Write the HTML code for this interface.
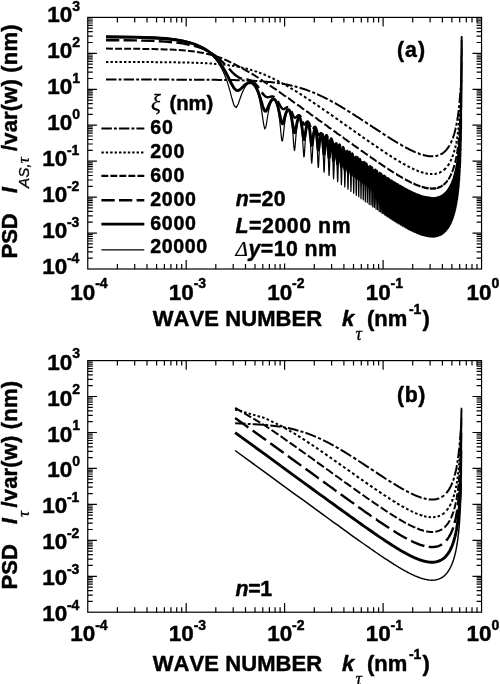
<!DOCTYPE html>
<html><head><meta charset="utf-8"><title>PSD figure</title><style>
html,body{margin:0;padding:0;background:#fff}
svg{display:block}
text{font-family:"Liberation Sans",sans-serif;font-weight:bold;fill:#000;font-kerning:none;stroke:#000;stroke-width:.45px;stroke-linejoin:round}
.tk{font-size:22.5px}
.sp{font-size:14px}
.big{font-size:22px}
.an{font-size:21.3px}
.bi{font-style:italic}
.sub{font-size:18px;font-style:italic;font-weight:normal;font-family:"Liberation Serif",serif;stroke-width:.3px}
.sub2{font-size:15.3px;font-style:italic;font-weight:normal;stroke-width:.3px}
.tau{font-family:"Liberation Serif",serif;font-size:17px}
.lg{font-size:19.6px}
.lgt{font-size:20.3px}
.xi{font-size:23px;font-style:italic;font-weight:normal;font-family:"Liberation Serif",serif;stroke-width:.3px}
.dl{font-style:italic;font-weight:normal;font-family:"Liberation Serif",serif;stroke-width:.2px}
</style></head>
<body><svg width="500" height="684" viewBox="0 0 500 684">
<rect width="500" height="684" fill="#fff"/>
<g id="plot-a">
<path d="M106 79.6L116.5 79.6M118.6 79.6L121.5 79.6M123.6 79.6L134.1 79.6M136.2 79.6L139.1 79.6M141.2 79.6L151.7 79.6M153.8 79.6L156.7 79.6M158.8 79.6L165.3 79.6L169.3 79.6M171.4 79.6L174.3 79.7M176.4 79.7L182.7 79.7L186.9 79.7M189 79.7L189.2 79.7L191.9 79.7M194 79.7L195 79.7L200 79.7L204.5 79.7L204.5 79.7M206.6 79.8L208.6 79.8L209.5 79.8M211.6 79.8L212.3 79.8L215.7 79.8L218.9 79.9L221.8 79.9L222.1 79.9M224.2 79.9L224.6 79.9L227.1 80M229.2 80L229.6 80L231.9 80.1L234.1 80.1L236.2 80.2L238.2 80.2L239.7 80.3M241.8 80.3L241.9 80.3L243.7 80.4L244.7 80.4M246.8 80.5L247 80.5L248.5 80.6L250 80.6L251.5 80.7L252.9 80.8L254.2 80.8L255.5 80.9L256.8 81L257.3 81M259.4 81.2L260.4 81.2L261.6 81.3L262.3 81.4M264.4 81.5L264.8 81.6L265.9 81.7L266.9 81.8L267.8 81.9L268.8 81.9L269.7 82L270.7 82.1L271.6 82.2L272.4 82.3L273.3 82.4L274.2 82.5L274.9 82.7M277 82.9L277.4 83L278.2 83.1L278.9 83.2L279.7 83.3L279.9 83.4M282 83.7L282.5 83.8L283.2 83.9L283.9 84L284.5 84.1L285.2 84.3L285.8 84.4L286.5 84.5L287.1 84.6L287.7 84.7L288.3 84.9L288.9 85L289.5 85.1L290.1 85.3L290.6 85.4L291.2 85.5L291.8 85.6L292.3 85.8L292.5 85.8M294.6 86.3L295 86.4L295.5 86.6L296 86.7L296.5 86.8L297 87L297.5 87.1L297.5 87.1M299.6 87.7L300.3 87.9L301.2 88.2L302.1 88.5L302.9 88.7L303.8 89L304.6 89.3L305.4 89.6L306.2 89.8L307 90.1L307.8 90.4L308.5 90.7L309.3 91L310 91.2L310.1 91.3M312.2 92.1L312.8 92.3L313.5 92.6L314.2 92.9L314.8 93.2L315.1 93.3M317.2 94.2L317.3 94.2L317.9 94.5L318.5 94.8L319.1 95.1L319.7 95.3L320.3 95.6L320.8 95.9L321.4 96.1L322 96.4L322.5 96.6L323 96.9L323.6 97.2L324.1 97.4L324.6 97.7L325.1 97.9L325.6 98.2L326.1 98.4L326.6 98.7L327.1 98.9L327.6 99.2L327.7 99.3M329.8 100.4L329.9 100.4L330.4 100.7L330.8 100.9L331.3 101.1L331.7 101.4L332.2 101.6L332.6 101.9L332.7 101.9M334.8 103.1L335.1 103.2L335.5 103.5L335.9 103.7L336.3 103.9L336.7 104.1L337 104.4L337.4 104.6L338 104.9L338.6 105.2L339.1 105.6L339.7 105.9L340.2 106.2L340.7 106.5L341.3 106.8L341.8 107.2L342.3 107.5L342.8 107.8L343.3 108.1L343.8 108.4L344.3 108.7L344.8 109L345.3 109.3L345.3 109.3M347.4 110.6L347.6 110.7L348 111L348.5 111.2L348.9 111.5L349.3 111.8L349.8 112.1L350.2 112.3L350.3 112.4M352.4 113.7L352.7 113.9L353.1 114.1L353.5 114.4L353.9 114.6L354.3 114.9L354.6 115.1L355 115.4L355.4 115.6L355.8 115.9L356.1 116.1L356.5 116.3L356.9 116.6L357.4 116.9L357.8 117.2L358.3 117.5L358.8 117.8L359.2 118.1L359.7 118.4L360.1 118.7L360.6 119L361 119.3L361.5 119.6L361.9 119.8L362.3 120.1L362.7 120.4L362.9 120.5M365 121.9L365.2 122L365.6 122.3L366 122.5L366.4 122.8L366.8 123.1L367.2 123.3L367.5 123.6L367.9 123.8L367.9 123.8M370 125.2L370.3 125.4L370.7 125.7L371.2 125.9L371.6 126.2L372 126.5L372.4 126.8L372.9 127.1L373.3 127.3L373.7 127.6L374.1 127.9L374.5 128.1L374.9 128.4L375.3 128.7L375.7 128.9L376.1 129.2L376.5 129.4L376.8 129.7L377.2 129.9L377.6 130.2L378 130.4L378.3 130.7L378.7 130.9L379.1 131.2L379.6 131.5L380 131.7L380.4 132L380.5 132.1M382.6 133.5L382.8 133.6L383.2 133.9L383.6 134.1L384 134.4L384.4 134.6L384.8 134.9L385.2 135.1L385.5 135.3L385.5 135.3M387.6 136.7L387.9 136.9L388.3 137.1L388.8 137.4L389.2 137.6L389.5 137.9L389.9 138.1L390.3 138.4L390.7 138.6L391.1 138.9L391.5 139.1L391.9 139.3L392.2 139.6L392.6 139.8L393.1 140.1L393.5 140.3L393.9 140.6L394.3 140.8L394.7 141.1L395.1 141.3L395.5 141.6L395.9 141.8L396.3 142L396.7 142.3L397 142.5L397.4 142.7L397.8 143L398.1 143.2M400.2 144.4L400.3 144.4L400.7 144.6L401.1 144.9L401.4 145.1L401.8 145.3L402.2 145.5L402.7 145.8L403.1 146L403.1 146M405.2 147.2L405.5 147.3L405.9 147.6L406.3 147.8L406.7 148L407.1 148.2L407.6 148.4L408 148.6L408.4 148.9L408.8 149.1L409.2 149.3L409.6 149.5L410 149.7L410.5 149.9L410.9 150.1L411.3 150.3L411.7 150.5L412.1 150.7L412.6 150.9L413 151.1L413.4 151.3L413.8 151.5L414.3 151.7L414.7 151.9L415.2 152.1L415.6 152.3L415.7 152.3M417.8 153.2L418.2 153.3L418.7 153.5L419.2 153.7L419.6 153.8L420 154L420.5 154.2L420.7 154.2M422.8 154.9L422.9 154.9L423.3 155L423.8 155.2L424.3 155.3L424.8 155.4L425.3 155.5L425.8 155.6L426.3 155.7L426.8 155.8L427.3 155.9L427.9 156L428.4 156.1L428.9 156.2L429.5 156.2L430.1 156.3L430.6 156.3L431.2 156.3L431.8 156.3L432 156.3L432.6 156.3L433.2 156.3L433.3 156.3M435.4 156.1L436 156L436.5 155.9L437 155.8L437.4 155.6L437.9 155.5L438.3 155.4M440.4 154.5L440.6 154.4L441 154.2L441.4 154L441.7 153.8L442.1 153.6L442.5 153.3L442.9 153.1L443.2 152.8L443.6 152.5L443.9 152.3L444.2 152L444.6 151.7L444.9 151.4L445.2 151.1L445.5 150.8L445.8 150.5L446.1 150.2L446.4 149.8L446.7 149.5L446.9 149.2L447.2 148.8L447.5 148.5L447.7 148.1L448 147.8L448.3 147.4L448.5 147L448.7 146.7L449 146.3L449.2 145.9L449.5 145.5L449.5 145.4M450.7 143.3L450.8 143.1L451 142.7L451.2 142.2L451.4 141.8L451.5 141.4L451.7 141L451.9 140.5L452 140.4M452.8 138.3L453 137.8L453.1 137.4L453.3 136.9L453.4 136.4L453.6 136L453.7 135.5L453.9 135L454 134.5L454.2 134L454.3 133.6L454.5 133.1L454.6 132.6L454.7 132.1L454.9 131.6L455 131.1L455.1 130.6L455.3 130.1L455.4 129.6L455.5 129.1L455.6 128.6L455.7 128L455.8 127.8M456.3 125.7L456.3 125.4L456.4 124.9L456.5 124.4L456.6 123.8L456.7 123.2L456.8 122.8M457.2 120.7L457.2 120.6L457.3 120.1L457.4 119.5L457.5 118.9L457.6 118.3L457.6 117.8L457.7 117.3L457.8 116.7L457.9 116.2L458 115.6L458 115.1L458.1 114.5L458.2 113.9L458.3 113.3L458.4 112.7L458.4 112.1L458.5 111.6L458.6 111.1L458.6 110.5L458.7 110.2M458.9 108.1L459 107.6L459 106.9L459.1 106.3L459.2 105.7L459.2 105.2M459.4 103.1L459.5 102.8L459.5 102.2L459.6 101.6L459.6 101L459.7 100.4L459.7 99.8L459.8 99.2L459.8 98.6L459.9 97.9L459.9 97.3L460 96.6L460.1 96L460.1 95.3L460.2 94.6L460.2 94L460.3 93.3L460.3 92.6L460.3 92.6M460.5 90.5L460.5 89.8L460.6 89.1L460.6 88.5L460.7 87.8L460.7 87.6M460.9 85.5L460.9 85.1L461 84.5L461 83.9L461.1 83.3L461.1 82.8L461.2 82.1L461.3 81.6L461.3 81L461.4 80.4L461.5 79.9L461.7 79.6" fill="none" stroke="#000" stroke-width="2.0" stroke-linejoin="round"/>
<path d="M460.8 90.4L460.8 89.7L460.9 89.1L460.9 88.4L460.9 87.7L460.9 87L460.9 86.3L461 85.6L461 84.9L461 84.1L461 83.4L461 82.6L461.1 81.9L461.1 81.1L461.1 80.3L461.1 79.5L461.2 78.6L461.2 77.8L461.2 77L461.2 76.1L461.2 75.3L461.3 74.4L461.3 73.5L461.3 72.7L461.3 71.8L461.3 70.9L461.4 70.1L461.4 69.3L461.4 68.4L461.4 67.6L461.5 66.8L461.5 66.1L461.5 65.4L461.5 64.7L461.5 64.1L461.6 63.4L461.6 62.7L461.6 62.1L461.7 62" fill="none" stroke="#000" stroke-width="1.6" stroke-linejoin="round"/>
<path d="M106 62L108.4 62M110.5 62L112.9 62.1M115 62.1L117.4 62.1M119.5 62.1L121.9 62.1M124 62.1L126.4 62.1M128.5 62.1L130.9 62.1M133 62.1L135.4 62.1M137.5 62.1L139.9 62.1M142 62.1L144.4 62.1M146.5 62.1L148.9 62.1M151 62.1L153 62.1L153.4 62.1M155.5 62.2L157.9 62.2M160 62.2L162.4 62.2M164.5 62.2L165.3 62.2L166.9 62.2M169 62.3L171.4 62.3M173.5 62.3L174.9 62.3L175.9 62.3M178 62.4L180.4 62.4M182.5 62.4L182.7 62.4L184.9 62.5M187 62.5L189.2 62.6L189.4 62.6M191.5 62.7L193.9 62.7M196 62.8L198.4 62.9M200.5 63L202.9 63.1M205 63.2L207.4 63.3M209.5 63.4L211.9 63.6M214 63.7L215.7 63.9L216.4 63.9M218.5 64.1L218.9 64.1L220.9 64.3M223 64.6L224.6 64.7L225.4 64.8M227.5 65.1L229.6 65.4L229.9 65.4M232 65.8L234.1 66.1L234.4 66.2M236.5 66.5L238.2 66.8L238.9 67M241 67.4L241.9 67.6L243.4 68M245.5 68.5L247 68.8L247.9 69.1M250 69.7L251.5 70.1L252.4 70.4M254.5 71.1L255.5 71.4L256.8 71.8L256.9 71.9M259 72.6L259.3 72.7L260.4 73.1L261.4 73.5M263.5 74.3L263.8 74.4L264.8 74.8L265.9 75.3L265.9 75.3M268 76.2L268.8 76.6L269.7 77L270.4 77.3M272.5 78.3L273.3 78.6L274.2 79.1L274.9 79.4M277 80.5L277.4 80.7L278.2 81.1L278.9 81.5L279.4 81.8M281.5 82.9L281.8 83L282.5 83.4L283.2 83.8L283.9 84.1L283.9 84.2M286 85.4L286.5 85.6L287.1 86L287.7 86.3L288.3 86.7L288.4 86.8M290.5 88L290.6 88.1L291.2 88.4L291.8 88.7L292.3 89.1L292.9 89.4L292.9 89.4M295 90.7L295.5 91L296 91.3L296.5 91.6L297 91.9L297.4 92.2M299.5 93.5L299.8 93.7L300.3 94L300.8 94.3L301.2 94.6L301.6 94.9L301.9 95.1M304 96.4L304.2 96.5L304.6 96.8L305 97.1L305.4 97.3L305.8 97.6L306.2 97.9L306.4 98M308.5 99.4L308.5 99.4L308.9 99.6L309.3 99.9L309.7 100.1L310 100.4L310.4 100.6L310.9 101M313 102.4L313.2 102.5L313.8 102.9L314.5 103.4L315.1 103.8L315.4 104M317.5 105.5L317.6 105.5L318.2 105.9L318.8 106.3L319.4 106.7L319.9 107.1M322 108.6L322.2 108.7L322.8 109.1L323.3 109.4L323.8 109.8L324.4 110.2L324.4 110.2M326.5 111.7L326.9 111.9L327.4 112.2L327.8 112.6L328.3 112.9L328.8 113.2L328.9 113.3M331 114.8L331.1 114.8L331.5 115.1L331.9 115.4L332.4 115.7L332.8 116L333.2 116.3L333.4 116.5M335.5 118L335.7 118.1L336.1 118.4L336.5 118.6L336.8 118.9L337.2 119.2L337.6 119.4L337.9 119.7M340 121.2L340.2 121.3L340.6 121.5L340.9 121.8L341.4 122.1L341.9 122.5L342.4 122.9M344.5 124.3L344.9 124.6L345.4 125L345.9 125.3L346.4 125.6L346.8 125.9L346.9 126M349 127.5L349.1 127.5L349.5 127.8L349.9 128.1L350.3 128.4L350.8 128.7L351.2 129L351.4 129.2M353.5 130.7L353.6 130.7L354 131L354.4 131.3L354.8 131.6L355.1 131.8L355.5 132.1L355.9 132.4L355.9 132.4M358 133.9L358.1 133.9L358.5 134.2L359 134.5L359.5 134.9L359.9 135.2L360.4 135.5L360.4 135.6M362.5 137L363 137.3L363.4 137.6L363.8 137.9L364.2 138.2L364.6 138.5L364.9 138.7M367 140.2L367.3 140.4L367.7 140.7L368.1 140.9L368.5 141.2L368.8 141.4L369.2 141.7L369.4 141.9M371.5 143.3L371.6 143.3L372 143.6L372.4 143.9L372.9 144.2L373.3 144.5L373.7 144.8L373.9 145M376 146.4L376.1 146.4L376.5 146.7L376.8 146.9L377.2 147.2L377.6 147.4L378 147.7L378.3 147.9L378.4 148M380.5 149.4L380.7 149.5L381.1 149.8L381.5 150.1L381.9 150.4L382.3 150.6L382.7 150.9L382.9 151.1M385 152.4L385.4 152.7L385.8 152.9L386.1 153.2L386.5 153.4L386.9 153.7L387.3 154L387.4 154M389.5 155.4L389.8 155.5L390.2 155.8L390.6 156L390.9 156.3L391.3 156.5L391.7 156.8L391.9 156.9M394 158.2L394.1 158.3L394.5 158.5L394.9 158.8L395.3 159L395.7 159.3L396.1 159.5L396.4 159.7M398.5 161L398.8 161.2L399.2 161.4L399.6 161.7L400 161.9L400.4 162.1L400.8 162.4L400.9 162.4M403 163.6L403.2 163.7L403.6 164L404 164.2L404.4 164.4L404.8 164.6L405.2 164.9L405.4 165M407.5 166.1L407.7 166.2L408.1 166.4L408.5 166.6L408.9 166.8L409.3 167L409.8 167.2L409.9 167.3M412 168.4L412.3 168.5L412.7 168.7L413.1 168.9L413.6 169.1L414 169.3L414.4 169.5L414.4 169.5M416.5 170.4L416.6 170.4L417 170.6L417.5 170.8L417.9 170.9L418.4 171.1L418.8 171.3L418.9 171.3M421 172L421.1 172.1L421.6 172.2L422 172.4L422.5 172.5L423 172.6L423.4 172.8M425.5 173.3L426 173.4L426.5 173.5L427 173.6L427.5 173.7L427.9 173.7M430 174L430.2 174L430.8 174L431.4 174.1L432 174.1L432 174.1L432.4 174.1M434.5 173.9L434.9 173.9L435.4 173.8L436 173.7L436.5 173.6L436.9 173.5M439 172.8L439.3 172.8L439.7 172.6L440.1 172.4L440.5 172.2L440.9 172L441.3 171.7L441.4 171.7M443.5 170.3L443.9 170L444.2 169.7L444.5 169.4L444.9 169.1L445.2 168.8L445.5 168.5L445.8 168.2L445.9 168M447.6 165.9L447.7 165.8L448 165.4L448.3 165.1L448.5 164.7L448.7 164.3L449 163.9L449.2 163.5L449.2 163.5M450.4 161.4L450.5 161.1L450.7 160.7L450.9 160.3L451.1 159.9L451.3 159.4L451.5 159M452.4 156.9L452.4 156.8L452.6 156.3L452.8 155.9L452.9 155.4L453.1 154.9L453.2 154.5M453.9 152.4L454 152.1L454.1 151.6L454.3 151.2L454.4 150.7L454.5 150.2L454.6 150M455.1 147.9L455.2 147.7L455.3 147.2L455.4 146.7L455.5 146.1L455.7 145.6L455.7 145.5M456.1 143.4L456.2 143L456.3 142.5L456.4 141.9L456.5 141.4L456.6 141M456.9 138.9L457 138.7L457.1 138.1L457.2 137.5L457.3 137L457.3 136.5M457.6 134.4L457.7 134.2L457.7 133.6L457.8 133L457.9 132.4L458 132M458.2 129.9L458.3 129.6L458.3 129L458.4 128.4L458.5 127.8L458.5 127.5M458.7 125.4L458.7 125.4L458.8 124.8L458.8 124.3L458.9 123.7L458.9 123.1L458.9 123M459.1 120.9L459.2 120.6L459.2 120L459.3 119.3L459.3 118.6L459.3 118.5M459.5 116.4L459.5 116.2L459.6 115.6L459.6 115L459.7 114.4L459.7 114M459.8 111.9L459.8 111.7L459.9 111L459.9 110.3L460 109.6L460 109.5M460.1 107.4L460.1 106.9L460.1 106.3L460.2 105.7L460.2 105.1L460.2 105M460.3 102.9L460.3 102.5L460.4 101.8L460.4 101.1L460.4 100.5M460.5 98.4L460.5 98.1L460.6 97.3L460.6 96.5L460.6 96M460.7 93.9L460.7 93.4L460.7 92.8L460.8 92.2L460.8 91.6L460.8 91.5" fill="none" stroke="#000" stroke-width="2.0" stroke-linejoin="round"/>
<path d="M460.6 109.1L460.6 108.4L460.7 107.7L460.7 107L460.7 106.3L460.7 105.7L460.7 105.1L460.8 104.5L460.8 103.8L460.8 103.1L460.8 102.4L460.8 101.5L460.9 100.7L460.9 99.8L460.9 99L460.9 98.1L461 97.3L461 96.5L461 95.7L461 94.8L461 93.8L461.1 92.8L461.1 91.7L461.1 90.5L461.1 89.4L461.1 88.3L461.2 87.2L461.2 86.1L461.2 84.9L461.2 84.3L461.2 83.6L461.2 83L461.3 82.3L461.3 81.5L461.3 80.8L461.3 80L461.3 79.2L461.3 78.4L461.3 77.6L461.3 76.8L461.3 76L461.3 75.2L461.4 74.4L461.4 73.6L461.4 72.7L461.4 71.9L461.4 71L461.4 70.1L461.4 69.2L461.4 68.2L461.4 67.2L461.5 66.2L461.5 65.1L461.5 64L461.5 62.9L461.5 61.8L461.5 60.6L461.5 59.5L461.5 58.3L461.5 57.2L461.5 56.2L461.6 55.1L461.6 54.2L461.6 53.2L461.6 52.4L461.6 51.6L461.6 50.9L461.6 50.3L461.6 49.4L461.7 48.8L461.7 48.6" fill="none" stroke="#000" stroke-width="1.6" stroke-linejoin="round"/>
<path d="M106 48.6L112.9 48.7M115.1 48.7L122 48.7M124.2 48.7L131.1 48.7M133.3 48.8L135.7 48.8L140.2 48.8M142.4 48.9L149.3 49M151.5 49L153 49L158.4 49.2M160.6 49.2L165.3 49.4L167.5 49.5M169.7 49.6L174.9 49.8L176.6 49.9M178.8 50.1L182.7 50.3L185.7 50.6M187.9 50.8L189.2 50.9L194.8 51.6M197 51.9L200 52.4L203.9 53.1M206.1 53.6L208.6 54.2L212.3 55.1L213 55.4M215.2 56L215.7 56.2L218.9 57.2L221.8 58.3L222.1 58.5M224.3 59.4L224.6 59.5L227.2 60.6L229.6 61.8L231.2 62.6M233.4 63.7L234.1 64L236.2 65.1L238.2 66.2L240.1 67.2L240.3 67.3M242.5 68.5L243.7 69.2L245.3 70.1L247 71L248.5 71.9L249.4 72.4M251.6 73.7L252.9 74.4L254.2 75.2L255.5 76L256.8 76.8L258.1 77.6L258.5 78M260.7 79.5L261.6 80L262.7 80.8L263.8 81.5L264.8 82.3L265.9 83L266.9 83.6L267.6 84.1M269.8 85.6L270.7 86.1L271.6 86.6L272.4 87.2L273.3 87.8L274.2 88.3L275 88.9L275.8 89.4L276.6 90L276.7 90.1M278.9 91.7L279.7 92.2L280.4 92.8L281.1 93.3L281.8 93.8L282.5 94.3L283.2 94.8L283.9 95.3L284.5 95.7L285.2 96.1L285.8 96.5L285.8 96.6M288 98L288.3 98.1L288.9 98.6L289.5 99L290.1 99.4L290.6 99.8L291.2 100.3L291.8 100.7L292.3 101.1L292.9 101.5L293.4 102L293.9 102.4L294.5 102.7L294.9 103.1M297.1 104.6L297.5 104.8L298 105.1L298.4 105.4L298.9 105.7L299.4 106L299.8 106.3L300.3 106.7L300.8 107L301.2 107.4L301.6 107.7L302.1 108.1L302.5 108.4L302.9 108.8L303.4 109.1L303.8 109.4L304 109.6M306.2 111.1L306.6 111.3L307 111.5L307.4 111.8L307.8 112L308.2 112.3L308.5 112.6L308.9 112.9L309.3 113.1L309.7 113.4L310 113.7L310.4 114L310.7 114.3L311.1 114.6L311.4 114.9L311.8 115.2L312.5 115.6L313.1 116.1M315.3 117.5L315.8 117.8L316.4 118.3L317 118.8L317.6 119.3L318.2 119.8L318.8 120.2L319.4 120.6L320 120.9L320.6 121.3L321.1 121.6L321.7 122L322.2 122.5L322.2 122.5M324.4 124.3L324.9 124.5L325.4 124.8L325.9 125.1L326.4 125.4L326.9 125.8L327.4 126.2L327.8 126.6L328.3 127L328.8 127.4L329.2 127.8L329.7 128.1L330.2 128.3L330.6 128.6L331.1 128.8L331.3 129M333.5 130.8L333.6 130.9L334.1 131.2L334.5 131.4L334.9 131.6L335.3 131.9L335.7 132.1L336.1 132.4L336.5 132.8L336.8 133.1L337.2 133.5L337.6 133.8L338 134L338.6 134.4L339.1 134.7L339.7 135L340 135.3L340.4 135.6L340.4 135.7M342.6 137.2L343 137.4L343.5 137.8L343.8 138.1L344.1 138.4L344.5 138.7L344.9 139L345.4 139.3L345.9 139.6L346.4 139.8L346.8 140.2L347.3 140.6L347.7 141L348.2 141.4L348.6 141.6L349.1 141.8L349.5 142.1L349.5 142.1M351.7 143.8L352.1 144L352.5 144.3L352.9 144.6L353.3 145L353.7 145.4L354.1 145.6L354.6 145.8L355.1 146.1L355.5 146.4L355.9 146.8L356.3 147.2L356.8 147.4L357.2 147.6L357.7 147.9L358.1 148.3L358.4 148.6L358.6 148.8M360.8 150.4L361.2 150.7L361.7 150.8L362.1 151L362.5 151.4L362.9 151.7L363.2 152L363.6 152.3L364.1 152.5L364.5 152.8L364.8 153.1L365.1 153.4L365.5 153.7L366 153.8L366.5 154.1L366.9 154.5L367.3 154.9L367.7 155.1M369.8 156.5L370.2 156.7L370.5 157.1L370.9 157.4L371.3 157.7L371.8 157.9L372.2 158.2L372.5 158.5L372.9 158.8L373.4 159L373.8 159.2L374.1 159.6L374.4 159.9L374.9 160.1L375.4 160.3L375.7 160.6L376 161L376.5 161.2L376.6 161.2M378.7 162.7L378.8 162.7L379.1 163.1L379.5 163.2L380 163.5L380.3 163.8L380.6 164.1L381.2 164.3L381.5 164.5L381.8 164.9L382.2 165.1L382.7 165.3L383 165.7L383.4 166L383.9 166.1L384.3 166.4L384.6 166.8L385.1 166.9L385.4 167.1M387.4 168.6L387.5 168.6L387.9 168.8L388.2 169.1L388.6 169.3L388.7 169.3L389.2 169.6L389.4 169.9L389.8 170.1L389.9 170.1L390.3 170.3L390.6 170.6L390.9 170.8L391 170.8L391.4 171L391.7 171.4L392 171.5L392.2 171.5L392.5 171.8L392.9 172.1L393 172.2L393.2 172.2L393.6 172.5L393.9 172.8M396 174.1L396.1 174.1L396.3 174.1L396.7 174.4L397 174.7L397.1 174.7L397.3 174.7L397.7 175L398 175.3L398.2 175.3L398.6 175.6L398.9 175.9L399 175.9L399.2 175.8L399.6 176.1L399.9 176.4L400.1 176.4L400.4 176.7L400.7 176.9L401 176.9L401.4 177.2L401.6 177.5L401.9 177.4L402.2 177.7L402.5 177.9L402.7 177.9L402.9 178M405.1 179.3L405.2 179.3L405.5 179.6L405.8 179.8L406 179.7L406.4 180.1L406.5 180.2L406.8 180.1L407.1 180.4L407.3 180.6L407.6 180.5L407.9 180.9L408.1 181L408.3 180.9L408.6 181.2L408.8 181.4L409.1 181.3L409.4 181.6L409.5 181.8L409.8 181.7L410.1 182L410.2 182.1L410.5 182L410.8 182.4L411 182.5L411.2 182.4L411.5 182.7L411.6 182.8L411.8 182.8M413.8 183.7L413.9 183.6L414.2 184L414.3 184.1L414.6 183.9L414.9 184.3L414.9 184.4L415.2 184.2L415.5 184.5L415.6 184.6L415.8 184.5L416.1 184.8L416.2 184.9L416.4 184.7L416.7 185.1L416.8 185.1L417.1 185L417.4 185.4L417.4 185.4L417.7 185.2L418 185.6L418 185.6L418.3 185.5L418.6 185.8L418.6 185.8L418.8 185.7L419.1 186L419.2 186.1L419.4 185.9L419.7 186.3L419.8 186.3L420 186.1L420.1 186.2M422.1 187L422.2 186.8L422.5 187.2L422.8 187L423 187.3L423.1 187.3L423.3 187.1L423.6 187.5L423.8 187.3L424.1 187.6L424.3 187.4L424.6 187.7L424.8 187.5L425.1 187.9L425.3 187.7L425.6 188L425.8 187.8L426.1 188.1L426.3 187.9L426.6 188.2L426.8 188L427.1 188.3L427.3 188.1L427.6 188.4L427.8 188.1L428 188.4L428.2 188.2L428.4 188.4M430.3 188.7L430.5 188.4L430.8 188.7L431 188.5L431.2 188.7L431.4 188.5L431.6 188.7L431.8 188.5L432 188.7L432.3 188.5L432.5 188.7L432.7 188.5L432.9 188.7L433.1 188.5L433.3 188.7L433.5 188.4L433.7 188.7L433.9 188.4L434.1 188.6L434.3 188.4L434.5 188.6L434.7 188.3L434.9 188.6L435.1 188.3L435.3 188.5L435.5 188.2L435.7 188.4L435.9 188.1M437.6 187.9L437.6 188L437.8 187.7L438 187.9L438.2 187.5L438.4 187.7L438.6 187.4L438.8 187.6L439 187.3L439.1 187.5L439.3 187.1L439.5 187.3L439.7 187L439.8 187.2L440 186.8L440.2 187L440.4 186.7L440.5 186.8L440.7 186.5L440.9 186.7L441.1 186.3L441.2 186.5L441.4 186.1L441.6 186.3L441.8 185.9L441.9 186.1L442.1 185.7L442.2 185.8L442.3 185.8M443.6 184.8L443.8 184.5L443.9 184.6L444.1 184.2L444.2 184.4L444.4 183.9L444.5 184.1L444.7 183.7L444.7 183.6L444.9 183.8L445 183.3L445.2 183.5L445.4 183L445.4 183L445.5 183.2L445.7 182.7L445.7 182.7L445.8 182.8L446 182.4L446 182.4L446.1 182.5L446.3 182L446.3 182L446.4 182.1L446.6 181.7L446.6 181.7L446.7 181.8L446.9 181.3L446.9 181.3L447 181.4L447.2 180.9L447.2 180.9L447.3 181L447.4 180.8M448.5 179.3L448.7 178.9L448.7 178.8L448.8 178.9L448.9 178.4L449 178.4L449.1 178.4L449.2 178L449.3 177.9L449.4 177.9L449.5 177.5L449.5 177.4L449.6 177.5L449.8 177L449.8 176.9L449.9 176.9L450.1 176.5L450.1 176.4L450.2 176.4L450.3 175.9L450.4 175.8L450.5 175.9L450.6 175.4L450.7 175.3L450.8 175.3L450.9 174.8L451 174.7L451 174.7L451.2 174.2L451.2 174.1L451.3 174.1L451.4 173.6L451.4 173.6M452.3 171.7L452.3 171.5L452.4 171.5L452.5 171L452.6 170.8L452.6 170.8L452.8 170.3L452.9 170.1L452.9 170.1L453 169.6L453.1 169.3L453.1 169.3L453.3 168.9L453.4 168.6L453.4 168.6L453.5 168L453.7 167.6L453.8 167L454 166.6L454.1 166.1L454.3 165.6L454.5 165.1L454.5 165M455 162.8L455.1 162.6L455.2 162.1L455.3 161.6L455.5 161.1L455.6 160.5L455.7 160L455.8 159.5L455.9 158.9L456 158.4L456.1 157.9L456.2 157.4L456.3 156.8L456.5 156.3L456.5 155.9M456.9 153.7L456.9 153.6L457 153L457.1 152.4L457.2 151.9L457.3 151.3L457.4 150.8L457.4 150.2L457.5 149.7L457.6 149.1L457.7 148.5L457.7 147.9L457.8 147.4L457.9 146.8L457.9 146.8M458.2 144.6L458.2 144.5L458.3 143.9L458.3 143.3L458.4 142.7L458.5 142.1L458.5 141.5L458.6 140.9L458.7 140.3L458.7 139.7L458.8 139.2L458.8 138.5L458.9 137.9L458.9 137.7M459.1 135.5L459.1 135.3L459.2 134.7L459.2 134L459.3 133.5L459.3 132.8L459.4 132.1L459.4 131.5L459.5 130.9L459.5 130.2L459.6 129.6L459.6 129L459.6 128.6M459.8 126.4L459.8 125.8L459.9 125.1L459.9 124.5L459.9 123.8L460 123.2L460 122.5L460 121.8L460.1 121.1L460.1 120.4L460.2 119.8L460.2 119.5M460.3 117.3L460.3 116.9L460.3 116.3L460.4 115.6L460.4 114.9L460.4 114L460.4 113.4L460.5 112.9L460.5 112L460.5 111.3L460.6 110.5L460.6 110.4" fill="none" stroke="#000" stroke-width="2.0" stroke-linejoin="round"/>
<path d="M432.1 203.2L432.1 202.5L432.1 201.7L432.1 200.8L432.2 199.9L432.2 199.2L432.2 198.6L432.3 198.1L432.3 198.9L432.3 199.6L432.4 200.4L432.4 201.2L432.4 202.1L432.4 202.9L432.4 203.5L432.5 203.8L432.5 202.9L432.5 202.1L432.6 201.2L432.6 200.3L432.6 199.5L432.6 198.9L432.7 198.1L432.7 198L432.7 198.6L432.7 199.2L432.8 200L432.8 200.8L432.8 201.7L432.8 202.5L432.9 203.2L432.9 203.8L432.9 203.2L433 202.5L433 201.6L433 200.7L433 199.9L433 199.1L433.1 198.2L433.1 198L433.2 198.9L433.2 199.6L433.2 200.4L433.2 201.3L433.2 202.1L433.3 202.9L433.3 203.8L433.4 202.8L433.4 202L433.4 201.1L433.4 200.3L433.4 199.5L433.5 198.8L433.5 198.1L433.5 198L433.6 198.6L433.6 199.2L433.6 199.9L433.6 200.8L433.6 201.7L433.7 202.5L433.7 203.2L433.7 203.8L433.8 203.1L433.8 202.4L433.8 201.5L433.8 200.6L433.8 199.8L433.9 199.1L433.9 198.1L433.9 198L434 198.9L434 199.5L434 200.4L434 201.2L434.1 202.1L434.1 202.9L434.1 203.7L434.2 202.7L434.2 201.9L434.2 201L434.2 200.2L434.3 199.4L434.3 198.7L434.3 198L434.3 197.9L434.4 198.5L434.4 199.1L434.4 199.9L434.4 200.8L434.5 201.7L434.5 202.5L434.5 203.2L434.5 203.7L434.6 203L434.6 202.3L434.6 201.4L434.6 200.5L434.7 199.7L434.7 199L434.7 198L434.7 197.9L434.8 198.8L434.8 199.5L434.8 200.3L434.9 201.2L434.9 202.1L434.9 202.8L434.9 203.6L435 202.6L435 201.8L435 200.9L435 200L435.1 199.2L435.1 198.6L435.1 197.9L435.1 197.8L435.2 198.5L435.2 199.1L435.2 199.8L435.2 200.7L435.3 201.6L435.3 202.4L435.3 203.1L435.3 203.6L435.4 202.9L435.4 202.1L435.4 201.3L435.4 200.4L435.5 199.5L435.5 198.8L435.5 197.9L435.5 197.8L435.6 198.7L435.6 199.4L435.6 200.2L435.6 201.1L435.7 202L435.7 202.7L435.7 203.5L435.8 202.4L435.8 201.6L435.8 200.7L435.8 199.9L435.9 199.1L435.9 198.4L435.9 197.7L435.9 197.7L436 198.4L436 199L436 199.7L436 200.6L436 201.5L436.1 202.3L436.1 203L436.1 203.5L436.2 202.7L436.2 202L436.2 201.1L436.2 200.2L436.2 199.4L436.3 198.6L436.3 197.7L436.3 197.6L436.4 198.6L436.4 199.3L436.4 200.1L436.4 201L436.4 201.8L436.5 202.6L436.5 203.4L436.6 202.3L436.6 201.4L436.6 200.5L436.6 199.7L436.6 198.9L436.7 198.2L436.7 197.6L436.7 197.6L436.7 198.2L436.8 198.8L436.8 199.6L436.8 200.5L436.8 201.4L436.8 202.2L436.9 202.8L436.9 203.3L436.9 202.5L437 201.8L437 200.9L437 200L437 199.2L437 198.4L437.1 197.6L437.1 197.4L437.1 198.4L437.2 199.1L437.2 199.9L437.2 200.8L437.2 201.7L437.2 202.4L437.3 203.2L437.3 202L437.3 201.2L437.4 200.3L437.4 199.4L437.4 198.7L437.4 198L437.4 197.4L437.5 198L437.5 198.7L437.5 199.4L437.6 200.3L437.6 201.2L437.6 202L437.6 202.6L437.7 203.1L437.7 202.3L437.7 201.5L437.7 200.6L437.7 199.7L437.8 198.9L437.8 198.2L437.8 197.3L437.8 197.2L437.9 198.2L437.9 198.9L437.9 199.8L437.9 200.7L438 201.5L438 202.2L438 203L438.1 201.8L438.1 201L438.1 200.1L438.1 199.2L438.1 198.4L438.2 197.8L438.2 197.1L438.3 197.8L438.3 198.5L438.3 199.2L438.3 200.1L438.3 201L438.3 201.8L438.4 202.4L438.4 202.8L438.4 202L438.5 201.2L438.5 200.4L438.5 199.5L438.5 198.6L438.5 197.9L438.6 197.1L438.6 197L438.6 198L438.6 198.7L438.7 199.6L438.7 200.4L438.7 201.3L438.7 202L438.8 202.7L438.8 201.5L438.8 200.7L438.8 199.8L438.9 198.9L438.9 198.1L438.9 197.5L438.9 196.9L439 197.6L439 198.2L439 199L439 199.9L439.1 200.8L439.1 201.6L439.1 202.2L439.1 202.6L439.2 201.7L439.2 200.9L439.2 200.1L439.2 199.2L439.2 198.3L439.3 197.6L439.3 196.8L439.3 196.7L439.4 197.8L439.4 198.5L439.4 199.3L439.4 200.2L439.4 201L439.4 201.8L439.5 202.4L439.5 201.9L439.5 201.2L439.6 200.3L439.6 199.4L439.6 198.6L439.6 197.8L439.6 197.2L439.7 196.6L439.7 197.3L439.7 198L439.7 198.7L439.8 199.6L439.8 200.5L439.8 201.3L439.8 201.9L439.8 202.3L439.9 201.4L439.9 200.6L439.9 199.7L439.9 198.8L440 198L440 197.3L440 196.5L440 196.4L440.1 197.5L440.1 198.2L440.1 199L440.1 199.9L440.1 200.8L440.2 201.5L440.2 202.1L440.2 201.5L440.2 200.8L440.3 200L440.3 199.1L440.3 198.2L440.3 197.5L440.3 196.8L440.4 196.2L440.4 197L440.4 197.7L440.5 198.4L440.5 199.3L440.5 200.2L440.5 201L440.5 201.6L440.6 201.9L440.6 201L440.6 200.2L440.6 199.3L440.6 198.4L440.7 197.6L440.7 196.9L440.7 196.1L440.7 196.1L440.8 197.1L440.8 197.9L440.8 198.7L440.8 199.6L440.8 200.4L440.9 201.1L440.9 201.8L440.9 201.1L440.9 200.4L441 199.6L441 198.7L441 197.8L441 197.1L441 196.5L441.1 195.9L441.1 196.7L441.1 197.3L441.1 198.1L441.2 199L441.2 199.9L441.2 200.6L441.2 201.2L441.2 201.5L441.3 200.6L441.3 199.8L441.3 198.9L441.3 198L441.4 197.2L441.4 196.5L441.4 195.7L441.4 195.7L441.5 196.8L441.5 197.5L441.5 198.4L441.5 199.3L441.5 200.1L441.6 200.8L441.6 201.4L441.6 200.7L441.6 200L441.7 199.2L441.7 198.3L441.7 197.4L441.7 196.6L441.7 196L441.8 195.5L441.8 196.3L441.8 197L441.8 197.7L441.9 198.6L441.9 199.5L441.9 200.3L441.9 201.1L442 200.2L442 199.4L442 198.5L442 197.6L442 196.8L442.1 196.1L442.1 195.3L442.1 195.3L442.1 196.4L442.2 197.1L442.2 198L442.2 198.9L442.2 199.7L442.2 200.4L442.3 201L442.3 200.3L442.3 199.6L442.3 198.7L442.3 197.8L442.4 196.9L442.4 196.2L442.4 195.6L442.4 195L442.5 195.9L442.5 196.5L442.5 197.3L442.5 198.2L442.5 199.1L442.6 199.9L442.6 200.7L442.6 199.7L442.7 198.9L442.7 198L442.7 197.1L442.7 196.3L442.7 195.6L442.8 194.9L442.8 194.8L442.8 195.4L442.8 196L442.8 196.7L442.9 197.6L442.9 198.4L442.9 199.3L442.9 199.9L442.9 200.5L443 199.8L443 199.1L443 198.2L443 197.3L443 196.4L443 195.7L443.1 194.7L443.1 194.6L443.1 195.4L443.2 196.1L443.2 196.9L443.2 197.8L443.2 198.6L443.2 199.4L443.3 200.2L443.3 199.2L443.3 198.4L443.3 197.5L443.4 196.6L443.4 195.8L443.4 195.1L443.4 194.4L443.4 194.3L443.5 194.9L443.5 195.5L443.5 196.3L443.5 197.1L443.5 198L443.5 198.8L443.6 199.5L443.6 200L443.6 199.3L443.6 198.5L443.7 197.7L443.7 196.7L443.7 195.9L443.7 195.2L443.7 194.2L443.8 194.1L443.8 194.9L443.8 195.6L443.8 196.4L443.8 197.3L443.9 198.2L443.9 198.9L443.9 199.7L444 198.6L444 197.8L444 196.9L444 196L444 195.2L444 194.6L444.1 193.8L444.1 193.8L444.1 194.4L444.1 195L444.1 195.8L444.2 196.6L444.2 197.5L444.2 198.3L444.2 199L444.2 199.4L444.3 198.7L444.3 197.9L444.3 197.1L444.3 196.2L444.3 195.3L444.3 194.6L444.4 193.7L444.4 193.5L444.4 194.4L444.5 195.1L444.5 195.9L444.5 196.8L444.5 197.6L444.5 198.4L444.6 199.2L444.6 198L444.6 197.2L444.6 196.3L444.6 195.4L444.7 194.6L444.7 194L444.7 193.3L444.7 193.2L444.8 193.8L444.8 194.5L444.8 195.2L444.8 196.1L444.8 196.9L444.8 197.7L444.8 198.4L444.9 198.9L444.9 198.1L444.9 197.3L444.9 196.5L445 195.5L445 194.7L445 194L445 193.1L445 192.9L445.1 193.8L445.1 194.5L445.1 195.3L445.1 196.2L445.1 197.1L445.2 197.8L445.2 198.6L445.2 197.4L445.2 196.6L445.3 195.7L445.3 194.8L445.3 194L445.3 193.3L445.3 192.6L445.4 192.6L445.4 193.3L445.4 193.9L445.4 194.6L445.4 195.5L445.4 196.4L445.5 197.2L445.5 197.8L445.5 198.2L445.5 197.4L445.6 196.7L445.6 195.8L445.6 194.9L445.6 194L445.6 193.3L445.6 192.4L445.7 192.3L445.7 193.2L445.7 193.9L445.7 194.7L445.8 195.6L445.8 196.5L445.8 197.2L445.8 197.9L445.9 196.7L445.9 195.9L445.9 195L445.9 194.1L445.9 193.3L445.9 192.7L446 192L446 192L446 192.6L446 193.2L446 194L446.1 194.9L446.1 195.7L446.1 196.5L446.1 197.2L446.1 197.6L446.2 196.7L446.2 196L446.2 195.1L446.2 194.2L446.2 193.3L446.2 192.6L446.3 191.7L446.3 191.6L446.3 192.6L446.3 193.3L446.4 194.1L446.4 195L446.4 195.8L446.4 196.5L446.4 197.2L446.5 196L446.5 195.2L446.5 194.3L446.5 193.4L446.5 192.6L446.5 191.9L446.6 191.3L446.6 191.3L446.6 191.9L446.6 192.6L446.7 193.3L446.7 194.2L446.7 195.1L446.7 195.8L446.7 196.5L446.7 196.9L446.8 196L446.8 195.2L446.8 194.3L446.8 193.4L446.8 192.6L446.8 191.9L446.9 191L446.9 190.9L446.9 191.9L446.9 192.6L447 193.4L447 194.3L447 195.1L447 195.8L447 196.5L447.1 195.9L447.1 195.2L447.1 194.4L447.1 193.5L447.1 192.6L447.1 191.8L447.2 191.2L447.2 190.5L447.2 191.2L447.2 191.8L447.3 192.6L447.3 193.5L447.3 194.3L447.3 195.1L447.3 195.7L447.3 196.1L447.4 195.2L447.4 194.4L447.4 193.5L447.4 192.6L447.4 191.8L447.4 191.1L447.5 190.2L447.5 190.1L447.5 191.1L447.5 191.8L447.6 192.7L447.6 193.5L447.6 194.4L447.6 195.1L447.6 195.7L447.7 195.1L447.7 194.4L447.7 193.6L447.7 192.6L447.7 191.8L447.7 191L447.7 190.4L447.8 189.7L447.8 190.4L447.8 191.1L447.9 191.8L447.9 192.7L447.9 193.6L447.9 194.3L447.9 194.9L447.9 195.3L448 194.4L448 193.6L448 192.7L448 191.8L448 190.9L448 190.2L448.1 189.4L448.1 189.3L448.1 190.3L448.1 191L448.2 191.9L448.2 192.7L448.2 193.6L448.2 194.3L448.2 194.9L448.3 194.2L448.3 193.5L448.3 192.7L448.3 191.8L448.3 190.9L448.3 190.1L448.3 189.5L448.4 188.9L448.4 189.6L448.4 190.2L448.4 191L448.5 191.9L448.5 192.7L448.5 193.5L448.5 194.4L448.6 193.5L448.6 192.7L448.6 191.8L448.6 190.9L448.6 190L448.6 189.3L448.7 188.5L448.7 188.4L448.7 189.5L448.7 190.2L448.7 191L448.7 191.9L448.8 192.7L448.8 193.4L448.8 194L448.8 193.3L448.8 192.6L448.9 191.7L448.9 190.8L448.9 189.9L448.9 189.2L448.9 188.6L448.9 188L449 188.7L449 189.4L449 190.1L449 191L449 191.9L449.1 192.6L449.1 193.5L449.1 192.5L449.1 191.7L449.2 190.8L449.2 189.9L449.2 189.1L449.2 188.4L449.2 187.5L449.2 187.5L449.3 188.5L449.3 189.3L449.3 190.1L449.3 191L449.3 191.8L449.4 192.5L449.4 193L449.4 192.3L449.4 191.6L449.4 190.7L449.5 189.8L449.5 189L449.5 188.2L449.5 187.6L449.5 187L449.6 187.8L449.6 188.4L449.6 189.2L449.6 190.1L449.6 190.9L449.6 191.7L449.7 192.5L449.7 191.5L449.7 190.7L449.7 189.8L449.7 188.9L449.8 188L449.8 187.3L449.8 186.5L449.8 186.5L449.9 187.6L449.9 188.3L449.9 189.1L449.9 190L449.9 190.8L449.9 191.5L449.9 192L450 191.3L450 190.6L450 189.7L450 188.8L450 187.9L450 187.1L450.1 186.5L450.1 186L450.1 186.8L450.1 187.4L450.2 188.2L450.2 189.1L450.2 189.9L450.2 190.7L450.2 191.5L450.3 190.4L450.3 189.6L450.3 188.7L450.3 187.8L450.3 186.9L450.3 186.3L450.4 185.5L450.4 185.4L450.4 186.5L450.4 187.3L450.4 188.1L450.5 189L450.5 189.8L450.5 190.4L450.5 190.9L450.5 190.2L450.5 189.5L450.6 188.6L450.6 187.7L450.6 186.8L450.6 186L450.6 185.4L450.6 184.9L450.7 185.7L450.7 186.3L450.7 187.1L450.7 188L450.7 188.8L450.8 189.6L450.8 190.4L450.8 189.3L450.8 188.4L450.8 187.5L450.9 186.6L450.9 185.8L450.9 185.1L450.9 184.3L450.9 184.3L451 185.4L451 186.2L451 187L451 187.9L451 188.7L451 189.3L451.1 189.8L451.1 189L451.1 188.3L451.1 187.4L451.1 186.5L451.1 185.6L451.2 184.8L451.2 183.9L451.2 183.7L451.2 184.5L451.2 185.2L451.3 186L451.3 186.8L451.3 187.7L451.3 188.4L451.3 189.2L451.4 188L451.4 187.2L451.4 186.3L451.4 185.4L451.4 184.6L451.4 183.9L451.5 183.1L451.5 183.1L451.5 184.2L451.5 185L451.5 185.8L451.6 186.7L451.6 187.5L451.6 188.1L451.6 188.6L451.6 187.8L451.6 187L451.7 186.1L451.7 185.2L451.7 184.3L451.7 183.6L451.7 182.6L451.7 182.4L451.8 183.3L451.8 184L451.8 184.8L451.8 185.6L451.8 186.5L451.8 187.2L451.9 187.9L451.9 186.7L451.9 185.9L451.9 185L451.9 184.1L452 183.3L452 182.6L452 181.8L452 181.8L452 182.4L452.1 183L452.1 183.7L452.1 184.6L452.1 185.4L452.1 186.2L452.1 186.8L452.1 187.2L452.2 186.4L452.2 185.6L452.2 184.8L452.2 183.8L452.2 183L452.2 182.2L452.3 181.3L452.3 181.1L452.3 182L452.3 182.7L452.3 183.5L452.4 184.3L452.4 185.2L452.4 185.9L452.4 186.6L452.4 185.4L452.5 184.5L452.5 183.6L452.5 182.7L452.5 181.9L452.5 181.2L452.5 180.5L452.5 180.4L452.6 181L452.6 181.6L452.6 182.4L452.6 183.2L452.6 184.1L452.6 184.8L452.6 185.4L452.7 185.8L452.7 185L452.7 184.2L452.7 183.3L452.7 182.4L452.8 181.5L452.8 180.8L452.8 179.8L452.8 179.7L452.8 180.6L452.9 181.3L452.9 182.1L452.9 182.9L452.9 183.7L452.9 184.5L452.9 185.1L453 183.9L453 183L453 182.1L453 181.2L453 180.4L453 179.7L453.1 179L453.1 179L453.1 179.6L453.1 180.2L453.1 180.9L453.1 181.8L453.1 182.6L453.2 183.4L453.2 184L453.2 184.3L453.2 183.5L453.2 182.7L453.3 181.8L453.3 180.8L453.3 180L453.3 179.2L453.3 178.3L453.3 178.2L453.4 179.1L453.4 179.8L453.4 180.6L453.4 181.4L453.4 182.2L453.4 182.9L453.5 183.6L453.5 183L453.5 182.3L453.5 181.4L453.5 180.5L453.5 179.6L453.5 178.8L453.6 178.1L453.6 177.4L453.6 177.4L453.6 178L453.6 178.6L453.6 179.4L453.7 180.2L453.7 181.1L453.7 181.8L453.7 182.4L453.7 182.7L453.7 181.8L453.8 181L453.8 180.1L453.8 179.2L453.8 178.3L453.8 177.6L453.8 176.7L453.8 176.5L453.9 177.5L453.9 178.2L453.9 179L453.9 179.8L453.9 180.6L453.9 181.3L454 181.9L454 181.3L454 180.6L454 179.7L454 178.8L454 177.9L454.1 177.1L454.1 176.4L454.1 175.7L454.1 175.7L454.1 176.3L454.1 176.9L454.2 177.7L454.2 178.5L454.2 179.4L454.2 180.1L454.2 181L454.3 180.1L454.3 179.3L454.3 178.3L454.3 177.4L454.3 176.5L454.3 175.8L454.3 174.9L454.4 174.8L454.4 175.7L454.4 176.4L454.4 177.2L454.4 178.1L454.4 178.9L454.5 179.6L454.5 180.1L454.5 179.5L454.5 178.8L454.5 177.9L454.5 176.9L454.6 176L454.6 175.2L454.6 174.6L454.6 173.9L454.6 173.9L454.6 174.5L454.7 175.1L454.7 175.9L454.7 176.7L454.7 177.6L454.7 178.3L454.7 179.2L454.8 178.2L454.8 177.4L454.8 176.4L454.8 175.5L454.8 174.6L454.8 173.9L454.8 173L454.9 172.9L454.9 173.9L454.9 174.6L454.9 175.4L454.9 176.2L454.9 177L455 177.7L455 178.2L455 177.5L455 176.8L455 175.9L455 175L455.1 174L455.1 173.2L455.1 172.6L455.1 171.9L455.1 171.9L455.1 172.6L455.2 173.2L455.2 174L455.2 174.8L455.2 175.6L455.2 176.4L455.2 177.2L455.3 176.1L455.3 175.3L455.3 174.4L455.3 173.4L455.3 172.6L455.3 171.9L455.3 171L455.4 170.9L455.4 171.8L455.4 172.5L455.4 173.3L455.4 174.2L455.4 175L455.5 175.6L455.5 176.1L455.5 175.4L455.5 174.6L455.5 173.8L455.5 172.8L455.6 171.9L455.6 171.1L455.6 170.5L455.6 169.8L455.6 170.5L455.6 171.1L455.7 171.8L455.7 172.7L455.7 173.5L455.7 174.2L455.7 175L455.8 173.9L455.8 173.1L455.8 172.1L455.8 171.2L455.8 170.3L455.8 169.6L455.8 168.7L455.9 168.6L455.9 169.6L455.9 170.3L455.9 171.1L455.9 172L455.9 172.7L455.9 173.4L456 173.9L456 173.1L456 172.3L456 171.4L456 170.5L456 169.6L456.1 168.8L456.1 168.1L456.1 167.5L456.1 168.2L456.1 168.8L456.2 169.5L456.2 170.4L456.2 171.2L456.2 171.9L456.2 172.7L456.2 171.5L456.3 170.6L456.3 169.7L456.3 168.8L456.3 167.9L456.3 167.2L456.3 166.3L456.3 166.2L456.4 167.2L456.4 167.9L456.4 168.7L456.4 169.5L456.4 170.3L456.4 170.9L456.5 171.4L456.5 170.6L456.5 169.8L456.5 168.9L456.5 167.9L456.5 167L456.5 166.2L456.6 165.6L456.6 164.9L456.6 165.6L456.6 166.3L456.6 167L456.6 167.8L456.7 168.6L456.7 169.3L456.7 170.1L456.7 168.9L456.7 168L456.8 167L456.8 166.1L456.8 165.2L456.8 164.5L456.8 163.7L456.8 163.6L456.9 164.6L456.9 165.3L456.9 166.1L456.9 166.9L456.9 167.6L456.9 168.2L456.9 168.7L457 167.8L457 167L457 166.1L457 165.1L457 164.2L457 163.4L457 162.8L457.1 162.1L457.1 162.8L457.1 163.5L457.1 164.2L457.1 165L457.1 165.8L457.1 166.5L457.2 167.2L457.2 165.9L457.2 165.1L457.2 164.1L457.2 163.1L457.3 162.3L457.3 161.6L457.3 160.7L457.3 160.6L457.3 161.6L457.3 162.3L457.4 163.1L457.4 163.9L457.4 164.7L457.4 165.3L457.4 165.6L457.4 164.7L457.4 163.9L457.5 163L457.5 162L457.5 161.1L457.5 160.3L457.5 159.7L457.5 159L457.6 159.7L457.6 160.4L457.6 161.1L457.6 161.9L457.6 162.7L457.6 163.4L457.6 164L457.7 163.4L457.7 162.7L457.7 161.8L457.7 160.8L457.7 159.9L457.7 159L457.7 158.3L457.8 157.4L457.8 157.3L457.8 158.3L457.8 159L457.8 159.8L457.8 160.6L457.9 161.3L457.9 162.2L457.9 162.2L457.9 161.3L457.9 160.5L457.9 159.5L457.9 158.5L458 157.6L458 156.8L458 156.2L458 155.6L458 156.3L458 156.9L458.1 157.6L458.1 158.4L458.1 159.2L458.1 159.8L458.1 160.4L458.1 159.8L458.1 159L458.2 158.1L458.2 157.1L458.2 156.2L458.2 155.3L458.2 154.6L458.2 153.7L458.2 153.6L458.3 154.6L458.3 155.3L458.3 156.1L458.3 156.9L458.3 157.6L458.3 158.4L458.4 157.4L458.4 156.6L458.4 155.6L458.4 154.6L458.4 153.7L458.4 152.9L458.4 152.2L458.5 151.6L458.5 152.3L458.5 152.9L458.5 153.6L458.5 154.4L458.5 155.2L458.6 155.8L458.6 156.3L458.6 155.6L458.6 154.9L458.6 153.9L458.6 152.9L458.6 152L458.7 151.1L458.7 150.3L458.7 149.5L458.7 149.4L458.7 150.4L458.7 151L458.8 151.8L458.8 152.6L458.8 153.3L458.8 154.1L458.8 153L458.8 152.1L458.9 151.1L458.9 150.1L458.9 149.1L458.9 148.3L458.9 147.7L458.9 147L459 147.7L459 148.3L459 149L459 149.8L459 150.5L459 151.1L459 151.6L459.1 150.8L459.1 150L459.1 149.1L459.1 148L459.1 147.1L459.1 146.2L459.1 145.4L459.1 144.5L459.2 144.4L459.2 145.4L459.2 146.1L459.2 146.8L459.2 147.5L459.2 148.2L459.3 148.9L459.3 147.7L459.3 146.8L459.3 145.8L459.3 144.8L459.3 143.8L459.3 143L459.4 142.3L459.4 141.6L459.4 142.3L459.4 143.6L459.4 144.3L459.5 145L459.5 145.9L459.5 146L459.5 145.1L459.5 144.3L459.5 143.3L459.5 142.2L459.6 141.2L459.6 140.3L459.6 139.5L459.6 138.6L459.6 138.5L459.6 139.4L459.7 140.1L459.7 140.8L459.7 141.5L459.7 142.1L459.7 142.7L459.7 142.1L459.7 141.4L459.7 140.4L459.8 139.4L459.8 138.3L459.8 137.3L459.8 136.5L459.8 135.8L459.8 135.1L459.8 135.1L459.9 135.7L459.9 136.9L459.9 137.6L459.9 138.3L459.9 139.1L460 138.1L460 137.2L460 136.1L460 135.1L460 134L460 133.1L460 132.3L460 131.7L460.1 131.2L460.1 132L460.1 132.6L460.1 133.3L460.1 133.9L460.1 134.9L460.2 135L460.2 134.2L460.2 133.4L460.2 132.4L460.2 131.3L460.2 130.2L460.2 129.2L460.2 128.3L460.2 127.5L460.3 126.8L460.3 126.7L460.3 127.7L460.3 128.3L460.3 129L460.3 129.6L460.4 130.2L460.4 129L460.4 128L460.4 126.9L460.4 125.7L460.4 124.6L460.5 123.6L460.5 122.8L460.5 122.1L460.5 121.5L460.5 122.1L460.5 123.3L460.6 124.3L460.6 124.6L460.6 123.6L460.6 122.7L460.6 121.5L460.6 120.3L460.7 119.1L460.7 118L460.7 117L460.7 116.2L460.7 115.3L460.7 115.2L460.8 115.9L460.8 117L460.8 117.7L460.8 117.8L460.8 116.9L460.8 116L460.8 114.9L460.9 113.6L460.9 112.3L460.9 111.1L460.9 109.9L460.9 109L460.9 108.2L460.9 107.3L460.9 107.2L461 108L461 108.8L461 109.1L461 108.2L461 107.3L461.1 106.1L461.1 104.8L461.1 103.3L461.1 101.9L461.1 100.6L461.1 99.4L461.1 98.4L461.1 97.6L461.2 96.7L461.2 96.5L461.2 97.1L461.2 97.2L461.3 96L461.3 94.9L461.3 93.6L461.3 92L461.3 90.2L461.3 88.5L461.3 86.8L461.3 85.2L461.3 83.8L461.3 82.6L461.4 81.6L461.4 80.9L461.4 80.3L461.4 79.5L461.4 78.7L461.4 78.1L461.5 77.1L461.5 75.7L461.5 74L461.5 71.8L461.5 69.3L461.5 66.7L461.5 64L461.5 61.3L461.5 58.6L461.5 56.1L461.6 53.7L461.6 51.5L461.6 49.5L461.6 47.7L461.6 46.1L461.6 44.7L461.6 43.4L461.6 42.4L461.6 41.6L461.6 40.9L461.7 40.2" fill="none" stroke="#000" stroke-width="1.6" stroke-linejoin="round"/>
<path d="M106 40.2L119.3 40.3M123.6 40.3L135.7 40.4L136.9 40.5M141.2 40.6L153 40.9L154.5 41M158.8 41.2L165.3 41.6L172.1 42.2M176.4 42.6L182.7 43.4L189.2 44.7L189.7 44.8M194 45.9L195 46.1L200 47.7L204.5 49.5L207.3 50.9M211.6 53.3L212.3 53.7L215.7 56.1L218.9 58.6L221.8 61.3L224.6 64L224.9 64.3M229 68.6L229.6 69.3L231.9 71.8L234.1 74L236.2 75.7L238.2 77.1L240.1 78.1L241.9 78.7L242.1 78.7M246.4 79.5L247 79.5L248.5 79.8L250 80.3L251.5 80.9L252.9 81.6L254.2 82.6L255.5 83.8L256.8 85.2L258.1 86.8L258.9 88M261.8 92.3L262.7 93.6L263.8 94.9L264.8 96L265.9 96.8L266.9 97.1L267.8 97.2L268.8 97.1L269.7 96.9L270.7 96.7L271.6 96.5L272.4 96.5L273.3 96.7L274.2 97L274.4 97.2M277.8 101.2L278.2 101.9L278.9 103.3L279.7 104.8L280.4 106.1L281.1 107.3L281.8 108.2L282.5 108.8L283.2 109.1L283.9 109.1L284.5 108.8L285.2 108.4L285.8 108L286.5 107.6L287.1 107.3L287.7 107.2L288.1 107.3M291.2 111.1L291.8 112.3L292.3 113.6L292.9 114.9L293.4 116L293.9 116.9L294.5 117.5L295 117.8L296 117.4L296.5 117L297 116.4L297.5 115.9L298 115.5L298.4 115.2L298.9 115.2L299.4 115.3L299.8 115.7L300.3 116.2L300.8 117L300.8 117.1M302.5 121.4L302.5 121.5L302.9 122.7L303.4 123.6L303.8 124.2L304.2 124.6L304.6 124.6L305 124.3L305.4 123.8L305.8 123.3L306.2 122.7L306.6 122.1L307 121.7L307.4 121.5L307.8 121.5L308.5 122.1L308.9 122.8L309.3 123.6L309.7 124.6L310 125.7L310.4 126.9L310.5 127.2M313 129.2L313.2 129L313.5 128.3L313.8 127.7L314.2 127.2L314.5 126.9L314.8 126.7L315.5 127L315.8 127.5L316.1 128.3L316.4 129.2L316.7 130.2L317 131.3L317.3 132.4L317.6 133.4L317.9 134.2L318.2 134.8L318.5 135L319.1 134.5L319.4 133.9L319.7 133.3L319.8 133.1M322.3 133.2L322.5 134L322.8 135.1L323 136.1L323.3 137.2L323.6 138.1L323.8 138.7L324.1 139.1L324.4 139.1L324.9 138.3L325.1 137.6L325.4 136.9L325.6 136.2L325.9 135.7L326.1 135.3L326.4 135.1L326.9 135.3L327.1 135.8L327.4 136.5L327.6 137.3L327.8 138M328.9 142.3L329 142.6L329.2 142.7L329.7 142.1L329.9 141.5L330.2 140.8L330.4 140.1L330.6 139.4L330.8 138.9L331.3 138.5L331.7 139L331.9 139.5L332.2 140.3L332.4 141.2L332.6 142.2L332.8 143.3L333 144.3L333.2 145.1L333.4 145.7L333.6 146L334.1 145.6L334.3 145L334.3 144.9M336.1 142.5L336.3 143L336.5 143.8L336.7 144.8L336.8 145.8L337 146.8L337.2 147.7L337.4 148.4L337.6 148.8L337.8 148.9L338.2 148.2L338.4 147.5L338.6 146.8L338.7 146.1L338.9 145.4L339.1 144.9L339.5 144.4L339.8 144.9L340 145.4L340.2 146.2L340.3 146.7M341.1 151L341.3 151.4L341.4 151.6L341.8 151.1L341.9 150.5L342.1 149.8L342.3 149L342.5 148.3L342.6 147.7L342.8 147.3L343.1 147L343.5 147.7L343.6 148.3L343.8 149.1L344 150.1L344.1 151.1L344.3 152.1L344.5 153L344.6 153.6L344.9 154.1L345.3 153.3L345.3 153.1M346.7 150L346.8 150.3L347 151.1L347.1 152L347.3 152.9L347.4 153.9L347.6 154.9L347.7 155.6L347.9 156.1L348 156.3L348.3 155.8L348.5 155.2L348.6 154.4L348.8 153.6L348.9 152.9L349.1 152.3L349.3 151.6L349.5 151.6L349.8 152.2L349.9 152.9L350.1 153.6M350.7 157.9L350.8 158.1L351 158.4L351.3 157.6L351.5 156.9L351.6 156.1L351.7 155.3L351.9 154.6L352 154.1L352.3 153.6L352.5 154L352.7 154.6L352.8 155.3L352.9 156.2L353.1 157.1L353.2 158.1L353.3 159L353.5 159.8L353.6 160.3L353.7 160.4L354 159.8L354.1 159.2M355.2 156.1L355.3 156.2L355.4 156.8L355.5 157.6L355.6 158.5L355.8 159.5L355.9 160.5L356 161.3L356.1 161.9L356.3 162.2L356.6 161.3L356.8 160.6L356.9 159.8L357 159L357.1 158.3L357.2 157.8L357.5 157.3L357.7 157.7L357.8 158.3L357.9 159L358 159.5M358.7 163.8L358.8 164L359 163.4L359.1 162.7L359.2 161.9L359.3 161.1L359.5 160.4L359.6 159.7L359.8 159.1L359.9 159L360.1 159.7L360.2 160.3L360.4 161.1L360.5 162L360.6 163L360.7 163.9L360.8 164.7L360.9 165.3L361 165.6L361.4 164.7L361.4 164.2M362.4 161.3L362.4 161.6L362.5 162.3L362.6 163.1L362.7 164.1L362.9 165.1L363 165.9L363.1 166.6L363.3 167.2L363.5 166.5L363.6 165.8L363.7 165L363.8 164.2L363.9 163.5L364 162.8L364.2 162.2L364.3 162.1L364.5 162.8L364.6 163.4L364.7 164.2L364.7 164.4M365.3 168.6L365.5 168.2L365.6 167.6L365.7 166.9L365.8 166.1L365.9 165.3L366 164.6L366.1 164L366.3 163.6L366.5 164L366.6 164.5L366.7 165.2L366.8 166.1L366.9 167L367 168L367.1 168.9L367.2 169.5L367.3 170.1L367.5 169.3L367.6 168.6L367.7 168.3M368.5 165.8L368.6 166.2L368.7 167L368.7 167.9L368.8 168.9L368.9 169.8L369 170.6L369.1 171.1L369.2 171.4L369.4 170.9L369.5 170.3L369.6 169.5L369.7 168.7L369.7 167.9L369.8 167.2L369.9 166.7L370.1 166.2L370.3 166.6L370.4 167.2L370.5 167.9L370.5 168.8M371.2 172.2L371.2 171.9L371.3 171.2L371.4 170.4L371.5 169.5L371.6 168.8L371.7 168.2L371.8 167.5L371.9 167.5L372.1 168.1L372.2 168.8L372.3 169.6L372.4 170.5L372.4 171.4L372.5 172.3L372.6 173.1L372.7 173.6L372.8 173.9L372.9 173.4L373 172.7L373.1 172L373.1 171.8M373.9 169.8L373.9 170.3L374 171.2L374.1 172.1L374.2 173.1L374.2 173.9L374.3 174.6L374.5 175L374.7 174.2L374.7 173.5L374.8 172.7L374.9 171.8L375 171.1L375 170.5L375.2 169.8L375.3 169.8L375.4 170.5L375.5 171.1L375.6 171.9L375.7 172.6M376.2 175.4L376.3 175L376.4 174.2L376.5 173.3L376.5 172.5L376.6 171.8L376.7 171.3L376.8 170.9L377.1 171.9L377.1 172.6L377.2 173.4L377.3 174.4L377.4 175.3L377.4 176.1L377.5 176.8L377.7 177.2L377.8 176.4L377.9 175.6L378 174.8L378 174.7M378.6 173.4L378.7 174L378.8 175L378.8 175.9L378.9 176.8L379 177.5L379.1 178.2L379.3 177.7L379.3 177L379.4 176.2L379.5 175.4L379.6 174.6L379.6 173.9L379.8 173L379.8 172.9L380 173.4L380 173.9L380.1 174.6L380.2 175.5L380.2 176.1M380.8 178L380.8 177.6L380.9 176.7L381 175.9L381 175.1L381.1 174.5L381.2 173.9L381.4 174.6L381.5 175.2L381.6 176L381.6 176.9L381.7 177.9L381.8 178.8L381.8 179.5L382 180.1L382.1 179.6L382.2 178.9L382.2 178.1L382.3 177.2L382.3 177.2M382.9 176.7L383 177.4L383 178.3L383.1 179.3L383.2 180.1L383.2 180.7L383.4 181L383.5 180.1L383.6 179.4L383.6 178.5L383.7 177.7L383.8 176.9L383.8 176.3L384 175.7L384.1 176.4L384.2 177.1L384.3 177.9L384.3 178.8L384.4 179.4M384.9 180.2L384.9 179.8L385 179L385 178.2L385.1 177.5L385.2 176.6L385.3 176.5L385.4 177L385.5 177.6L385.5 178.3L385.6 179.2L385.7 180.1L385.7 181L385.8 181.8L385.8 182.4L385.9 182.7L386.1 181.8L386.1 181.1L386.2 180.2L386.3 179.4L386.3 179.3M386.8 179.8L386.9 180.5L386.9 181.4L387 182.3L387.1 183L387.2 183.6L387.3 182.9L387.3 182.2L387.4 181.4L387.5 180.6L387.5 179.8L387.6 179.1L387.7 178.3L387.8 178.2L387.9 178.7L387.9 179.2L388 180L388.1 180.8L388.1 181.8L388.1 182.3M388.6 182.1L388.6 181.8L388.7 180.9L388.8 180.2L388.8 179.6L388.9 179L389.1 179.7L389.2 180.4L389.2 181.2L389.3 182.1L389.3 183L389.4 183.9L389.4 184.6L389.5 185.1L389.7 184.5L389.7 183.7L389.8 182.9L389.8 182.1L389.9 181.3L389.9 181.2M390.4 182.5L390.4 183.3L390.5 184.2L390.6 185L390.6 185.6L390.7 185.8L390.8 184.8L390.9 184.1L390.9 183.2L391 182.4L391 181.6L391.1 181L391.2 180.4L391.4 181.2L391.4 181.9L391.5 182.7L391.5 183.6L391.6 184.5L391.6 185M392 183.9L392.1 183.5L392.1 182.7L392.2 182L392.3 181.2L392.3 181.1L392.4 181.6L392.5 182.2L392.5 183L392.6 183.8L392.6 184.8L392.7 185.6L392.8 186.4L392.8 187L392.9 187.2L393 186.2L393.1 185.4L393.1 184.6L393.2 183.7L393.2 183L393.2 182.8M393.7 185L393.7 185.9L393.8 186.7L393.8 187.4L393.9 187.9L394 187.2L394.1 186.5L394.1 185.6L394.2 184.8L394.2 184L394.3 183.3L394.4 182.5L394.4 182.4L394.5 183L394.6 183.6L394.6 184.3L394.7 185.2L394.7 186.1L394.8 187L394.8 187.4M395.2 185.4L395.2 185L395.3 184.2L395.3 183.7L395.4 183.1L395.6 183.9L395.6 184.6L395.7 185.4L395.7 186.3L395.8 187.2L395.8 188L395.9 188.7L396 189.2L396.1 188.4L396.1 187.7L396.2 186.8L396.2 186L396.3 185.2L396.3 184.5L396.3 184.3M396.7 187.4L396.7 187.4L396.8 188.3L396.8 189L396.9 189.8L397.1 188.7L397.1 187.9L397.2 187L397.2 186.2L397.3 185.4L397.3 184.8L397.4 184.3L397.5 185.1L397.6 185.8L397.6 186.6L397.7 187.5L397.7 188.4L397.8 189.3L397.8 189.7M398.2 186.8L398.2 186.3L398.2 185.7L398.3 184.9L398.4 184.9L398.5 185.4L398.5 186L398.6 186.8L398.6 187.7L398.7 188.6L398.7 189.5L398.7 190.2L398.8 190.9L398.9 190.4L399 189.8L399 189L399.1 188.1L399.1 187.3L399.2 186.5L399.2 186L399.3 185.6M399.6 189.5L399.6 189.6L399.6 190.4L399.7 191.1L399.8 191.5L399.9 190.7L399.9 189.9L400 189.1L400 188.2L400 187.4L400.1 186.8L400.2 186L400.2 186L400.3 186.5L400.4 187.1L400.4 187.9L400.4 188.8L400.5 189.7L400.5 190.6L400.6 191.3L400.6 191.8M400.9 188L401 187.6L401 187L401.1 186.5L401.2 187.3L401.3 188L401.3 188.9L401.4 189.8L401.4 190.7L401.4 191.5L401.5 192.1L401.6 192.5L401.6 191.7L401.7 190.9L401.7 190.1L401.8 189.2L401.8 188.4L401.9 187.8L401.9 187L402 187L402 187.2M402.3 191.5L402.3 191.6L402.3 192.3L402.4 193L402.5 192.5L402.5 191.8L402.6 191L402.6 190.1L402.7 189.3L402.7 188.5L402.7 188L402.8 187.5L402.9 188.4L403 189.1L403 189.9L403.1 190.8L403.1 191.7L403.2 192.5L403.2 193.1L403.3 193.5L403.3 193.3M403.5 189L403.6 188.7L403.6 188L403.7 188L403.8 188.6L403.8 189.2L403.8 189.9L403.9 190.8L403.9 191.7L404 192.6L404 193.3L404.1 194L404.2 193.4L404.2 192.7L404.2 191.9L404.3 191L404.3 190.2L404.4 189.5L404.4 188.5L404.5 188.4L404.6 189.1M404.8 193.4L404.8 193.5L404.8 194.1L404.9 194.4L405 193.5L405 192.7L405.1 191.9L405.1 191L405.2 190.2L405.2 189.6L405.3 188.9L405.3 188.9L405.4 189.5L405.4 190.1L405.5 190.9L405.5 191.8L405.5 192.7L405.6 193.5L405.6 194.2L405.7 194.9L405.8 194.3L405.8 194.2M406 189.9L406 189.4L406.1 189.3L406.2 190.2L406.2 190.9L406.3 191.8L406.3 192.7L406.4 193.6L406.4 194.4L406.4 195L406.5 195.3L406.6 194.3L406.6 193.6L406.7 192.7L406.7 191.8L406.7 191.1L406.8 190.4L406.8 189.7L406.9 189.7L407 190.4L407 190.9M407.2 195.2L407.3 195.7L407.3 195.1L407.4 194.4L407.4 193.5L407.4 192.7L407.5 191.8L407.5 191.1L407.6 190.2L407.6 190.1L407.7 191.1L407.8 191.8L407.8 192.6L407.9 193.5L407.9 194.4L407.9 195.2L408 195.8L408 196.1L408.1 195.1L408.1 194.9M408.4 190.6L408.4 190.5L408.4 190.5L408.5 191.2L408.5 191.8L408.5 192.6L408.6 193.5L408.6 194.4L408.7 195.2L408.7 195.9L408.8 196.5L408.8 195.8L408.9 195.1L408.9 194.3L408.9 193.4L409 192.6L409 191.9L409.1 191L409.1 190.9L409.2 191.9L409.3 192.5M409.5 196.8L409.5 196.9L409.6 195.8L409.6 195.1L409.7 194.2L409.7 193.3L409.7 192.6L409.8 191.9L409.8 191.3L409.9 191.9L410 192.6L410 193.4L410 194.3L410.1 195.2L410.1 196L410.1 196.7L410.2 197.2L410.3 196.5L410.3 195.8L410.3 195.5M410.6 192L410.7 192.6L410.7 193.3L410.7 194.2L410.8 195.1L410.8 196L410.8 196.7L410.9 197.6L411 196.5L411 195.7L411.1 194.9L411.1 194L411.1 193.2L411.2 192.6L411.2 192L411.3 192.7L411.4 193.3L411.4 194.1M411.7 197.5L411.7 197.2L411.7 196.5L411.7 195.6L411.8 194.7L411.8 193.9L411.8 193.2L411.9 192.4L411.9 192.3L412 193.3L412.1 194L412.1 194.9L412.1 195.8L412.2 196.7L412.2 197.4L412.3 198.2L412.4 197.2L412.4 196.4L412.4 196.1M412.7 193.5L412.7 194L412.8 194.8L412.8 195.7L412.8 196.6L412.9 197.4L412.9 198.1L413 198.6L413 197.8L413.1 197.1L413.1 196.2L413.1 195.3L413.2 194.5L413.2 193.8L413.3 193L413.3 192.9L413.4 194L413.4 194.7L413.5 195.5M413.7 197.9L413.7 197.7L413.7 196.9L413.8 196.1L413.8 195.2L413.8 194.5L413.9 193.8L413.9 193.2L414 194L414.1 194.6L414.1 195.4L414.1 196.3L414.2 197.2L414.2 198L414.2 198.7L414.3 199.2L414.4 198.4L414.4 197.6L414.4 196.8L414.4 196.5M414.7 194.8L414.7 195.3L414.8 196.2L414.8 197.1L414.8 197.9L414.9 198.7L414.9 199.4L415 198.3L415 197.5L415.1 196.6L415.1 195.8L415.1 195L415.2 194.4L415.2 193.8L415.3 194.6L415.4 195.2L415.4 196L415.4 196.8M415.7 198.3L415.7 198.2L415.7 197.3L415.7 196.4L415.7 195.6L415.8 194.9L415.8 194.1L415.9 194.1L416 195.2L416 195.9L416 196.7L416.1 197.7L416.1 198.5L416.1 199.3L416.2 200L416.3 198.8L416.3 198L416.3 197.1L416.3 196.9M416.6 196.1L416.6 196.6L416.7 197.5L416.7 198.4L416.7 199.2L416.7 199.8L416.8 200.2L416.9 199.4L416.9 198.6L416.9 197.8L417 196.9L417 196.1L417 195.4L417.1 194.6L417.1 194.6L417.2 195.7L417.2 196.4L417.3 197.3L417.3 198.1M417.5 198.6L417.5 198.4L417.5 197.6L417.6 196.7L417.6 196L417.6 195.4L417.7 194.8L417.8 195.6L417.8 196.3L417.8 197.1L417.9 198L417.9 198.9L417.9 199.7L418 200.3L418 200.7L418.1 199.9L418.1 199.1L418.1 198.2L418.2 197.3L418.2 197.1M418.4 197.3L418.4 197.8L418.5 198.7L418.5 199.6L418.5 200.3L418.6 201L418.6 200.4L418.7 199.7L418.7 198.9L418.7 198L418.8 197.1L418.8 196.4L418.8 195.8L418.9 195.3L419 196.1L419 196.8L419 197.6L419 198.5L419.1 199.2M419.3 198.8L419.3 198.6L419.3 197.7L419.4 197L419.4 196.3L419.4 195.5L419.5 195.5L419.5 196L419.5 196.6L419.6 197.4L419.6 198.3L419.6 199.2L419.7 200L419.7 200.7L419.7 201.4L419.8 200.8L419.8 200.1L419.9 199.3L419.9 198.4L419.9 197.5L419.9 197.3M420.2 198.4L420.2 198.9L420.2 199.8L420.2 200.6L420.3 201.2L420.3 201.5L420.4 200.6L420.4 199.9L420.4 199L420.5 198.1L420.5 197.3L420.5 196.7L420.6 195.9L420.6 195.9L420.7 196.5L420.7 197.1L420.7 197.8L420.7 198.7L420.8 199.6L420.8 200.3M421 198.9L421 198.7L421 197.9L421.1 197.1L421.1 196.2L421.1 196.1L421.2 196.9L421.2 197.6L421.3 198.4L421.3 199.3L421.3 200.2L421.4 201L421.4 201.6L421.4 201.9L421.5 201L421.5 200.2L421.5 199.3L421.6 198.4L421.6 197.7L421.6 197.3M421.8 199.5L421.9 200L421.9 200.8L421.9 201.5L422 202.1L422 201.5L422 200.8L422.1 199.9L422.1 199L422.1 198.2L422.2 197.5L422.2 196.5L422.2 196.4L422.3 197.3L422.3 198L422.4 198.8L422.4 199.7L422.4 200.6L422.4 201.3M422.6 198.9L422.6 198.7L422.7 198L422.7 197.3L422.8 196.6L422.8 196.6L422.8 197.2L422.9 197.8L422.9 198.6L422.9 199.4L422.9 200.3L423 201.2L423 201.9L423 202.4L423.1 201.8L423.1 201L423.1 200.2L423.2 199.3L423.2 198.5L423.2 197.8L423.2 197.3M423.5 200.4L423.5 200.9L423.5 201.7L423.6 202.6L423.6 201.6L423.7 200.8L423.7 199.9L423.7 199L423.7 198.2L423.8 197.6L423.8 196.9L423.8 196.9L423.9 197.5L423.9 198.1L423.9 198.9L424 199.8L424 200.7L424 201.5L424 202.2L424 202.3M424.2 198.9L424.2 198.7L424.3 198L424.3 197.1L424.3 197L424.4 197.9L424.4 198.6L424.5 199.5L424.5 200.4L424.5 201.2L424.5 202L424.6 202.8L424.7 201.8L424.7 201L424.7 200.1L424.7 199.2L424.8 198.5L424.8 197.8L424.8 197.3M425 201.3L425 201.8L425.1 202.5L425.1 203L425.1 202.2L425.2 201.5L425.2 200.7L425.2 199.8L425.2 198.9L425.3 198.2L425.3 197.3L425.3 197.2L425.4 198.2L425.4 198.9L425.5 199.7L425.5 200.6L425.5 201.5L425.5 202.3L425.6 203.1L425.6 203.1M425.8 198.8L425.8 198.7L425.8 198L425.8 197.4L425.9 197.4L425.9 198L425.9 198.7L426 199.4L426 200.3L426 201.2L426 202L426 202.7L426.1 203.2L426.1 202.4L426.2 201.7L426.2 200.8L426.2 199.9L426.2 199.1L426.3 198.4L426.3 197.5L426.3 197.4L426.4 197.8M426.5 202.1L426.5 202.5L426.6 203.3L426.6 202.2L426.7 201.4L426.7 200.5L426.7 199.6L426.7 198.8L426.8 198.2L426.8 197.6L426.9 198.2L426.9 198.9L426.9 199.7L427 200.5L427 201.4L427 202.3L427 202.9L427.1 203.4L427.1 202.8M427.2 198.5L427.3 197.7L427.3 197.6L427.4 198.6L427.4 199.4L427.4 200.2L427.4 201.1L427.5 202L427.5 202.7L427.5 203.5L427.6 202.3L427.6 201.5L427.7 200.6L427.7 199.7L427.7 199L427.7 198.4L427.8 197.7L427.8 198.4L427.8 198.5M428 202.8L428 203.1L428 203.5L428.1 202.7L428.1 202L428.1 201.1L428.1 200.2L428.2 199.4L428.2 198.7L428.2 197.9L428.2 197.8L428.3 198.8L428.3 199.5L428.4 200.4L428.4 201.3L428.4 202.1L428.4 202.9L428.5 203.6L428.5 202.6M428.7 198.3L428.7 197.8L428.8 198.6L428.8 199.2L428.8 200L428.8 200.9L428.9 201.8L428.9 202.6L428.9 203.2L428.9 203.6L429 202.8L429 202.1L429 201.2L429.1 200.3L429.1 199.5L429.1 198.8L429.2 198L429.2 197.9L429.2 199L429.2 199.2M429.4 203.5L429.4 203.7L429.5 202.5L429.5 201.7L429.5 200.8L429.5 199.9L429.6 199.1L429.6 198.5L429.6 197.9L429.7 198.7L429.7 199.4L429.7 200.2L429.8 201L429.8 201.9L429.8 202.7L429.8 203.3L429.9 203.7L429.9 202.9L429.9 202.2M430.1 198L430.1 199.1L430.2 199.8L430.2 200.6L430.2 201.5L430.2 202.4L430.3 203.1L430.3 203.8L430.3 203.2L430.4 202.5L430.4 201.7L430.4 200.8L430.4 199.9L430.4 199.2L430.5 198.6L430.5 198L430.6 198.8L430.6 199.5L430.6 199.7M430.8 203.5L430.8 202.9L430.8 202.1L430.8 201.3L430.9 200.4L430.9 199.6L430.9 198.9L430.9 198.1L431 198L431 199.1L431.1 199.9L431.1 200.7L431.1 201.6L431.1 202.5L431.1 203.2L431.2 203.8L431.2 203.2L431.2 202.5L431.3 201.9M431.4 198.5L431.5 198.9L431.5 199.5L431.5 200.3L431.5 201.2L431.5 202.1L431.6 202.9L431.6 203.5L431.6 203.8L431.7 202.9L431.7 202.1L431.7 201.2L431.7 200.4L431.8 199.6L431.8 198.9L431.8 198.1L431.8 198.1L431.9 199.2L431.9 199.9L431.9 200.3" fill="none" stroke="#000" stroke-width="2.4" stroke-linejoin="round"/>
<path d="M432.1 218.2L432.1 216L432.1 213.2L432.1 210.1L432.1 207.3L432.2 204.9L432.2 203L432.2 201.6L432.2 200.7L432.3 200.3L432.3 201.1L432.3 202.3L432.3 203.9L432.4 206.1L432.4 208.7L432.4 211.7L432.4 214.7L432.4 217.3L432.5 218.8L432.5 217.2L432.5 214.6L432.5 211.6L432.6 208.6L432.6 206L432.6 203.9L432.6 202.2L432.6 201L432.7 200.4L432.7 200.3L432.7 201.6L432.7 203.1L432.8 205L432.8 207.4L432.8 210.2L432.8 213.3L432.9 216.1L432.9 218.3L432.9 219L432.9 218.1L432.9 215.9L433 213L433 210L433 207.2L433 204.8L433 202.9L433.1 201.5L433.1 200.6L433.1 200.3L433.1 201.1L433.2 202.3L433.2 204L433.2 206.2L433.2 208.8L433.2 211.8L433.3 214.8L433.3 217.4L433.3 218.8L433.3 217.1L433.4 214.4L433.4 211.4L433.4 208.5L433.4 205.9L433.4 203.7L433.5 202.1L433.5 201L433.5 200.4L433.5 200.3L433.6 201.6L433.6 203.1L433.6 205L433.6 207.5L433.6 210.3L433.7 213.3L433.7 216.2L433.7 218.3L433.7 219L433.7 218L433.8 215.8L433.8 212.8L433.8 209.8L433.8 207L433.8 204.7L433.9 202.8L433.9 201.4L433.9 200.6L433.9 200.2L434 201.1L434 202.3L434 204L434 206.2L434 208.9L434.1 211.8L434.1 214.8L434.1 217.4L434.1 218.8L434.2 216.9L434.2 214.3L434.2 211.2L434.2 208.3L434.2 205.7L434.3 203.6L434.3 202L434.3 200.9L434.3 200.3L434.3 200.2L434.4 201.6L434.4 203.1L434.4 205.1L434.4 207.5L434.5 210.4L434.5 213.4L434.5 216.2L434.5 218.3L434.5 218.9L434.6 217.9L434.6 215.6L434.6 212.6L434.6 209.6L434.6 206.9L434.7 204.5L434.7 202.6L434.7 201.3L434.7 200.5L434.7 200.1L434.8 201L434.8 202.3L434.8 204L434.8 206.2L434.9 208.9L434.9 211.9L434.9 214.9L434.9 217.4L434.9 218.7L435 216.7L435 214L435 211L435 208.1L435 205.5L435.1 203.4L435.1 201.8L435.1 200.7L435.1 200.1L435.2 201.6L435.2 203L435.2 205L435.2 207.5L435.3 210.4L435.3 213.4L435.3 216.2L435.3 218.2L435.3 218.8L435.4 217.7L435.4 215.4L435.4 212.4L435.4 209.4L435.4 206.6L435.5 204.3L435.5 202.5L435.5 201.1L435.5 200.3L435.5 200L435.6 201L435.6 202.2L435.6 204L435.6 206.2L435.6 208.9L435.7 211.9L435.7 214.9L435.7 217.3L435.7 218.6L435.8 216.5L435.8 213.8L435.8 210.8L435.8 207.8L435.8 205.3L435.9 203.2L435.9 201.6L435.9 200.6L435.9 200L436 201.5L436 203L436 205L436 207.5L436 210.4L436.1 213.4L436.1 216.2L436.1 218.1L436.1 218.6L436.1 217.5L436.2 215.1L436.2 212.1L436.2 209.1L436.2 206.4L436.2 204.1L436.3 202.3L436.3 200.9L436.3 200.2L436.3 199.9L436.4 200.8L436.4 202.1L436.4 203.9L436.4 206.2L436.4 208.9L436.4 211.8L436.5 214.8L436.5 217.3L436.5 218.5L436.5 216.3L436.6 213.5L436.6 210.5L436.6 207.6L436.6 205.1L436.6 203L436.7 201.4L436.7 200.4L436.7 199.8L436.7 201.4L436.8 202.9L436.8 204.9L436.8 207.4L436.8 210.3L436.8 213.3L436.9 216.1L436.9 218L436.9 218.4L436.9 217.2L436.9 214.8L437 211.8L437 208.8L437 206.1L437 203.8L437 202L437 200.7L437.1 200L437.1 199.7L437.1 200.7L437.1 202L437.2 203.8L437.2 206.1L437.2 208.8L437.2 211.8L437.2 214.7L437.2 217.2L437.3 218.3L437.3 216L437.3 213.2L437.3 210.2L437.4 207.3L437.4 204.8L437.4 202.7L437.4 201.2L437.4 200.2L437.4 199.6L437.5 201.2L437.5 202.8L437.5 204.8L437.6 207.3L437.6 210.2L437.6 213.3L437.6 216L437.6 217.9L437.7 218.2L437.7 216.9L437.7 214.5L437.7 211.5L437.7 208.5L437.7 205.8L437.8 203.5L437.8 201.7L437.8 200.5L437.8 199.7L437.8 199.5L437.9 200.5L437.9 201.8L437.9 203.7L437.9 206L437.9 208.7L438 211.7L438 214.6L438 217L438 218.1L438.1 215.7L438.1 212.9L438.1 209.8L438.1 206.9L438.1 204.5L438.1 202.4L438.2 200.9L438.2 199.9L438.2 199.4L438.2 200L438.3 201L438.3 202.6L438.3 204.7L438.3 207.2L438.3 210.1L438.3 213.1L438.4 215.9L438.4 217.7L438.4 218L438.4 216.6L438.4 214.1L438.5 211.2L438.5 208.2L438.5 205.5L438.5 203.2L438.5 201.4L438.5 200.2L438.6 199.5L438.6 199.2L438.6 200.3L438.6 201.7L438.6 203.5L438.7 205.8L438.7 208.6L438.7 211.6L438.7 214.5L438.7 216.8L438.8 217.9L438.8 215.3L438.8 212.5L438.8 209.4L438.8 206.6L438.9 204.1L438.9 202.1L438.9 200.6L438.9 199.6L438.9 199.1L439 199.7L439 200.8L439 202.4L439 204.5L439 207.1L439.1 210L439.1 213L439.1 215.7L439.1 217.4L439.1 217.7L439.1 216.3L439.2 213.8L439.2 210.8L439.2 207.8L439.2 205.1L439.2 202.9L439.3 201.1L439.3 199.9L439.3 199.2L439.3 199L439.3 200.1L439.4 201.4L439.4 203.3L439.4 205.6L439.4 208.4L439.4 211.4L439.4 214.3L439.5 216.6L439.5 217.6L439.5 217L439.5 214.9L439.5 212.1L439.6 209L439.6 206.2L439.6 203.7L439.6 201.7L439.6 200.3L439.6 199.3L439.7 198.8L439.7 199.5L439.7 200.6L439.7 202.2L439.7 204.3L439.8 206.9L439.8 209.8L439.8 212.8L439.8 215.5L439.8 217.2L439.8 217.3L439.9 215.9L439.9 213.3L439.9 210.3L439.9 207.4L439.9 204.7L440 202.5L440 200.7L440 199.5L440 198.8L440 198.7L440.1 199.8L440.1 201.2L440.1 203.1L440.1 205.4L440.1 208.2L440.1 211.2L440.2 214.1L440.2 216.4L440.2 217.3L440.2 216.6L440.2 214.5L440.2 211.6L440.3 208.6L440.3 205.8L440.3 203.3L440.3 201.3L440.3 199.9L440.3 198.9L440.4 198.5L440.4 199.2L440.4 200.3L440.4 201.9L440.5 204.1L440.5 206.7L440.5 209.6L440.5 212.6L440.5 215.2L440.5 216.9L440.6 217L440.6 215.5L440.6 212.9L440.6 209.9L440.6 206.9L440.6 204.3L440.7 202L440.7 200.3L440.7 199.2L440.7 198.5L440.7 198.3L440.8 199.5L440.8 200.9L440.8 202.8L440.8 205.2L440.8 208L440.8 211L440.9 213.9L440.9 216.1L440.9 217L440.9 216.2L440.9 214L440.9 211.2L441 208.1L441 205.3L441 202.9L441 200.9L441 199.5L441 198.6L441.1 198.1L441.1 198.9L441.1 200L441.1 201.6L441.1 203.8L441.2 206.4L441.2 209.3L441.2 212.3L441.2 215L441.2 216.5L441.2 216.6L441.3 215L441.3 212.4L441.3 209.4L441.3 206.4L441.3 203.8L441.4 201.6L441.4 199.9L441.4 198.7L441.4 198.1L441.4 197.9L441.5 199.2L441.5 200.6L441.5 202.5L441.5 204.9L441.5 207.7L441.5 210.7L441.6 213.6L441.6 215.8L441.6 216.6L441.6 215.7L441.6 213.5L441.6 210.6L441.7 207.6L441.7 204.8L441.7 202.4L441.7 200.5L441.7 199L441.7 198.1L441.8 197.7L441.8 198.5L441.8 199.7L441.8 201.3L441.8 203.5L441.9 206.1L441.9 209.1L441.9 212.1L441.9 214.6L441.9 216.2L442 214.5L442 211.9L442 208.8L442 205.9L442 203.3L442 201.1L442.1 199.4L442.1 198.3L442.1 197.6L442.1 197.5L442.1 198.8L442.1 200.2L442.2 202.2L442.2 204.6L442.2 207.4L442.2 210.4L442.2 213.3L442.2 215.4L442.3 216.1L442.3 215.2L442.3 213L442.3 210.1L442.3 207.1L442.3 204.3L442.4 201.9L442.4 200L442.4 198.6L442.4 197.7L442.4 197.3L442.5 198.1L442.5 199.3L442.5 201L442.5 203.2L442.5 205.8L442.5 208.7L442.6 211.7L442.6 214.3L442.6 215.8L442.6 214L442.6 211.3L442.7 208.3L442.7 205.3L442.7 202.7L442.7 200.6L442.7 198.9L442.7 197.8L442.8 197.2L442.8 197.1L442.8 198.4L442.8 199.9L442.8 201.8L442.9 204.2L442.9 207.1L442.9 210.1L442.9 212.9L442.9 215L442.9 215.7L442.9 214.7L443 212.4L443 209.5L443 206.5L443 203.7L443 201.3L443 199.4L443.1 198L443.1 197.2L443.1 196.8L443.1 197.7L443.1 198.9L443.2 200.6L443.2 202.8L443.2 205.4L443.2 208.4L443.2 211.4L443.2 213.9L443.3 215.3L443.3 213.4L443.3 210.7L443.3 207.7L443.3 204.7L443.4 202.1L443.4 200L443.4 198.4L443.4 197.3L443.4 196.7L443.4 196.6L443.5 198L443.5 199.4L443.5 201.4L443.5 203.9L443.5 206.7L443.5 209.7L443.6 212.5L443.6 214.6L443.6 215.2L443.6 214.1L443.6 211.8L443.6 208.9L443.7 205.9L443.7 203.1L443.7 200.7L443.7 198.8L443.7 197.5L443.7 196.6L443.8 196.3L443.8 197.2L443.8 198.4L443.8 200.1L443.8 202.4L443.8 205L443.9 208L443.9 211L443.9 213.5L443.9 214.8L443.9 212.8L444 210.1L444 207L444 204.1L444 201.5L444 199.4L444 197.8L444.1 196.7L444.1 196.1L444.1 197.5L444.1 199L444.1 201L444.2 203.4L444.2 206.3L444.2 209.3L444.2 212.1L444.2 214.1L444.2 214.6L444.3 213.5L444.3 211.2L444.3 208.2L444.3 205.2L444.3 202.4L444.3 200.1L444.3 198.2L444.4 196.9L444.4 196.1L444.4 195.8L444.4 196.7L444.4 197.9L444.5 199.7L444.5 201.9L444.5 204.6L444.5 207.6L444.5 210.5L444.5 213L444.6 214.3L444.6 212.1L444.6 209.4L444.6 206.3L444.6 203.4L444.6 200.9L444.7 198.8L444.7 197.2L444.7 196.1L444.7 195.5L444.8 197L444.8 198.5L444.8 200.5L444.8 203L444.8 205.8L444.8 208.8L444.8 211.6L444.9 213.5L444.9 214L444.9 212.9L444.9 210.5L444.9 207.5L444.9 204.5L445 201.7L445 199.4L445 197.6L445 196.3L445 195.5L445 195.2L445.1 196.1L445.1 197.4L445.1 199.1L445.1 201.4L445.1 204.1L445.1 207.1L445.2 210L445.2 212.5L445.2 213.7L445.2 211.4L445.2 208.7L445.2 205.6L445.3 202.7L445.3 200.2L445.3 198.1L445.3 196.5L445.3 195.5L445.4 194.9L445.4 196.4L445.4 197.9L445.4 200L445.4 202.4L445.4 205.3L445.5 208.3L445.5 211.1L445.5 213L445.5 213.4L445.5 212.2L445.5 209.7L445.6 206.8L445.6 203.7L445.6 201L445.6 198.7L445.6 196.9L445.6 195.6L445.6 194.8L445.7 194.5L445.7 195.5L445.7 196.8L445.7 198.6L445.7 200.9L445.8 203.6L445.8 206.6L445.8 209.5L445.8 211.9L445.8 213.1L445.8 210.7L445.9 207.9L445.9 204.8L445.9 201.9L445.9 199.4L445.9 197.4L445.9 195.8L445.9 194.8L446 194.3L446 195.8L446 197.3L446 199.4L446.1 201.9L446.1 204.8L446.1 207.8L446.1 210.5L446.1 212.4L446.1 212.7L446.1 211.4L446.2 209L446.2 206L446.2 203L446.2 200.2L446.2 198L446.2 196.2L446.2 194.9L446.3 194.1L446.3 193.9L446.3 194.9L446.3 196.2L446.3 198L446.4 200.3L446.4 203L446.4 206L446.4 208.9L446.4 211.3L446.4 212.4L446.5 209.9L446.5 207.1L446.5 204L446.5 201.1L446.5 198.6L446.5 196.6L446.5 195.1L446.6 194.1L446.6 193.6L446.6 195.1L446.6 196.7L446.7 198.8L446.7 201.3L446.7 204.2L446.7 207.2L446.7 209.9L446.7 211.7L446.7 212L446.8 210.6L446.8 208.1L446.8 205.1L446.8 202.1L446.8 199.4L446.8 197.1L446.8 195.4L446.9 194.1L446.9 193.4L446.9 193.1L446.9 194.2L446.9 195.5L446.9 197.3L447 199.7L447 202.4L447 205.4L447 208.3L447 210.6L447 211.7L447 211.1L447.1 209.1L447.1 206.2L447.1 203.2L447.1 200.3L447.1 197.8L447.1 195.8L447.2 194.3L447.2 193.3L447.2 192.8L447.2 193.4L447.2 194.4L447.2 196L447.3 198.1L447.3 200.7L447.3 203.5L447.3 206.6L447.3 209.2L447.3 211L447.3 211.2L447.4 209.8L447.4 207.3L447.4 204.2L447.4 201.2L447.4 198.6L447.4 196.3L447.4 194.5L447.5 193.3L447.5 192.6L447.5 192.4L447.5 193.5L447.5 194.8L447.5 196.7L447.6 199L447.6 201.7L447.6 204.7L447.6 207.6L447.6 209.9L447.6 210.9L447.6 210.2L447.7 208.2L447.7 205.3L447.7 202.3L447.7 199.4L447.7 196.9L447.7 194.9L447.7 193.4L447.8 192.5L447.8 192L447.8 192.6L447.8 193.7L447.8 195.3L447.9 197.4L447.9 200L447.9 202.9L447.9 205.9L447.9 208.5L447.9 210.2L447.9 210.3L448 208.9L448 206.3L448 203.3L448 200.3L448 197.6L448 195.4L448 193.7L448.1 192.4L448.1 191.7L448.1 191.5L448.1 192.7L448.1 194L448.1 195.9L448.2 198.3L448.2 201L448.2 204L448.2 206.9L448.2 209.1L448.2 210.1L448.2 209.3L448.3 207.2L448.3 204.3L448.3 201.3L448.3 198.4L448.3 196L448.3 194L448.3 192.5L448.4 191.6L448.4 191.1L448.4 191.8L448.4 192.9L448.4 194.5L448.4 196.6L448.5 199.2L448.5 202.1L448.5 205.1L448.5 207.8L448.5 209.4L448.5 209.4L448.5 207.9L448.6 205.3L448.6 202.3L448.6 199.3L448.6 196.7L448.6 194.4L448.6 192.7L448.6 191.5L448.7 190.8L448.7 190.7L448.7 191.9L448.7 193.2L448.7 195.1L448.7 197.5L448.7 200.2L448.8 203.2L448.8 206.1L448.8 208.3L448.8 209.2L448.8 208.4L448.8 206.2L448.8 203.3L448.9 200.3L448.9 197.4L448.9 195L448.9 193L448.9 191.6L448.9 190.6L448.9 190.2L449 190.9L449 192L449 193.7L449 195.8L449 198.4L449 201.3L449.1 204.3L449.1 206.9L449.1 208.5L449.1 208.5L449.1 206.9L449.1 204.3L449.1 201.3L449.2 198.3L449.2 195.6L449.2 193.4L449.2 191.7L449.2 190.6L449.2 189.9L449.2 189.7L449.3 191L449.3 192.4L449.3 194.3L449.3 196.6L449.3 199.4L449.3 202.4L449.4 205.3L449.4 207.4L449.4 208.2L449.4 207.4L449.4 205.2L449.4 202.2L449.4 199.2L449.5 196.4L449.5 193.9L449.5 192L449.5 190.6L449.5 189.7L449.5 189.2L449.5 190L449.6 191.1L449.6 192.8L449.6 194.9L449.6 197.5L449.6 200.5L449.6 203.5L449.6 206L449.7 207.5L449.7 205.8L449.7 203.2L449.7 200.1L449.7 197.2L449.7 194.5L449.8 192.4L449.8 190.7L449.8 189.5L449.8 188.9L449.8 188.7L449.8 190L449.9 191.4L449.9 193.3L449.9 195.7L449.9 198.5L449.9 201.5L449.9 204.4L449.9 206.5L449.9 207.2L450 206.3L450 204L450 201.1L450 198.1L450 195.2L450 192.8L450 190.9L450.1 189.5L450.1 188.6L450.1 188.2L450.1 189L450.1 190.2L450.1 191.8L450.2 194L450.2 196.6L450.2 199.6L450.2 202.5L450.2 205.1L450.2 206.5L450.2 204.7L450.3 202L450.3 199L450.3 196L450.3 193.4L450.3 191.2L450.3 189.6L450.3 188.4L450.4 187.8L450.4 187.7L450.4 189L450.4 190.4L450.4 192.4L450.4 194.8L450.5 197.6L450.5 200.6L450.5 203.4L450.5 205.5L450.5 206.1L450.5 205.1L450.5 202.8L450.5 199.9L450.6 196.9L450.6 194L450.6 191.7L450.6 189.8L450.6 188.4L450.6 187.5L450.6 187.1L450.7 187.9L450.7 189.1L450.7 190.8L450.7 193L450.7 195.6L450.7 198.6L450.8 201.5L450.8 204.1L450.8 205.4L450.8 203.5L450.8 200.8L450.8 197.7L450.8 194.8L450.9 192.2L450.9 190L450.9 188.4L450.9 187.3L450.9 186.7L450.9 186.6L451 187.9L451 189.4L451 191.3L451 193.7L451 196.6L451 199.6L451 202.4L451 204.4L451.1 205L451.1 203.9L451.1 201.6L451.1 198.6L451.1 195.6L451.1 192.8L451.1 190.4L451.2 188.5L451.2 187.1L451.2 186.3L451.2 185.9L451.2 186.8L451.2 188L451.2 189.7L451.3 191.9L451.3 194.6L451.3 197.5L451.3 200.5L451.3 203L451.3 204.3L451.4 202.2L451.4 199.5L451.4 196.4L451.4 193.5L451.4 190.9L451.4 188.8L451.4 187.1L451.4 186L451.5 185.4L451.5 185.4L451.5 186.7L451.5 188.2L451.5 190.2L451.5 192.6L451.6 195.5L451.6 198.5L451.6 201.2L451.6 203.2L451.6 203.7L451.6 202.6L451.6 200.2L451.6 197.3L451.7 194.2L451.7 191.4L451.7 189.1L451.7 187.2L451.7 185.9L451.7 185L451.7 184.7L451.8 185.6L451.8 186.8L451.8 188.5L451.8 190.8L451.8 193.4L451.8 196.4L451.8 199.3L451.9 201.8L451.9 203L451.9 200.9L451.9 198.1L451.9 195L451.9 192.1L451.9 189.5L452 187.4L452 185.8L452 184.7L452 184.1L452 185.5L452.1 187L452.1 189L452.1 191.4L452.1 194.3L452.1 197.3L452.1 200L452.1 202L452.1 202.4L452.2 201.2L452.2 198.8L452.2 195.8L452.2 192.8L452.2 190L452.2 187.7L452.2 185.8L452.2 184.5L452.3 183.7L452.3 183.4L452.3 184.3L452.3 185.5L452.3 187.3L452.3 189.5L452.4 192.2L452.4 195.2L452.4 198.1L452.4 200.5L452.4 201.7L452.4 199.4L452.4 196.6L452.5 193.5L452.5 190.6L452.5 188.1L452.5 186L452.5 184.4L452.5 183.3L452.5 182.7L452.6 184.2L452.6 185.7L452.6 187.7L452.6 190.2L452.6 193L452.6 196L452.6 198.8L452.7 200.6L452.7 201L452.7 199.8L452.7 197.3L452.7 194.3L452.7 191.3L452.7 188.5L452.8 186.2L452.8 184.4L452.8 183L452.8 182.2L452.8 181.9L452.8 182.9L452.8 184.2L452.9 185.9L452.9 188.2L452.9 190.9L452.9 193.8L452.9 196.8L452.9 199.1L452.9 200.3L453 197.9L453 195L453 192L453 189L453 186.5L453 184.4L453 182.9L453 181.8L453.1 181.3L453.1 182.8L453.1 184.3L453.1 186.3L453.1 188.8L453.1 191.7L453.2 194.6L453.2 197.4L453.2 199.2L453.2 199.5L453.2 198.2L453.2 195.7L453.2 192.7L453.3 189.6L453.3 186.9L453.3 184.6L453.3 182.8L453.3 181.5L453.3 180.7L453.3 180.4L453.4 181.4L453.4 182.7L453.4 184.5L453.4 186.8L453.4 189.5L453.4 192.4L453.4 195.3L453.4 197.7L453.5 198.8L453.5 196.2L453.5 193.4L453.5 190.3L453.5 187.4L453.5 184.8L453.5 182.8L453.6 181.2L453.6 180.2L453.6 179.7L453.6 181.2L453.6 182.8L453.6 184.8L453.7 187.3L453.7 190.2L453.7 193.2L453.7 195.9L453.7 197.6L453.7 197.9L453.7 196.5L453.7 194L453.8 190.9L453.8 187.9L453.8 185.2L453.8 182.9L453.8 181.1L453.8 179.8L453.8 179L453.8 178.8L453.9 179.8L453.9 181.1L453.9 182.9L453.9 185.2L453.9 187.9L453.9 190.9L453.9 193.8L454 196.1L454 197.1L454 196.5L454 194.4L454 191.6L454 188.5L454 185.6L454 183.1L454.1 181L454.1 179.5L454.1 178.5L454.1 178L454.1 179.6L454.1 181.1L454.2 183.2L454.2 185.7L454.2 188.6L454.2 191.6L454.2 194.2L454.2 195.9L454.2 196.1L454.2 194.7L454.3 192.1L454.3 189.1L454.3 186.1L454.3 183.3L454.3 181.1L454.3 179.3L454.3 178L454.3 177.3L454.4 177L454.4 178.1L454.4 179.4L454.4 181.2L454.4 183.6L454.4 186.3L454.4 189.3L454.5 192.1L454.5 194.4L454.5 195.3L454.5 194.6L454.5 192.5L454.5 189.6L454.5 186.6L454.5 183.7L454.6 181.2L454.6 179.2L454.6 177.6L454.6 176.6L454.6 176.2L454.6 176.7L454.6 177.8L454.7 179.4L454.7 181.5L454.7 184L454.7 186.9L454.7 189.9L454.7 192.5L454.7 194.1L454.7 194.2L454.7 192.7L454.8 190.1L454.8 187.1L454.8 184.1L454.8 181.4L454.8 179.1L454.8 177.4L454.8 176.1L454.8 175.4L454.9 175.2L454.9 176.3L454.9 177.6L454.9 179.4L454.9 181.8L454.9 184.5L454.9 187.5L455 190.3L455 192.5L455 193.4L455 192.6L455 190.5L455 187.6L455 184.5L455 181.6L455.1 179.1L455.1 177.1L455.1 175.6L455.1 174.7L455.1 174.2L455.1 174.8L455.1 175.9L455.2 177.5L455.2 179.6L455.2 182.1L455.2 185L455.2 188L455.2 190.6L455.2 192.2L455.2 192.2L455.2 190.6L455.3 188L455.3 184.9L455.3 181.9L455.3 179.2L455.3 177L455.3 175.3L455.3 174L455.3 173.3L455.4 173.1L455.4 174.3L455.4 175.6L455.4 177.5L455.4 179.8L455.4 182.5L455.4 185.5L455.5 188.4L455.5 190.5L455.5 191.3L455.5 190.5L455.5 188.3L455.5 185.4L455.5 182.3L455.5 179.4L455.6 176.9L455.6 175L455.6 173.5L455.6 172.5L455.6 172.1L455.6 172.7L455.6 173.8L455.6 175.4L455.7 177.5L455.7 180.1L455.7 183L455.7 185.9L455.7 188.5L455.7 190L455.7 188.4L455.8 185.7L455.8 182.6L455.8 179.6L455.8 176.9L455.8 174.7L455.8 173L455.8 171.8L455.8 171.1L455.9 170.9L455.9 172.1L455.9 173.4L455.9 175.3L455.9 177.7L455.9 180.4L455.9 183.4L455.9 186.2L456 188.3L456 189.1L456 188.2L456 185.9L456 183L456 179.9L456 177L456 174.6L456.1 172.6L456.1 171.1L456.1 170.2L456.1 169.7L456.1 170.4L456.1 171.5L456.1 173.2L456.2 175.3L456.2 177.8L456.2 180.7L456.2 183.7L456.2 186.2L456.2 187.7L456.2 185.9L456.2 183.2L456.3 180.1L456.3 177.1L456.3 174.4L456.3 172.2L456.3 170.5L456.3 169.3L456.3 168.6L456.3 168.5L456.4 169.7L456.4 171.1L456.4 172.9L456.4 175.3L456.4 178.1L456.4 181L456.4 183.8L456.4 185.9L456.5 186.6L456.5 185.6L456.5 183.3L456.5 180.3L456.5 177.2L456.5 174.4L456.5 171.9L456.5 170L456.6 168.5L456.6 167.6L456.6 167.2L456.6 167.9L456.6 169L456.6 170.7L456.6 172.8L456.6 175.4L456.7 178.3L456.7 181.2L456.7 183.7L456.7 185.1L456.7 183.2L456.7 180.5L456.7 177.4L456.8 174.4L456.8 171.7L456.8 169.5L456.8 167.8L456.8 166.6L456.8 166L456.8 165.8L456.8 167.1L456.9 168.4L456.9 170.3L456.9 172.7L456.9 175.5L456.9 178.5L456.9 181.2L456.9 183.2L456.9 183.8L457 182.8L457 180.4L457 177.5L457 174.4L457 171.5L457 169.1L457 167.1L457 165.7L457 164.8L457.1 164.4L457.1 165.1L457.1 166.3L457.1 167.9L457.1 170.1L457.1 172.7L457.1 175.6L457.1 178.5L457.2 181L457.2 182.3L457.2 180.2L457.2 177.4L457.2 174.3L457.2 171.4L457.2 168.7L457.3 166.5L457.3 164.8L457.3 163.7L457.3 163L457.3 162.9L457.3 164.1L457.3 165.5L457.3 167.5L457.4 169.8L457.4 172.6L457.4 175.6L457.4 178.3L457.4 180.3L457.4 180.8L457.4 179.7L457.4 177.3L457.4 174.3L457.5 171.2L457.5 168.3L457.5 165.9L457.5 164L457.5 162.6L457.5 161.7L457.5 161.3L457.6 162L457.6 163.2L457.6 164.9L457.6 167L457.6 169.6L457.6 172.5L457.6 175.4L457.6 177.9L457.6 179.1L457.7 176.9L457.7 174.1L457.7 171L457.7 168L457.7 165.4L457.7 163.2L457.7 161.5L457.7 160.4L457.8 159.7L457.8 159.6L457.8 160.9L457.8 162.3L457.8 164.2L457.8 166.6L457.8 169.4L457.9 172.4L457.9 175.1L457.9 177L457.9 177.4L457.9 176.2L457.9 173.8L457.9 170.7L457.9 167.6L457.9 164.8L458 162.4L458 160.5L458 159.1L458 158.2L458 157.8L458 158.6L458 159.8L458 161.4L458.1 163.6L458.1 166.2L458.1 169.1L458.1 172L458.1 174.4L458.1 175.6L458.1 173.2L458.1 170.4L458.2 167.2L458.2 164.2L458.2 161.6L458.2 159.4L458.2 157.8L458.2 156.6L458.2 156L458.2 155.9L458.3 157.2L458.3 158.6L458.3 160.6L458.3 163L458.3 165.7L458.3 168.7L458.3 171.4L458.3 173.2L458.3 173.6L458.4 172.3L458.4 169.8L458.4 166.7L458.4 163.6L458.4 160.8L458.4 158.4L458.4 156.5L458.4 155.1L458.5 154.2L458.5 153.8L458.5 154.6L458.5 155.8L458.5 157.5L458.5 159.7L458.5 162.3L458.5 165.2L458.6 168.1L458.6 170.4L458.6 171.5L458.6 169L458.6 166.1L458.6 163L458.6 160L458.6 157.3L458.7 155.2L458.7 153.5L458.7 152.4L458.7 151.8L458.7 151.7L458.7 153L458.7 154.4L458.7 156.4L458.8 158.8L458.8 161.5L458.8 164.5L458.8 167.1L458.8 168.9L458.8 169.1L458.8 167.8L458.8 165.2L458.8 162.2L458.9 159L458.9 156.2L458.9 153.8L458.9 151.9L458.9 150.5L458.9 149.6L458.9 149.3L458.9 150.1L459 151.3L459 153L459 155.1L459 157.8L459 160.6L459 163.5L459 165.7L459 166.8L459 166.1L459.1 164.1L459.1 161.2L459.1 158L459.1 155L459.1 152.4L459.1 150.2L459.1 148.6L459.1 147.4L459.1 146.8L459.2 146.7L459.2 148L459.2 149.5L459.2 151.4L459.2 153.8L459.2 156.6L459.2 159.5L459.2 162.1L459.3 163.8L459.3 164L459.3 162.5L459.3 159.9L459.3 156.8L459.3 153.7L459.3 150.8L459.3 148.4L459.3 146.5L459.4 145.1L459.4 144.2L459.4 143.9L459.4 144.7L459.4 145.9L459.4 147.6L459.4 149.8L459.4 152.4L459.5 155.2L459.5 158L459.5 160.2L459.5 161.1L459.5 160.4L459.5 158.3L459.5 155.3L459.5 152.1L459.5 149.1L459.6 146.5L459.6 144.3L459.6 142.7L459.6 141.5L459.6 140.9L459.6 140.8L459.6 142.1L459.6 143.5L459.7 145.5L459.7 147.9L459.7 150.6L459.7 153.5L459.7 156L459.7 157.6L459.7 157.7L459.7 156.2L459.7 153.5L459.7 150.3L459.8 147.2L459.8 144.3L459.8 141.9L459.8 140L459.8 138.6L459.8 137.7L459.8 137.3L459.8 138.1L459.9 139.3L459.9 141L459.9 143.1L459.9 145.7L459.9 148.6L459.9 151.3L459.9 153.4L459.9 154.2L459.9 153.4L460 151.2L460 148.1L460 144.9L460 141.9L460 139.2L460 137L460 135.4L460 134.2L460 133.6L460.1 133.4L460.1 134.7L460.1 136.1L460.1 138.1L460.1 140.4L460.1 143.1L460.1 146L460.1 148.4L460.2 149.9L460.2 148.2L460.2 145.4L460.2 142.2L460.2 139L460.2 136.1L460.2 133.7L460.2 131.7L460.2 130.3L460.3 129.4L460.3 129L460.3 129.7L460.3 130.9L460.3 132.5L460.3 134.6L460.3 137.2L460.3 140L460.4 142.6L460.4 144.6L460.4 145.3L460.4 144.3L460.4 141.9L460.4 138.8L460.4 135.5L460.4 132.4L460.4 129.7L460.5 127.5L460.5 125.8L460.5 124.6L460.5 123.9L460.5 123.8L460.5 125L460.5 126.3L460.5 128.2L460.5 130.5L460.6 133.2L460.6 135.9L460.6 138.2L460.6 139.5L460.6 137.4L460.6 134.5L460.6 131.2L460.6 127.9L460.7 125L460.7 122.5L460.7 120.5L460.7 119L460.7 118L460.7 117.5L460.7 118.1L460.7 119.2L460.8 120.7L460.8 122.8L460.8 125.2L460.8 127.9L460.8 130.4L460.8 132.2L460.8 132.7L460.8 131.5L460.8 128.9L460.8 125.6L460.9 122.2L460.9 119L460.9 116.1L460.9 113.8L460.9 112L460.9 110.7L460.9 109.9L460.9 109.6L461 110.5L461 111.8L461 113.5L461 115.7L461 118.2L461 120.7L461 122.8L461 123.8L461 123.2L461 121L461.1 117.8L461.1 114.3L461.1 110.8L461.1 107.6L461.1 104.9L461.1 102.7L461.1 101L461.1 99.8L461.1 99.1L461.2 99L461.2 100.1L461.2 101.4L461.2 103.2L461.2 105.4L461.2 107.7L461.2 109.9L461.2 111.2L461.3 109.3L461.3 106.1L461.3 102.4L461.3 98.5L461.3 94.9L461.3 91.7L461.3 88.9L461.3 86.6L461.3 84.9L461.4 83.6L461.4 82.8L461.4 82.5L461.4 83.4L461.4 84.5L461.4 86.1L461.4 87.8L461.4 89.5L461.5 90.6L461.5 88.2L461.5 84.6L461.5 80L461.5 75.1L461.5 70.3L461.5 65.8L461.5 61.7L461.5 57.9L461.6 54.5L461.6 51.5L461.6 48.8L461.6 46.5L461.6 44.4L461.6 42.6L461.6 41.1L461.6 39.8L461.6 38.8L461.6 38L461.7 37.1" fill="none" stroke="#000" stroke-width="1.6" stroke-linejoin="round"/>
<path d="M106 37.1L135.7 37.4L153 38L165.3 38.8L174.9 39.8L182.7 41.1L189.2 42.6L195 44.4L200 46.5L204.5 48.8L208.6 51.5L212.3 54.5L215.7 57.9L218.9 61.7L221.8 65.8L224.6 70.3L227.2 75.1L229.6 80L231.9 84.6L234.1 88.2L236.2 90.3L238.2 90.6L240.1 89.5L241.9 87.8L243.7 86.1L245.3 84.5L247 83.4L248.5 82.7L250 82.5L251.5 82.8L252.9 83.6L254.2 84.9L255.5 86.6L256.8 88.9L258.1 91.7L259.3 94.9L260.4 98.5L261.6 102.4L262.7 106.1L263.8 109.3L264.8 111.1L265.9 111.2L266.9 109.9L267.8 107.7L268.8 105.4L269.7 103.2L270.7 101.4L271.6 100.1L272.4 99.3L273.3 99L274.2 99.1L275 99.8L275.8 101L276.6 102.7L277.4 104.9L278.2 107.6L278.9 110.8L279.7 114.3L280.4 117.8L281.1 121L281.8 123.2L282.5 123.8L283.2 122.8L283.9 120.7L284.5 118.2L285.2 115.7L285.8 113.5L286.5 111.8L287.1 110.5L287.7 109.8L288.3 109.6L288.9 109.9L289.5 110.7L290.1 112L290.6 113.8L291.2 116.1L291.8 119L292.3 122.2L292.9 125.6L293.4 128.9L293.9 131.5L294.5 132.7L295 132.2L295.5 130.4L296 127.9L296.5 125.2L297 122.8L297.5 120.7L298 119.2L298.4 118.1L298.9 117.6L299.4 117.5L299.8 118L300.3 119L300.8 120.5L301.2 122.5L301.6 125L302.1 127.9L302.5 131.2L302.9 134.5L303.4 137.4L303.8 139.3L304.2 139.5L304.6 138.2L305 135.9L305.4 133.2L305.8 130.5L306.2 128.2L306.6 126.3L307 125L307.4 124.1L307.8 123.8L308.5 124.6L308.9 125.8L309.3 127.5L309.7 129.7L310 132.4L310.4 135.5L310.7 138.8L311.1 141.9L311.4 144.3L311.8 145.3L312.1 144.6L312.5 142.6L312.8 140L313.2 137.2L313.5 134.6L313.8 132.5L314.2 130.9L314.5 129.7L314.8 129.1L315.1 129L315.5 129.4L315.8 130.3L316.1 131.7L316.4 133.7L316.7 136.1L317 139L317.3 142.2L317.6 145.4L317.9 148.2L318.2 149.8L318.5 149.9L318.8 148.4L319.1 146L319.4 143.1L319.7 140.4L320 138.1L320.3 136.1L320.6 134.7L320.8 133.8L321.1 133.4L321.7 134.2L322 135.4L322.2 137L322.5 139.2L322.8 141.9L323 144.9L323.3 148.1L323.6 151.2L323.8 153.4L324.1 154.2L324.4 153.4L324.6 151.3L324.9 148.6L325.1 145.7L325.4 143.1L325.6 141L325.9 139.3L326.1 138.1L326.4 137.5L326.6 137.3L326.9 137.7L327.1 138.6L327.4 140L327.6 141.9L327.8 144.3L328.1 147.2L328.3 150.3L328.5 153.5L328.8 156.2L329 157.7L329.5 156L329.7 153.5L329.9 150.6L330.2 147.9L330.4 145.5L330.6 143.5L330.8 142.1L331.1 141.2L331.3 140.8L331.7 141.5L331.9 142.7L332.2 144.3L332.4 146.5L332.6 149.1L332.8 152.1L333 155.3L333.2 158.3L333.4 160.4L333.6 161.1L333.8 160.2L334.1 158L334.3 155.2L334.5 152.4L334.7 149.8L334.9 147.6L335.1 145.9L335.3 144.7L335.5 144L335.7 143.9L336.1 145.1L336.3 146.5L336.5 148.4L336.7 150.8L336.8 153.7L337 156.8L337.2 159.9L337.4 162.5L337.6 164L338 162.1L338.2 159.5L338.4 156.6L338.6 153.8L338.7 151.4L338.9 149.5L339.1 148L339.3 147.1L339.5 146.7L339.8 147.4L340 148.6L340.2 150.2L340.4 152.4L340.6 155L340.7 158L340.9 161.2L341.1 164.1L341.3 166.1L341.4 166.8L341.6 165.7L341.8 163.5L341.9 160.6L342.1 157.8L342.3 155.1L342.5 153L342.6 151.3L342.8 150.1L343 149.4L343.1 149.3L343.5 150.5L343.6 151.9L343.8 153.8L344 156.2L344.1 159L344.3 162.2L344.5 165.2L344.6 167.8L344.8 169.1L345.1 167.1L345.3 164.5L345.4 161.5L345.6 158.8L345.7 156.4L345.9 154.4L346 153L346.2 152.1L346.4 151.7L346.7 152.4L346.8 153.5L347 155.2L347.1 157.3L347.3 160L347.4 163L347.6 166.1L347.7 169L347.9 171L348 171.5L348.2 170.4L348.3 168.1L348.5 165.2L348.6 162.3L348.8 159.7L348.9 157.5L349.1 155.8L349.2 154.6L349.3 154L349.5 153.8L349.8 155.1L349.9 156.5L350.1 158.4L350.2 160.8L350.3 163.6L350.5 166.7L350.6 169.8L350.8 172.3L350.9 173.6L351.2 171.4L351.3 168.7L351.5 165.7L351.6 163L351.7 160.6L351.9 158.6L352 157.2L352.1 156.3L352.3 155.9L352.5 156.6L352.7 157.8L352.8 159.4L352.9 161.6L353.1 164.2L353.2 167.2L353.3 170.4L353.5 173.2L353.6 175.1L353.7 175.6L353.9 174.4L354 172L354.1 169.1L354.3 166.2L354.4 163.6L354.5 161.4L354.6 159.8L354.8 158.6L354.9 157.9L355 157.8L355.3 159.1L355.4 160.5L355.5 162.4L355.6 164.8L355.8 167.6L355.9 170.7L356 173.8L356.1 176.2L356.3 177.4L356.5 175.1L356.6 172.4L356.8 169.4L356.9 166.6L357 164.2L357.1 162.3L357.2 160.9L357.4 160L357.5 159.6L357.7 160.4L357.8 161.5L357.9 163.2L358.1 165.4L358.2 168L358.3 171L358.4 174.1L358.5 176.9L358.7 178.8L358.8 179.1L358.9 177.9L359 175.4L359.1 172.5L359.2 169.6L359.3 167L359.5 164.9L359.6 163.2L359.7 162L359.8 161.4L359.9 161.3L360.1 162.6L360.2 164L360.4 165.9L360.5 168.3L360.6 171.2L360.7 174.3L360.8 177.3L360.9 179.7L361 180.8L361.1 180.3L361.2 178.3L361.4 175.6L361.5 172.6L361.6 169.8L361.7 167.5L361.8 165.5L361.9 164.1L362 163.3L362.1 162.9L362.3 163.7L362.4 164.8L362.5 166.5L362.6 168.7L362.7 171.4L362.9 174.3L363 177.4L363.1 180.2L363.2 182L363.3 182.3L363.4 181L363.5 178.5L363.6 175.6L363.7 172.7L363.8 170.1L363.9 167.9L364 166.3L364.1 165.1L364.2 164.5L364.3 164.4L364.5 165.7L364.6 167.1L364.7 169.1L364.8 171.5L364.9 174.4L365 177.5L365.1 180.4L365.2 182.8L365.3 183.8L365.4 183.2L365.5 181.2L365.6 178.5L365.7 175.5L365.8 172.7L365.9 170.3L366 168.4L366.1 167.1L366.2 166.2L366.3 165.8L366.5 166.6L366.6 167.8L366.7 169.5L366.8 171.7L366.9 174.4L367 177.4L367.1 180.5L367.2 183.2L367.3 184.9L367.3 185.1L367.4 183.7L367.5 181.2L367.6 178.3L367.7 175.4L367.8 172.8L367.9 170.7L368 169L368.1 167.9L368.2 167.3L368.3 167.2L368.5 168.5L368.6 170L368.7 171.9L368.7 174.4L368.8 177.2L368.9 180.3L369 183.3L369.1 185.6L369.2 186.6L369.3 185.9L369.4 183.8L369.5 181L369.6 178.1L369.7 175.3L369.7 172.9L369.8 171.1L369.9 169.7L370 168.8L370.1 168.5L370.3 169.3L370.4 170.5L370.5 172.2L370.5 174.4L370.6 177.1L370.7 180.1L370.8 183.2L370.9 185.9L371 187.6L371.1 187.7L371.2 186.2L371.2 183.7L371.3 180.7L371.4 177.8L371.5 175.3L371.6 173.2L371.7 171.5L371.8 170.4L371.8 169.8L371.9 169.7L372.1 171.1L372.2 172.6L372.3 174.6L372.4 177L372.4 179.9L372.5 183L372.6 185.9L372.7 188.2L372.8 189.1L372.9 188.3L372.9 186.2L373 183.4L373.1 180.4L373.2 177.7L373.3 175.3L373.4 173.4L373.4 172.1L373.5 171.2L373.6 170.9L373.8 171.8L373.8 173L373.9 174.7L374 176.9L374.1 179.6L374.2 182.6L374.2 185.7L374.3 188.4L374.4 190L374.5 190L374.6 188.5L374.7 185.9L374.7 183L374.8 180.1L374.9 177.5L375 175.4L375 173.8L375.1 172.7L375.2 172.1L375.3 172.1L375.4 173.5L375.5 175L375.6 176.9L375.7 179.4L375.8 182.3L375.8 185.4L375.9 188.3L376 190.5L376.1 191.3L376.1 190.5L376.2 188.4L376.3 185.5L376.4 182.5L376.5 179.8L376.5 177.5L376.6 175.6L376.7 174.3L376.8 173.4L376.8 173.1L377 174L377.1 175.3L377.1 177L377.2 179.2L377.3 181.9L377.4 184.9L377.4 188L377.5 190.6L377.6 192.2L377.7 190.6L377.8 188L377.9 185L378 182.1L378 179.6L378.1 177.5L378.2 175.9L378.3 174.8L378.3 174.2L378.4 174.2L378.5 175.6L378.6 177.1L378.7 179.1L378.8 181.6L378.8 184.5L378.9 187.6L379 190.5L379.1 192.6L379.1 193.4L379.2 192.5L379.3 190.3L379.3 187.5L379.4 184.5L379.5 181.8L379.6 179.4L379.6 177.6L379.7 176.3L379.8 175.5L379.8 175.2L380 176.1L380 177.4L380.1 179.1L380.2 181.4L380.3 184.1L380.3 187.1L380.4 190.1L380.5 192.7L380.5 194.2L380.7 192.5L380.7 189.9L380.8 186.9L380.9 184L381 181.5L381 179.4L381.1 177.8L381.2 176.7L381.2 176.2L381.3 176.2L381.4 177.6L381.5 179.2L381.6 181.2L381.6 183.7L381.7 186.6L381.8 189.6L381.8 192.5L381.9 194.6L382 195.3L382 194.4L382.1 192.1L382.2 189.3L382.2 186.3L382.3 183.6L382.4 181.2L382.4 179.4L382.5 178.1L382.6 177.3L382.6 177L382.8 178L382.8 179.3L382.9 181.1L383 183.3L383 186.1L383.1 189.1L383.2 192.1L383.2 194.7L383.3 196.1L383.4 194.2L383.5 191.6L383.6 188.6L383.6 185.7L383.7 183.2L383.8 181.1L383.8 179.6L383.9 178.5L384 178L384.1 179.5L384.2 181L384.3 183.1L384.3 185.6L384.4 188.5L384.5 191.6L384.5 194.4L384.6 196.5L384.7 197.1L384.7 196.1L384.8 193.8L384.8 190.9L384.9 187.9L385 185.2L385 182.9L385.1 181.1L385.2 179.8L385.2 179.1L385.3 178.8L385.4 179.8L385.5 181.1L385.5 182.9L385.6 185.2L385.7 187.9L385.7 190.9L385.8 194L385.8 196.5L385.9 197.9L386 195.9L386.1 193.2L386.1 190.2L386.2 187.3L386.3 184.8L386.3 182.8L386.4 181.2L386.4 180.2L386.5 179.7L386.6 180.2L386.7 181.2L386.8 182.8L386.8 184.8L386.9 187.4L386.9 190.3L387 193.4L387.1 196.2L387.1 198.2L387.2 198.8L387.2 197.7L387.3 195.3L387.3 192.4L387.4 189.5L387.5 186.8L387.5 184.5L387.6 182.7L387.6 181.4L387.7 180.7L387.8 180.4L387.9 181.5L387.9 182.8L388 184.6L388.1 186.9L388.1 189.6L388.2 192.7L388.2 195.7L388.3 198.2L388.3 199.5L388.5 197.4L388.5 194.6L388.6 191.7L388.6 188.8L388.7 186.3L388.8 184.3L388.8 182.8L388.9 181.7L388.9 181.3L389 181.8L389.1 182.9L389.2 184.4L389.2 186.5L389.3 189L389.3 192L389.4 195L389.4 197.9L389.5 199.8L389.5 200.3L389.6 199.1L389.7 196.8L389.7 193.8L389.8 190.9L389.8 188.2L389.9 185.9L389.9 184.2L390 182.9L390.1 182.2L390.1 181.9L390.2 183L390.3 184.4L390.3 186.2L390.4 188.5L390.4 191.3L390.5 194.3L390.6 197.3L390.6 199.8L390.7 201L390.8 198.8L390.8 196L390.9 193L390.9 190.2L391 187.7L391 185.7L391.1 184.2L391.2 183.2L391.2 182.7L391.3 183.3L391.4 184.4L391.4 186L391.5 188.1L391.5 190.6L391.6 193.5L391.6 196.6L391.7 199.4L391.7 201.3L391.8 201.7L391.9 200.5L391.9 198.1L392 195.2L392 192.2L392.1 189.5L392.1 187.3L392.2 185.5L392.2 184.3L392.3 183.6L392.3 183.4L392.4 184.5L392.5 185.8L392.5 187.7L392.6 190L392.6 192.8L392.7 195.8L392.8 198.8L392.8 201.2L392.9 202.4L393 200L393 197.3L393.1 194.3L393.1 191.4L393.2 189L393.2 187L393.3 185.5L393.3 184.5L393.4 184.1L393.5 184.7L393.5 185.8L393.6 187.4L393.6 189.5L393.7 192.1L393.7 195L393.8 198.1L393.8 200.9L393.9 202.7L393.9 203L394 201.8L394 199.3L394.1 196.4L394.1 193.4L394.2 190.8L394.2 188.5L394.3 186.8L394.3 185.6L394.4 184.9L394.4 184.7L394.5 185.9L394.6 187.2L394.6 189.1L394.7 191.4L394.7 194.2L394.8 197.3L394.8 200.2L394.9 202.6L394.9 203.7L395 201.2L395.1 198.5L395.1 195.5L395.2 192.6L395.2 190.2L395.3 188.2L395.3 186.7L395.4 185.8L395.4 185.4L395.5 186L395.6 187.1L395.6 188.8L395.7 190.9L395.7 193.5L395.8 196.4L395.8 199.5L395.9 202.2L395.9 204L396 204.3L396 203L396.1 200.5L396.1 197.5L396.2 194.6L396.2 191.9L396.3 189.7L396.3 188L396.4 186.8L396.4 186.1L396.5 185.9L396.6 187.1L396.6 188.5L396.7 190.4L396.7 192.8L396.7 195.6L396.8 198.6L396.8 201.6L396.9 203.9L396.9 205L397 204.4L397 202.4L397.1 199.6L397.1 196.6L397.2 193.7L397.2 191.3L397.3 189.4L397.3 187.9L397.4 187L397.4 186.6L397.5 187.3L397.5 188.4L397.6 190L397.6 192.2L397.7 194.8L397.7 197.7L397.8 200.8L397.8 203.5L397.9 205.2L397.9 205.4L398 204.1L398 201.5L398.1 198.6L398.1 195.6L398.2 193L398.2 190.8L398.2 189.1L398.3 187.9L398.3 187.3L398.4 187.1L398.5 188.4L398.5 189.8L398.6 191.7L398.6 194L398.7 196.9L398.7 199.9L398.7 202.8L398.8 205.1L398.8 206.1L398.9 205.5L398.9 203.4L399 200.6L399 197.6L399.1 194.8L399.1 192.4L399.2 190.4L399.2 189L399.2 188.1L399.3 187.7L399.4 188.4L399.4 189.6L399.5 191.2L399.5 193.4L399.6 196L399.6 199L399.6 202L399.7 204.7L399.7 206.4L399.8 206.5L399.8 205.1L399.9 202.5L399.9 199.6L400 196.6L400 194L400 191.8L400.1 190.2L400.1 189L400.2 188.3L400.2 188.2L400.3 189.5L400.4 190.9L400.4 192.8L400.4 195.2L400.5 198.1L400.5 201.1L400.6 204L400.6 206.3L400.7 207.2L400.7 206.5L400.7 204.4L400.8 201.5L400.8 198.5L400.9 195.7L400.9 193.3L401 191.4L401 190L401.1 189.1L401.1 188.7L401.2 189.5L401.2 190.7L401.3 192.4L401.3 194.5L401.4 197.2L401.4 200.1L401.4 203.2L401.5 205.8L401.5 207.5L401.6 207.5L401.6 206L401.6 203.5L401.7 200.5L401.7 197.5L401.8 194.9L401.8 192.8L401.9 191.1L401.9 190L401.9 189.4L402 189.2L402.1 190.6L402.1 192L402.2 193.9L402.2 196.4L402.2 199.2L402.3 202.2L402.3 205.2L402.4 207.4L402.4 208.2L402.4 207.4L402.5 205.3L402.5 202.4L402.6 199.4L402.6 196.6L402.7 194.3L402.7 192.4L402.7 191L402.8 190.1L402.8 189.7L402.9 190.6L402.9 191.7L403 193.4L403 195.6L403.1 198.3L403.1 201.3L403.2 204.3L403.2 206.9L403.2 208.5L403.3 206.9L403.4 204.3L403.4 201.3L403.4 198.4L403.5 195.8L403.5 193.7L403.6 192L403.6 190.9L403.6 190.3L403.7 190.2L403.8 191.6L403.8 193L403.8 195L403.9 197.4L403.9 200.3L404 203.3L404 206.2L404 208.4L404.1 209.2L404.1 208.3L404.2 206.1L404.2 203.2L404.2 200.2L404.3 197.5L404.3 195.1L404.4 193.2L404.4 191.9L404.4 191L404.5 190.7L404.6 191.5L404.6 192.7L404.6 194.4L404.7 196.7L404.7 199.3L404.8 202.3L404.8 205.3L404.8 207.9L404.9 209.4L405 207.8L405 205.1L405 202.1L405.1 199.2L405.1 196.6L405.2 194.5L405.2 192.9L405.2 191.8L405.3 191.2L405.3 191.1L405.4 192.5L405.4 194L405.5 196L405.5 198.4L405.5 201.3L405.6 204.3L405.6 207.2L405.7 209.3L405.7 210.1L405.7 209.1L405.8 206.9L405.8 204L405.9 201L405.9 198.3L405.9 195.9L406 194L406 192.7L406 191.9L406.1 191.5L406.2 192.4L406.2 193.7L406.2 195.4L406.3 197.6L406.3 200.3L406.4 203.3L406.4 206.3L406.4 208.9L406.5 210.3L406.5 208.5L406.6 205.9L406.6 202.9L406.7 200L406.7 197.4L406.7 195.3L406.8 193.7L406.8 192.6L406.8 192L406.9 192L407 193.4L407 194.9L407 196.9L407.1 199.4L407.1 202.3L407.1 205.3L407.2 208.2L407.2 210.2L407.3 210.9L407.3 209.9L407.3 207.6L407.4 204.7L407.4 201.7L407.4 199L407.5 196.7L407.5 194.8L407.6 193.5L407.6 192.7L407.6 192.4L407.7 193.3L407.7 194.5L407.8 196.3L407.8 198.6L407.9 201.2L407.9 204.2L407.9 207.3L408 209.8L408 211.2L408.1 209.2L408.1 206.6L408.1 203.5L408.2 200.7L408.2 198.1L408.3 196L408.3 194.4L408.3 193.4L408.4 192.8L408.5 194.3L408.5 195.8L408.5 197.8L408.6 200.3L408.6 203.2L408.7 206.2L408.7 209.1L408.7 211.1L408.8 211.7L408.8 210.6L408.8 208.3L408.9 205.4L408.9 202.4L408.9 199.7L409 197.3L409 195.5L409 194.2L409.1 193.4L409.1 193.1L409.2 194.1L409.2 195.4L409.3 197.1L409.3 199.4L409.3 202.1L409.4 205.1L409.4 208.1L409.4 210.6L409.5 212L409.5 209.9L409.6 207.2L409.6 204.2L409.7 201.3L409.7 198.8L409.7 196.7L409.8 195.1L409.8 194.1L409.9 193.6L409.9 195.1L410 196.6L410 198.6L410 201.1L410.1 204L410.1 207.1L410.1 209.9L410.2 211.9L410.2 212.4L410.2 211.3L410.3 208.9L410.3 206L410.3 203L410.4 200.3L410.4 198L410.5 196.2L410.5 194.9L410.5 194.1L410.6 193.9L410.6 194.9L410.7 196.2L410.7 198L410.7 200.2L410.8 203L410.8 206L410.8 209L410.9 211.4L410.9 212.7L411 210.5L411 207.8L411 204.8L411.1 201.9L411.1 199.4L411.1 197.3L411.2 195.8L411.2 194.8L411.2 194.3L411.3 195.8L411.4 197.4L411.4 199.4L411.4 201.9L411.5 204.8L411.5 207.9L411.5 210.7L411.6 212.6L411.6 213.1L411.6 211.9L411.7 209.5L411.7 206.6L411.7 203.6L411.8 200.9L411.8 198.6L411.8 196.8L411.9 195.5L411.9 194.8L411.9 194.5L412 195.6L412 196.9L412.1 198.7L412.1 201L412.1 203.7L412.2 206.8L412.2 209.7L412.2 212.2L412.3 213.4L412.3 211.1L412.4 208.3L412.4 205.3L412.4 202.4L412.5 200L412.5 197.9L412.5 196.4L412.6 195.4L412.6 194.9L412.7 195.5L412.7 196.5L412.7 198.1L412.8 200.2L412.8 202.7L412.8 205.6L412.9 208.7L412.9 211.4L412.9 213.3L413 213.7L413 212.5L413 210L413.1 207.1L413.1 204.1L413.1 201.4L413.2 199.1L413.2 197.4L413.2 196.1L413.3 195.4L413.3 195.2L413.4 196.3L413.4 197.6L413.4 199.4L413.5 201.7L413.5 204.5L413.5 207.5L413.6 210.5L413.6 212.9L413.6 214L413.7 211.6L413.7 208.8L413.7 205.8L413.8 203L413.8 200.5L413.8 198.5L413.9 197L413.9 196L413.9 195.5L414 196.1L414 197.2L414.1 198.8L414.1 200.9L414.1 203.4L414.2 206.3L414.2 209.4L414.2 212.1L414.3 214L414.3 214.3L414.3 213L414.4 210.5L414.4 207.6L414.4 204.6L414.4 201.9L414.5 199.7L414.5 197.9L414.5 196.7L414.6 196L414.6 195.8L414.7 196.9L414.7 198.2L414.7 200.1L414.8 202.4L414.8 205.2L414.8 208.2L414.9 211.2L414.9 213.5L414.9 214.6L415 212.1L415 209.3L415 206.3L415.1 203.4L415.1 201L415.1 199L415.2 197.5L415.2 196.5L415.2 196.1L415.3 196.7L415.3 197.8L415.4 199.4L415.4 201.5L415.4 204.1L415.4 207L415.5 210.1L415.5 212.8L415.5 214.6L415.6 214.8L415.6 213.5L415.6 211L415.7 208L415.7 205L415.7 202.4L415.7 200.1L415.8 198.4L415.8 197.2L415.8 196.5L415.9 196.3L415.9 197.5L416 198.8L416 200.7L416 203.1L416.1 205.9L416.1 208.9L416.1 211.8L416.1 214.1L416.2 215.2L416.2 214.6L416.2 212.5L416.3 209.7L416.3 206.7L416.3 203.9L416.4 201.4L416.4 199.4L416.4 198L416.4 197L416.5 196.6L416.5 197.3L416.6 198.4L416.6 200L416.6 202.1L416.7 204.7L416.7 207.7L416.7 210.7L416.7 213.4L416.8 215.1L416.8 215.3L416.8 213.9L416.9 211.4L416.9 208.4L416.9 205.4L417 202.8L417 200.6L417 198.9L417 197.7L417.1 197L417.1 196.8L417.2 198L417.2 199.4L417.2 201.3L417.3 203.7L417.3 206.5L417.3 209.5L417.3 212.4L417.4 214.7L417.4 215.7L417.4 215L417.5 212.9L417.5 210.1L417.5 207.1L417.5 204.2L417.6 201.8L417.6 199.9L417.6 198.4L417.7 197.5L417.7 197.1L417.7 197.8L417.8 198.9L417.8 200.6L417.8 202.7L417.9 205.3L417.9 208.3L417.9 211.3L418 214L418 215.6L418 215.8L418 214.3L418.1 211.7L418.1 208.7L418.1 205.8L418.2 203.2L418.2 201L418.2 199.3L418.2 198.1L418.3 197.4L418.3 197.3L418.4 198.6L418.4 200L418.4 201.9L418.4 204.3L418.5 207.1L418.5 210.1L418.5 213L418.6 215.2L418.6 216.1L418.6 215.4L418.6 213.3L418.7 210.4L418.7 207.4L418.7 204.6L418.8 202.2L418.8 200.2L418.8 198.8L418.8 197.9L418.9 197.5L418.9 198.3L419 199.4L419 201.1L419 203.3L419 205.9L419.1 208.8L419.1 211.9L419.1 214.5L419.2 216.1L419.2 216.2L419.2 214.6L419.2 212.1L419.3 209.1L419.3 206.1L419.3 203.5L419.4 201.3L419.4 199.7L419.4 198.5L419.4 197.9L419.5 197.7L419.5 199L419.5 200.5L419.6 202.4L419.6 204.8L419.6 207.6L419.7 210.6L419.7 213.5L419.7 215.7L419.7 216.6L419.8 215.8L419.8 213.6L419.8 210.7L419.9 207.7L419.9 204.9L419.9 202.5L419.9 200.6L420 199.2L420 198.3L420 197.9L420.1 198.7L420.1 199.9L420.1 201.6L420.2 203.8L420.2 206.4L420.2 209.4L420.2 212.4L420.3 215L420.3 216.6L420.4 215L420.4 212.3L420.4 209.3L420.4 206.4L420.5 203.8L420.5 201.6L420.5 200L420.5 198.9L420.6 198.2L420.6 198.1L420.7 199.5L420.7 200.9L420.7 202.9L420.7 205.3L420.8 208.1L420.8 211.2L420.8 214L420.8 216.2L420.9 217L420.9 216.1L420.9 213.9L421 211L421 208L421 205.2L421 202.8L421.1 200.9L421.1 199.5L421.1 198.7L421.1 198.3L421.2 199.2L421.2 200.3L421.2 202L421.3 204.3L421.3 206.9L421.3 209.9L421.4 212.9L421.4 215.5L421.4 217L421.5 215.2L421.5 212.6L421.5 209.6L421.5 206.7L421.6 204.1L421.6 201.9L421.6 200.3L421.6 199.2L421.7 198.6L421.7 198.5L421.8 199.9L421.8 201.3L421.8 203.3L421.8 205.8L421.9 208.6L421.9 211.6L421.9 214.5L421.9 216.6L422 217.3L422 216.4L422 214.1L422 211.2L422.1 208.2L422.1 205.4L422.1 203.1L422.2 201.2L422.2 199.8L422.2 199L422.2 198.7L422.3 199.5L422.3 200.7L422.3 202.5L422.4 204.7L422.4 207.4L422.4 210.3L422.4 213.3L422.5 215.9L422.5 217.3L422.5 215.5L422.6 212.8L422.6 209.8L422.6 206.9L422.6 204.3L422.7 202.2L422.7 200.6L422.7 199.5L422.8 198.9L422.8 198.8L422.8 200.3L422.9 201.7L422.9 203.7L422.9 206.2L422.9 209L423 212.1L423 214.9L423 217L423 217.6L423.1 216.6L423.1 214.3L423.1 211.4L423.1 208.4L423.2 205.6L423.2 203.3L423.2 201.4L423.2 200.1L423.3 199.3L423.3 199L423.3 199.9L423.4 201.1L423.4 202.9L423.4 205.1L423.4 207.8L423.5 210.8L423.5 213.8L423.5 216.3L423.6 217.7L423.6 215.7L423.6 213L423.7 210L423.7 207.1L423.7 204.5L423.7 202.4L423.8 200.8L423.8 199.7L423.8 199.1L423.9 200.6L423.9 202.1L423.9 204.1L424 206.6L424 209.4L424 212.5L424 215.3L424.1 217.3L424.1 217.9L424.1 216.8L424.1 214.5L424.2 211.6L424.2 208.6L424.2 205.8L424.2 203.5L424.3 201.7L424.3 200.3L424.3 199.5L424.3 199.2L424.4 200.2L424.4 201.4L424.4 203.2L424.5 205.5L424.5 208.2L424.5 211.2L424.5 214.1L424.6 216.6L424.6 218L424.6 215.9L424.7 213.1L424.7 210.1L424.7 207.2L424.7 204.7L424.8 202.6L424.8 201L424.8 200L424.9 199.4L424.9 200.9L424.9 202.4L425 204.5L425 206.9L425 209.8L425 212.9L425.1 215.7L425.1 217.6L425.1 218.1L425.1 217L425.1 214.6L425.2 211.7L425.2 208.7L425.2 206L425.2 203.7L425.3 201.8L425.3 200.5L425.3 199.8L425.3 199.5L425.4 200.5L425.4 201.7L425.4 203.5L425.5 205.8L425.5 208.5L425.5 211.5L425.5 214.5L425.6 216.9L425.6 218.2L425.6 216L425.7 213.3L425.7 210.2L425.7 207.3L425.7 204.8L425.8 202.8L425.8 201.2L425.8 200.2L425.9 199.6L425.9 201.2L425.9 202.7L426 204.8L426 207.3L426 210.2L426 213.2L426 216L426.1 217.9L426.1 218.3L426.1 217.2L426.1 214.7L426.2 211.8L426.2 208.8L426.2 206.1L426.2 203.8L426.3 202L426.3 200.7L426.3 199.9L426.3 199.7L426.4 200.7L426.4 202L426.4 203.8L426.5 206.1L426.5 208.8L426.5 211.8L426.5 214.8L426.5 217.2L426.6 218.4L426.6 216.1L426.6 213.3L426.7 210.3L426.7 207.4L426.7 204.9L426.7 202.9L426.8 201.4L426.8 200.3L426.8 199.8L426.9 201.4L426.9 203L426.9 205.1L427 207.6L427 210.5L427 213.5L427 216.3L427 218.1L427.1 218.5L427.1 217.3L427.1 214.8L427.1 211.8L427.2 208.9L427.2 206.2L427.2 203.9L427.2 202.1L427.3 200.8L427.3 200.1L427.3 199.9L427.3 200.9L427.4 202.3L427.4 204.1L427.4 206.4L427.4 209.1L427.5 212.1L427.5 215.1L427.5 217.5L427.5 218.6L427.6 216.2L427.6 213.4L427.6 210.4L427.7 207.5L427.7 205L427.7 203L427.7 201.5L427.7 200.5L427.8 200L427.8 200.6L427.8 201.6L427.9 203.2L427.9 205.3L427.9 207.8L427.9 210.8L428 213.8L428 216.5L428 218.3L428 218.6L428 217.3L428.1 214.9L428.1 211.9L428.1 208.9L428.1 206.2L428.2 204L428.2 202.2L428.2 201L428.2 200.2L428.2 200L428.3 201.1L428.3 202.5L428.3 204.3L428.4 206.6L428.4 209.4L428.4 212.4L428.4 215.4L428.5 217.7L428.5 218.8L428.5 216.2L428.5 213.4L428.6 210.4L428.6 207.5L428.6 205L428.6 203L428.7 201.6L428.7 200.6L428.7 200.1L428.7 200.7L428.8 201.8L428.8 203.4L428.8 205.5L428.8 208.1L428.9 211L428.9 214L428.9 216.7L428.9 218.5L428.9 218.7L429 217.4L429 214.9L429 211.9L429 208.9L429.1 206.2L429.1 204L429.1 202.3L429.1 201L429.2 200.3L429.2 200.1L429.2 201.3L429.2 202.6L429.3 204.5L429.3 206.9L429.3 209.6L429.3 212.6L429.4 215.6L429.4 217.9L429.4 218.9L429.4 218.3L429.4 216.2L429.5 213.4L429.5 210.4L429.5 207.5L429.5 205.1L429.6 203.1L429.6 201.6L429.6 200.7L429.6 200.2L429.7 200.9L429.7 202L429.7 203.6L429.7 205.7L429.8 208.3L429.8 211.2L429.8 214.3L429.8 216.9L429.8 218.6L429.9 218.8L429.9 217.4L429.9 214.8L429.9 211.8L429.9 208.9L430 206.2L430 204L430 202.3L430 201.1L430.1 200.4L430.1 200.2L430.1 201.4L430.1 202.8L430.2 204.7L430.2 207L430.2 209.8L430.2 212.8L430.3 215.8L430.3 218L430.3 219L430.3 218.3L430.3 216.2L430.4 213.3L430.4 210.3L430.4 207.5L430.4 205L430.4 203.1L430.5 201.6L430.5 200.7L430.5 200.3L430.6 201L430.6 202.1L430.6 203.7L430.6 205.9L430.6 208.5L430.7 211.4L430.7 214.4L430.7 217.1L430.7 218.7L430.8 218.8L430.8 217.4L430.8 214.8L430.8 211.8L430.8 208.8L430.9 206.2L430.9 204L430.9 202.3L430.9 201.1L430.9 200.4L431 200.3L431 201.5L431 202.9L431.1 204.8L431.1 207.2L431.1 210L431.1 213L431.1 215.9L431.2 218.1L431.2 219L431.2 218.3L431.2 216.1L431.2 213.3L431.3 210.2L431.3 207.4L431.3 205L431.3 203.1L431.3 201.6L431.4 200.7L431.4 200.3L431.4 201L431.5 202.2L431.5 203.9L431.5 206L431.5 208.6L431.5 211.6L431.6 214.6L431.6 217.2L431.6 218.8L431.6 218.8L431.6 217.3L431.7 214.7L431.7 211.7L431.7 208.7L431.7 206.1L431.8 203.9L431.8 202.3L431.8 201.1L431.8 200.4L431.8 200.3L431.9 201.6L431.9 203L431.9 204.9L431.9 207.3L432 210.1L432 213.2L432 216L432 218.2L432 219L432.1 218.2" fill="none" stroke="#000" stroke-width="2.9" stroke-linejoin="round"/>
<path d="M432.1 233.9L432.1 227.4L432.1 220.8L432.1 215.1L432.1 210.5L432.2 206.9L432.2 204.2L432.2 202.3L432.2 201.2L432.3 200.7L432.3 201.7L432.3 203.2L432.3 205.5L432.4 208.7L432.4 212.7L432.4 217.9L432.4 224.1L432.4 231L432.5 236.2L432.5 230.7L432.5 223.9L432.5 217.7L432.6 212.6L432.6 208.5L432.6 205.4L432.6 203.1L432.6 201.6L432.7 200.8L432.7 200.7L432.7 202.4L432.7 204.3L432.8 207L432.8 210.6L432.8 215.3L432.8 221L432.9 227.7L432.9 234.1L432.9 237L432.9 233.7L432.9 227.1L433 220.5L433 214.9L433 210.3L433 206.8L433 204.1L433.1 202.2L433.1 201.1L433.1 200.6L433.1 201.7L433.2 203.3L433.2 205.6L433.2 208.8L433.2 212.9L433.2 218.1L433.3 224.4L433.3 231.2L433.3 236.3L433.3 230.4L433.4 223.6L433.4 217.4L433.4 212.3L433.4 208.3L433.4 205.3L433.5 203L433.5 201.5L433.5 200.7L433.5 200.6L433.6 202.4L433.6 204.4L433.6 207.1L433.6 210.8L433.6 215.4L433.7 221.2L433.7 227.9L433.7 234.3L433.7 236.9L433.7 233.4L433.8 226.8L433.8 220.2L433.8 214.6L433.8 210.1L433.8 206.6L433.9 204L433.9 202.1L433.9 201L433.9 200.6L434 201.7L434 203.3L434 205.7L434 208.9L434 213L434.1 218.3L434.1 224.6L434.1 231.4L434.1 236.4L434.1 235.7L434.2 230.1L434.2 223.2L434.2 217.1L434.2 212.1L434.2 208.1L434.3 205.1L434.3 202.9L434.3 201.4L434.3 200.7L434.3 200.6L434.4 202.4L434.4 204.4L434.4 207.2L434.4 210.9L434.5 215.6L434.5 221.4L434.5 228.1L434.5 234.4L434.5 236.8L434.6 233.1L434.6 226.5L434.6 219.9L434.6 214.3L434.6 209.9L434.7 206.4L434.7 203.8L434.7 202L434.7 200.9L434.7 200.5L434.8 201.7L434.8 203.3L434.8 205.7L434.8 208.9L434.9 213.1L434.9 218.4L434.9 224.8L434.9 231.6L434.9 236.4L434.9 235.5L435 229.7L435 222.9L435 216.8L435 211.8L435 207.9L435.1 204.9L435.1 202.7L435.1 201.3L435.1 200.5L435.1 200.5L435.2 201.1L435.2 202.4L435.2 204.4L435.2 207.2L435.2 210.9L435.3 215.7L435.3 221.5L435.3 228.3L435.3 234.5L435.3 236.7L435.4 232.8L435.4 226.1L435.4 219.5L435.4 214L435.4 209.6L435.5 206.2L435.5 203.6L435.5 201.8L435.5 200.8L435.5 200.4L435.6 201.6L435.6 203.2L435.6 205.7L435.6 208.9L435.6 213.2L435.7 218.5L435.7 224.9L435.7 231.7L435.7 236.3L435.7 235.2L435.8 229.3L435.8 222.5L435.8 216.5L435.8 211.5L435.8 207.6L435.9 204.7L435.9 202.5L435.9 201.1L435.9 200.4L435.9 200.4L436 201L436 202.3L436 204.3L436 207.2L436 211L436 215.8L436.1 221.7L436.1 228.4L436.1 234.6L436.1 236.5L436.1 232.4L436.2 225.7L436.2 219.1L436.2 213.7L436.2 209.3L436.2 205.9L436.3 203.4L436.3 201.6L436.3 200.6L436.3 200.2L436.4 201.5L436.4 203.2L436.4 205.6L436.4 208.9L436.4 213.2L436.4 218.6L436.5 225.1L436.5 231.8L436.5 236.3L436.5 234.9L436.5 228.9L436.6 222.1L436.6 216.1L436.6 211.2L436.6 207.3L436.6 204.4L436.7 202.3L436.7 200.9L436.7 200.2L436.7 200.2L436.7 200.9L436.7 202.2L436.8 204.3L436.8 207.2L436.8 211L436.8 215.8L436.8 221.8L436.9 228.5L436.9 234.6L436.9 236.3L436.9 232L436.9 225.2L437 218.7L437 213.3L437 209L437 205.6L437 203.1L437 201.4L437.1 200.4L437.1 200L437.1 201.4L437.1 203.1L437.2 205.6L437.2 208.9L437.2 213.2L437.2 218.7L437.2 225.1L437.2 231.9L437.3 236.2L437.3 234.5L437.3 228.4L437.3 221.6L437.3 215.7L437.4 210.8L437.4 207L437.4 204.1L437.4 202L437.4 200.7L437.4 200L437.5 200.7L437.5 202.1L437.5 204.2L437.5 207.1L437.6 210.9L437.6 215.8L437.6 221.8L437.6 228.6L437.6 234.6L437.7 236L437.7 231.5L437.7 224.7L437.7 218.3L437.7 212.9L437.7 208.6L437.8 205.3L437.8 202.8L437.8 201.1L437.8 200.1L437.8 199.8L437.9 201.2L437.9 203L437.9 205.5L437.9 208.9L437.9 213.2L438 218.7L438 225.2L438 231.9L438 236L438 234.1L438.1 227.9L438.1 221.1L438.1 215.2L438.1 210.4L438.1 206.6L438.1 203.8L438.2 201.7L438.2 200.4L438.2 199.8L438.2 200.5L438.3 201.9L438.3 204L438.3 207L438.3 210.9L438.3 215.8L438.3 221.8L438.4 228.7L438.4 234.5L438.4 235.7L438.4 231L438.4 224.2L438.5 217.8L438.5 212.5L438.5 208.2L438.5 204.9L438.5 202.5L438.5 200.8L438.6 199.9L438.6 199.6L438.6 201L438.6 202.8L438.6 205.3L438.7 208.8L438.7 213.2L438.7 218.7L438.7 225.2L438.7 231.9L438.8 235.8L438.8 233.6L438.8 227.4L438.8 220.6L438.8 214.8L438.8 210L438.9 206.3L438.9 203.4L438.9 201.4L438.9 200.1L438.9 199.5L439 200.3L439 201.7L439 203.9L439 206.9L439 210.8L439.1 215.8L439.1 221.8L439.1 228.7L439.1 234.4L439.1 235.3L439.1 230.5L439.2 223.7L439.2 217.3L439.2 212L439.2 207.8L439.2 204.5L439.3 202.1L439.3 200.5L439.3 199.6L439.3 199.3L439.3 200.8L439.4 202.6L439.4 205.2L439.4 208.6L439.4 213.1L439.4 218.6L439.4 225.2L439.5 231.9L439.5 235.5L439.5 233.2L439.5 226.8L439.5 220.1L439.6 214.3L439.6 209.5L439.6 205.8L439.6 203L439.6 201L439.6 199.8L439.7 199.2L439.7 200L439.7 201.5L439.7 203.7L439.7 206.7L439.8 210.7L439.8 215.7L439.8 221.8L439.8 228.6L439.8 234.3L439.8 234.9L439.9 229.9L439.9 223.1L439.9 216.8L439.9 211.5L439.9 207.3L440 204.1L440 201.8L440 200.1L440 199.2L440 199L440.1 200.5L440.1 202.4L440.1 205L440.1 208.5L440.1 213L440.1 218.6L440.2 225.2L440.2 231.8L440.2 235.3L440.2 232.6L440.2 226.2L440.2 219.5L440.3 213.7L440.3 209L440.3 205.4L440.3 202.6L440.3 200.7L440.3 199.4L440.4 198.9L440.4 199.8L440.4 201.2L440.4 203.5L440.5 206.5L440.5 210.5L440.5 215.6L440.5 221.7L440.5 228.6L440.5 234.1L440.6 234.5L440.6 229.3L440.6 222.5L440.6 216.2L440.6 211L440.6 206.9L440.7 203.7L440.7 201.3L440.7 199.7L440.7 198.9L440.7 198.7L440.8 200.3L440.8 202.1L440.8 204.8L440.8 208.3L440.8 212.8L440.8 218.5L440.9 225.1L440.9 231.7L440.9 234.9L440.9 232.1L440.9 225.6L440.9 218.9L441 213.2L441 208.5L441 204.9L441 202.2L441 200.2L441 199L441.1 198.5L441.1 199.4L441.1 200.9L441.1 203.2L441.1 206.3L441.2 210.3L441.2 215.4L441.2 221.6L441.2 228.5L441.2 233.8L441.2 234L441.3 228.7L441.3 221.8L441.3 215.6L441.3 210.4L441.3 206.3L441.4 203.2L441.4 200.9L441.4 199.3L441.4 198.5L441.4 198.3L441.5 199.9L441.5 201.8L441.5 204.5L441.5 208.1L441.5 212.6L441.5 218.3L441.6 225L441.6 231.5L441.6 234.5L441.6 231.5L441.6 224.9L441.6 218.3L441.7 212.6L441.7 208L441.7 204.4L441.7 201.7L441.7 199.8L441.7 198.6L441.8 198.1L441.8 199.1L441.8 200.6L441.8 202.9L441.8 206L441.9 210.1L441.9 215.3L441.9 221.5L441.9 228.3L441.9 233.6L442 228L442 221.2L442 215L442 209.8L442 205.8L442 202.7L442.1 200.4L442.1 198.9L442.1 198L442.1 197.9L442.1 199.6L442.1 201.5L442.2 204.2L442.2 207.8L442.2 212.4L442.2 218.2L442.2 224.8L442.2 231.3L442.3 234.1L442.3 230.8L442.3 224.2L442.3 217.6L442.3 211.9L442.3 207.4L442.4 203.8L442.4 201.2L442.4 199.3L442.4 198.1L442.4 197.6L442.5 198.7L442.5 200.3L442.5 202.6L442.5 205.7L442.5 209.9L442.5 215L442.6 221.3L442.6 228.2L442.6 233.2L442.6 227.3L442.6 220.5L442.7 214.3L442.7 209.2L442.7 205.2L442.7 202.1L442.7 199.9L442.7 198.4L442.8 197.6L442.8 197.4L442.8 199.2L442.8 201.1L442.8 203.9L442.9 207.5L442.9 212.2L442.9 218L442.9 224.7L442.9 231L442.9 233.6L442.9 230.1L443 223.5L443 216.9L443 211.3L443 206.7L443 203.2L443 200.6L443.1 198.8L443.1 197.6L443.1 197.2L443.1 198.3L443.1 199.9L443.2 202.2L443.2 205.4L443.2 209.6L443.2 214.8L443.2 221.1L443.2 227.9L443.3 232.9L443.3 232.2L443.3 226.6L443.3 219.7L443.3 213.6L443.3 208.5L443.4 204.6L443.4 201.5L443.4 199.3L443.4 197.8L443.4 197.1L443.4 197L443.5 198.8L443.5 200.7L443.5 203.5L443.5 207.2L443.5 211.9L443.5 217.7L443.6 224.4L443.6 230.7L443.6 233.1L443.6 229.4L443.6 222.7L443.6 216.1L443.7 210.6L443.7 206.1L443.7 202.6L443.7 200L443.7 198.2L443.7 197.1L443.8 196.7L443.8 197.8L443.8 199.4L443.8 201.8L443.8 205L443.8 209.2L443.9 214.5L443.9 220.9L443.9 227.7L443.9 232.5L443.9 231.5L443.9 225.8L444 218.9L444 212.8L444 207.8L444 203.9L444 200.9L444 198.7L444.1 197.3L444.1 196.5L444.1 196.4L444.1 197L444.1 198.3L444.1 200.3L444.1 203.1L444.2 206.8L444.2 211.6L444.2 217.4L444.2 224.2L444.2 230.4L444.2 232.5L444.3 228.6L444.3 221.9L444.3 215.3L444.3 209.8L444.3 205.4L444.3 201.9L444.3 199.4L444.4 197.6L444.4 196.5L444.4 196.1L444.4 197.3L444.4 199L444.5 201.4L444.5 204.6L444.5 208.9L444.5 214.2L444.5 220.6L444.5 227.4L444.6 232L444.6 230.8L444.6 224.9L444.6 218.1L444.6 212L444.6 207.1L444.6 203.2L444.7 200.2L444.7 198.1L444.7 196.6L444.7 195.9L444.7 195.9L444.7 196.5L444.8 197.8L444.8 199.8L444.8 202.7L444.8 206.4L444.8 211.2L444.8 217.1L444.8 223.9L444.9 230L444.9 231.9L444.9 227.8L444.9 221L444.9 214.5L444.9 209L445 204.6L445 201.2L445 198.7L445 196.9L445 195.9L445 195.5L445.1 196.8L445.1 198.4L445.1 200.9L445.1 204.2L445.1 208.5L445.1 213.8L445.2 220.3L445.2 227L445.2 231.5L445.2 230L445.2 224.1L445.2 217.2L445.2 211.2L445.3 206.3L445.3 202.4L445.3 199.5L445.3 197.4L445.3 196L445.3 195.3L445.4 195.3L445.4 195.9L445.4 197.2L445.4 199.3L445.4 202.2L445.4 206L445.4 210.8L445.5 216.8L445.5 223.5L445.5 229.6L445.5 231.2L445.5 226.9L445.5 220.1L445.6 213.6L445.6 208.2L445.6 203.9L445.6 200.5L445.6 198L445.6 196.3L445.6 195.2L445.7 194.9L445.7 196.2L445.7 197.9L445.7 200.4L445.7 203.7L445.8 208L445.8 213.4L445.8 219.9L445.8 226.6L445.8 230.9L445.8 229.2L445.8 223.1L445.9 216.3L445.9 210.3L445.9 205.5L445.9 201.7L445.9 198.8L445.9 196.7L445.9 195.3L446 194.6L446 194.6L446 195.3L446 196.7L446 198.7L446 201.7L446.1 205.5L446.1 210.4L446.1 216.3L446.1 223.1L446.1 229.1L446.1 230.5L446.1 226L446.2 219.2L446.2 212.7L446.2 207.3L446.2 203L446.2 199.7L446.2 197.2L446.2 195.5L446.3 194.5L446.3 194.2L446.3 195.6L446.3 197.3L446.3 199.8L446.4 203.2L446.4 207.5L446.4 213L446.4 219.5L446.4 226.2L446.4 230.3L446.4 228.3L446.5 222.2L446.5 215.4L446.5 209.4L446.5 204.6L446.5 200.8L446.5 198L446.5 195.9L446.6 194.6L446.6 193.9L446.6 194.6L446.6 196L446.6 198.1L446.7 201.1L446.7 205L446.7 209.9L446.7 215.9L446.7 222.7L446.7 228.5L446.7 229.7L446.8 225L446.8 218.2L446.8 211.8L446.8 206.4L446.8 202.2L446.8 198.9L446.8 196.4L446.9 194.7L446.9 193.8L446.9 193.5L446.9 194.9L446.9 196.7L446.9 199.2L447 202.6L447 207L447 212.5L447 219L447 225.7L447 229.6L447 227.4L447.1 221.1L447.1 214.4L447.1 208.5L447.1 203.7L447.1 200L447.1 197.1L447.2 195.1L447.2 193.8L447.2 193.2L447.2 193.9L447.2 195.3L447.2 197.5L447.3 200.5L447.3 204.4L447.3 209.3L447.3 215.4L447.3 222.2L447.3 228L447.3 228.8L447.4 224L447.4 217.2L447.4 210.8L447.4 205.5L447.4 201.2L447.4 198L447.4 195.6L447.5 193.9L447.5 193L447.5 192.7L447.5 194.2L447.5 196L447.5 198.5L447.6 202L447.6 206.4L447.6 212L447.6 218.5L447.6 225.2L447.6 228.8L447.6 226.4L447.7 220.1L447.7 213.3L447.7 207.5L447.7 202.7L447.7 199L447.7 196.2L447.7 194.2L447.8 192.9L447.8 192.3L447.8 193.2L447.8 194.6L447.8 196.8L447.9 199.8L447.9 203.7L447.9 208.8L447.9 214.9L447.9 221.7L447.9 227.3L447.9 227.9L448 222.9L448 216.1L448 209.7L448 204.5L448 200.3L448 197.1L448 194.7L448.1 193L448.1 192.1L448.1 191.9L448.1 193.4L448.1 195.2L448.1 197.8L448.2 201.3L448.2 205.8L448.2 211.4L448.2 218L448.2 224.5L448.2 228L448.2 225.4L448.3 219L448.3 212.2L448.3 206.4L448.3 201.7L448.3 198.1L448.3 195.3L448.3 193.3L448.4 192.1L448.4 191.5L448.4 192.4L448.4 193.8L448.4 196L448.4 199.1L448.5 203.1L448.5 208.1L448.5 214.3L448.5 221.1L448.5 226.6L448.5 226.9L448.5 221.8L448.6 214.9L448.6 208.6L448.6 203.4L448.6 199.3L448.6 196.1L448.6 193.7L448.6 192.1L448.7 191.2L448.7 191L448.7 192.6L448.7 194.4L448.7 197.1L448.7 200.6L448.7 205.1L448.8 210.7L448.8 217.3L448.8 223.9L448.8 227.1L448.8 224.3L448.8 217.8L448.8 211.1L448.9 205.3L448.9 200.7L448.9 197L448.9 194.3L448.9 192.3L448.9 191.1L448.9 190.6L449 191.5L449 193L449 195.2L449 198.3L449 202.3L449 207.4L449.1 213.6L449.1 220.4L449.1 225.8L449.1 225.9L449.1 220.6L449.1 213.7L449.1 207.5L449.2 202.3L449.2 198.2L449.2 195L449.2 192.7L449.2 191.1L449.2 190.3L449.2 190.1L449.3 191.7L449.3 193.6L449.3 196.2L449.3 199.8L449.3 204.4L449.3 210L449.4 216.7L449.4 223.2L449.4 226.2L449.4 223.1L449.4 216.6L449.4 209.9L449.4 204.2L449.5 199.5L449.5 195.9L449.5 193.2L449.5 191.3L449.5 190.1L449.5 189.6L449.5 190.6L449.6 192.1L449.6 194.4L449.6 197.5L449.6 201.5L449.6 206.7L449.6 212.9L449.6 219.7L449.7 224.9L449.7 219.4L449.7 212.5L449.7 206.3L449.7 201.1L449.7 197.1L449.8 193.9L449.8 191.6L449.8 190.1L449.8 189.3L449.8 189.1L449.8 190.8L449.9 192.7L449.9 195.4L449.9 199L449.9 203.6L449.9 209.3L449.9 215.9L449.9 222.4L449.9 225.2L450 221.9L450 215.3L450 208.6L450 202.9L450 198.4L450 194.8L450 192.1L450.1 190.2L450.1 189.1L450.1 188.6L450.1 189.6L450.1 191.1L450.1 193.4L450.2 196.6L450.2 200.7L450.2 205.9L450.2 212.1L450.2 218.9L450.2 224L450.2 218L450.3 211.2L450.3 205L450.3 199.9L450.3 195.9L450.3 192.8L450.3 190.5L450.3 189L450.4 188.2L450.4 188L450.4 189.8L450.4 191.7L450.4 194.4L450.4 198.1L450.5 202.7L450.5 208.5L450.5 215.1L450.5 221.5L450.5 224.1L450.5 220.5L450.5 213.9L450.5 207.3L450.6 201.6L450.6 197.1L450.6 193.6L450.6 190.9L450.6 189.1L450.6 187.9L450.6 187.5L450.7 188.5L450.7 190.1L450.7 192.4L450.7 195.6L450.7 199.8L450.7 205L450.8 211.3L450.8 218.1L450.8 223L450.8 222.3L450.8 216.7L450.8 209.8L450.8 203.6L450.8 198.6L450.9 194.6L450.9 191.5L450.9 189.3L450.9 187.8L450.9 187L450.9 186.9L451 188.7L451 190.7L451 193.4L451 197.1L451 201.8L451 207.6L451 214.3L451 220.6L451.1 222.9L451.1 219.2L451.1 212.5L451.1 205.9L451.1 200.3L451.1 195.8L451.1 192.3L451.2 189.7L451.2 187.9L451.2 186.7L451.2 186.3L451.2 187.4L451.2 189L451.2 191.4L451.3 194.6L451.3 198.8L451.3 204L451.3 210.4L451.3 217.2L451.3 221.9L451.3 221L451.4 215.2L451.4 208.3L451.4 202.2L451.4 197.2L451.4 193.3L451.4 190.2L451.4 188L451.4 186.6L451.5 185.8L451.5 185.7L451.5 187.5L451.5 189.5L451.5 192.3L451.5 196L451.6 200.8L451.6 206.6L451.6 213.3L451.6 219.5L451.6 221.6L451.6 217.7L451.6 211L451.6 204.4L451.7 198.8L451.7 194.4L451.7 190.9L451.7 188.4L451.7 186.6L451.7 185.5L451.7 185L451.8 186.2L451.8 187.8L451.8 190.2L451.8 193.5L451.8 197.7L451.8 203L451.8 209.4L451.9 216.2L451.9 220.7L451.9 219.6L451.9 213.7L451.9 206.8L451.9 200.7L451.9 195.8L451.9 191.8L452 188.9L452 186.7L452 185.2L452 184.5L452 184.4L452 185L452 186.3L452.1 188.3L452.1 191.2L452.1 194.9L452.1 199.7L452.1 205.6L452.1 212.3L452.1 218.4L452.1 220.3L452.2 216.1L452.2 209.4L452.2 202.8L452.2 197.3L452.2 192.9L452.2 189.5L452.2 187L452.2 185.2L452.3 184.1L452.3 183.7L452.3 184.9L452.3 186.6L452.3 189L452.3 192.3L452.4 196.6L452.4 201.9L452.4 208.3L452.4 215.1L452.4 219.5L452.4 218L452.4 212L452.4 205.2L452.5 199.1L452.5 194.2L452.5 190.3L452.5 187.4L452.5 185.2L452.5 183.8L452.5 183.1L452.5 183.1L452.6 183.7L452.6 185L452.6 187.1L452.6 189.9L452.6 193.7L452.6 198.5L452.6 204.4L452.6 211.2L452.7 217.2L452.7 218.8L452.7 214.5L452.7 207.7L452.7 201.2L452.7 195.7L452.7 191.4L452.8 188L452.8 185.5L452.8 183.7L452.8 182.7L452.8 182.3L452.8 183.6L452.8 185.3L452.9 187.7L452.9 191L452.9 195.3L452.9 200.7L452.9 207.2L452.9 213.9L452.9 218.1L452.9 216.4L453 210.3L453 203.5L453 197.5L453 192.6L453 188.8L453 185.8L453 183.7L453 182.3L453.1 181.6L453.1 181.6L453.1 182.3L453.1 183.6L453.1 185.7L453.1 188.6L453.1 192.4L453.1 197.2L453.2 203.2L453.2 210L453.2 215.9L453.2 217.2L453.2 212.7L453.2 205.9L453.2 199.4L453.3 194L453.3 189.7L453.3 186.4L453.3 183.9L453.3 182.1L453.3 181.1L453.3 180.8L453.4 182.1L453.4 183.8L453.4 186.3L453.4 189.6L453.4 194L453.4 199.4L453.4 205.9L453.4 212.6L453.5 216.6L453.5 214.7L453.5 208.5L453.5 201.6L453.5 195.7L453.5 190.9L453.5 187.1L453.5 184.2L453.6 182.1L453.6 180.7L453.6 180.1L453.6 180.7L453.6 182.1L453.6 184.2L453.6 187.1L453.7 191L453.7 195.9L453.7 201.9L453.7 208.7L453.7 214.5L453.7 215.6L453.7 210.9L453.7 204L453.8 197.6L453.8 192.2L453.8 187.9L453.8 184.6L453.8 182.2L453.8 180.5L453.8 179.5L453.8 179.1L453.9 180.5L453.9 182.3L453.9 184.8L453.9 188.2L453.9 192.5L453.9 198L453.9 204.5L454 211.2L454 215L454 212.8L454 206.5L454 199.7L454 193.8L454 189L454 185.2L454.1 182.4L454.1 180.3L454.1 179L454.1 178.4L454.1 179.1L454.1 180.5L454.1 182.6L454.2 185.5L454.2 189.4L454.2 194.4L454.2 200.4L454.2 207.2L454.2 212.9L454.2 213.7L454.2 208.9L454.3 202L454.3 195.6L454.3 190.3L454.3 186L454.3 182.8L454.3 180.3L454.3 178.7L454.3 177.7L454.4 177.4L454.4 178.8L454.4 180.6L454.4 183.1L454.4 186.5L454.4 191L454.4 196.5L454.5 203L454.5 209.6L454.5 213.3L454.5 210.8L454.5 204.5L454.5 197.7L454.5 191.8L454.5 187L454.6 183.3L454.6 180.5L454.6 178.4L454.6 177.1L454.6 176.5L454.6 177.3L454.6 178.7L454.7 180.9L454.7 183.9L454.7 187.8L454.7 192.8L454.7 198.8L454.7 205.6L454.7 211.2L454.7 211.8L454.7 206.8L454.8 199.9L454.8 193.5L454.8 188.2L454.8 184L454.8 180.8L454.8 178.4L454.8 176.7L454.8 175.8L454.9 175.5L454.9 177L454.9 178.8L454.9 181.3L454.9 184.8L454.9 189.3L454.9 194.8L455 201.4L455 207.9L455 211.4L455 208.7L455 202.2L455 195.5L455 189.6L455 184.9L455.1 181.2L455.1 178.4L455.1 176.4L455.1 175.1L455.1 174.6L455.1 175.4L455.1 176.8L455.2 179L455.2 182L455.2 186L455.2 191L455.2 197.1L455.2 203.9L455.2 209.4L455.2 209.7L455.2 204.5L455.3 197.6L455.3 191.3L455.3 186L455.3 181.9L455.3 178.6L455.3 176.3L455.3 174.6L455.3 173.7L455.4 173.5L455.4 175L455.4 176.8L455.4 179.4L455.4 182.9L455.4 187.4L455.4 193L455.5 199.6L455.5 206.1L455.5 209.3L455.5 206.4L455.5 199.9L455.5 193.1L455.5 187.3L455.5 182.7L455.6 179L455.6 176.2L455.6 174.2L455.6 173L455.6 172.4L455.6 173.3L455.6 174.7L455.6 177L455.7 180L455.7 184L455.7 189.1L455.7 195.2L455.7 202L455.7 207.3L455.7 207.4L455.7 202.1L455.8 195.2L455.8 188.9L455.8 183.6L455.8 179.5L455.8 176.3L455.8 174L455.8 172.4L455.8 171.5L455.9 171.2L455.9 172.8L455.9 174.7L455.9 177.3L455.9 180.8L455.9 185.3L455.9 191L455.9 197.6L456 204L456 207L456 203.9L456 197.3L456 190.6L456 184.8L456 180.2L456 176.6L456.1 173.8L456.1 171.9L456.1 170.6L456.1 170.1L456.1 171L456.1 172.5L456.1 174.7L456.2 177.8L456.2 181.8L456.2 186.9L456.2 193.1L456.2 199.9L456.2 205.1L456.2 199.4L456.2 192.5L456.3 186.2L456.3 181.1L456.3 177L456.3 173.8L456.3 171.5L456.3 169.9L456.3 169L456.3 168.8L456.4 170.4L456.4 172.3L456.4 175L456.4 178.5L456.4 183.1L456.4 188.8L456.4 195.4L456.4 201.8L456.5 204.5L456.5 201.2L456.5 194.5L456.5 187.8L456.5 182.1L456.5 177.5L456.5 173.9L456.5 171.2L456.6 169.3L456.6 168.1L456.6 167.5L456.6 168.5L456.6 170L456.6 172.3L456.6 175.4L456.6 179.4L456.7 184.6L456.7 190.8L456.7 197.6L456.7 202.6L456.7 196.5L456.7 189.6L456.7 183.4L456.8 178.3L456.8 174.2L456.8 171.1L456.8 168.8L456.8 167.2L456.8 166.4L456.8 166.2L456.8 167.8L456.9 169.7L456.9 172.4L456.9 176L456.9 180.6L456.9 186.3L456.9 193L456.9 199.3L456.9 201.8L457 198.2L457 191.5L457 184.8L457 179.2L457 174.6L457 171L457 168.3L457 166.4L457 165.3L457.1 164.7L457.1 165.7L457.1 167.3L457.1 169.6L457.1 172.7L457.1 176.8L457.1 182L457.1 188.2L457.2 195L457.2 199.8L457.2 199.1L457.2 193.4L457.2 186.5L457.2 180.3L457.2 175.2L457.2 171.1L457.3 168L457.3 165.8L457.3 164.2L457.3 163.4L457.3 163.2L457.3 164.9L457.3 166.8L457.3 169.6L457.4 173.2L457.4 177.8L457.4 183.6L457.4 190.2L457.4 196.5L457.4 198.7L457.4 194.9L457.4 188.2L457.4 181.5L457.5 175.9L457.5 171.4L457.5 167.8L457.5 165.2L457.5 163.3L457.5 162.1L457.5 161.6L457.6 162.7L457.6 164.2L457.6 166.5L457.6 169.7L457.6 173.8L457.6 179L457.6 185.3L457.6 192.1L457.6 196.8L457.7 195.7L457.7 189.9L457.7 183L457.7 176.8L457.7 171.8L457.7 167.8L457.7 164.7L457.7 162.4L457.7 160.9L457.8 160.1L457.8 160L457.8 161.7L457.8 163.6L457.8 166.4L457.8 170L457.8 174.7L457.9 180.5L457.9 187.2L457.9 193.3L457.9 195.3L457.9 191.3L457.9 184.5L457.9 177.9L457.9 172.3L457.9 167.8L458 164.3L458 161.6L458 159.8L458 158.6L458 158.1L458 159.2L458 160.8L458 163.1L458.1 166.3L458.1 170.5L458.1 175.7L458.1 182L458.1 188.8L458.1 193.3L458.1 192L458.1 186L458.1 179.1L458.2 173L458.2 167.9L458.2 164L458.2 160.9L458.2 158.7L458.2 157.2L458.2 156.4L458.2 156.3L458.3 158L458.3 160L458.3 162.7L458.3 166.4L458.3 171.1L458.3 176.9L458.3 183.6L458.3 189.7L458.3 191.4L458.4 187.2L458.4 180.4L458.4 173.8L458.4 168.2L458.4 163.7L458.4 160.2L458.4 157.6L458.4 155.8L458.5 154.6L458.5 154.2L458.5 155.3L458.5 156.9L458.5 159.2L458.5 162.4L458.5 166.6L458.5 171.9L458.6 178.3L458.6 184.9L458.6 189.2L458.6 187.7L458.6 181.6L458.6 174.7L458.6 168.6L458.6 163.6L458.6 159.6L458.7 156.6L458.7 154.4L458.7 152.9L458.7 152.1L458.7 152L458.7 153.8L458.7 155.8L458.7 158.6L458.8 162.3L458.8 167L458.8 172.9L458.8 179.5L458.8 185.5L458.8 187L458.8 182.5L458.8 175.7L458.8 169.1L458.9 163.5L458.9 159.1L458.9 155.6L458.9 153L458.9 151.2L458.9 150.1L458.9 149.6L458.9 150.7L459 152.3L459 154.7L459 157.9L459 162.2L459 167.5L459 173.8L459 180.5L459 184.6L459 182.7L459.1 176.5L459.1 169.6L459.1 163.5L459.1 158.6L459.1 154.6L459.1 151.6L459.1 149.4L459.1 148L459.1 147.2L459.2 147.1L459.2 148.9L459.2 150.9L459.2 153.7L459.2 157.4L459.2 162.1L459.2 168L459.2 174.7L459.3 180.5L459.3 181.7L459.3 177.1L459.3 170.2L459.3 163.6L459.3 158.1L459.3 153.7L459.3 150.2L459.3 147.6L459.4 145.8L459.4 144.7L459.4 144.2L459.4 145.4L459.4 147L459.4 149.3L459.4 152.6L459.4 156.8L459.5 162.2L459.5 168.5L459.5 175.1L459.5 179L459.5 176.9L459.5 170.6L459.5 163.6L459.5 157.6L459.5 152.6L459.6 148.7L459.6 145.7L459.6 143.5L459.6 142L459.6 141.3L459.6 141.2L459.6 143L459.6 144.9L459.7 147.8L459.7 151.5L459.7 156.3L459.7 162.2L459.7 168.8L459.7 174.5L459.7 175.4L459.7 170.6L459.7 163.6L459.7 157L459.8 151.5L459.8 147.1L459.8 143.7L459.8 141.1L459.8 139.2L459.8 138.1L459.8 137.7L459.8 138.8L459.9 140.4L459.9 142.8L459.9 146L459.9 150.3L459.9 155.6L459.9 162L459.9 168.5L459.9 172.1L459.9 169.7L460 163.3L460 156.3L460 150.3L460 145.3L460 141.4L460 138.4L460 136.2L460 134.7L460 133.9L460.1 133.8L460.1 135.6L460.1 137.6L460.1 140.4L460.1 144.1L460.1 148.9L460.1 154.8L460.1 161.4L460.2 166.9L460.2 167.5L460.2 162.4L460.2 155.4L460.2 148.8L460.2 143.3L460.2 138.9L460.2 135.4L460.2 132.8L460.2 131L460.3 129.8L460.3 129.3L460.3 130.4L460.3 132L460.3 134.3L460.3 137.6L460.3 141.8L460.3 147.1L460.4 153.5L460.4 159.9L460.4 163.2L460.4 160.5L460.4 153.9L460.4 146.9L460.4 140.8L460.4 135.9L460.4 131.9L460.5 128.9L460.5 126.6L460.5 125.1L460.5 124.3L460.5 124.1L460.5 125.8L460.5 127.7L460.5 130.5L460.5 134.2L460.6 139L460.6 144.8L460.6 151.4L460.6 156.6L460.6 156.8L460.6 151.5L460.6 144.3L460.6 137.7L460.6 132.2L460.7 127.7L460.7 124.2L460.7 121.5L460.7 119.6L460.7 118.4L460.7 117.9L460.7 118.8L460.7 120.3L460.8 122.6L460.8 125.7L460.8 129.9L460.8 135.2L460.8 141.4L460.8 147.6L460.8 150.6L460.8 147.5L460.8 140.7L460.8 133.6L460.9 127.4L460.9 122.4L460.9 118.3L460.9 115.2L460.9 112.8L460.9 111.2L460.9 110.2L460.9 109.9L461 111.4L461 113.2L461 115.8L461 119.4L461 124L461 129.7L461 136.1L461 141L461 134.9L461.1 127.5L461.1 120.7L461.1 115L461.1 110.4L461.1 106.7L461.1 103.8L461.1 101.7L461.1 100.2L461.1 99.5L461.2 99.3L461.2 101.2L461.2 103.2L461.2 106.1L461.2 110L461.2 115L461.2 121L461.2 126.8L461.3 129L461.3 125.1L461.3 117.8L461.3 110.3L461.3 103.8L461.3 98.4L461.3 93.9L461.3 90.3L461.3 87.5L461.3 85.4L461.4 83.9L461.4 83.1L461.4 82.9L461.4 84.6L461.4 86.6L461.4 89.5L461.4 93.5L461.4 98.5L461.5 104L461.5 107.6L461.5 105.5L461.5 98.3L461.5 89.7L461.5 81.7L461.5 74.8L461.5 68.8L461.5 63.6L461.5 59.1L461.6 55.1L461.6 51.7L461.6 48.7L461.6 46.1L461.6 43.8L461.6 41.8L461.6 40.2L461.6 38.8L461.6 37.7L461.6 36.9L461.7 36.3L461.7 35.9" fill="none" stroke="#000" stroke-width="1.6" stroke-linejoin="round"/>
<path d="M106 35.9L135.7 36.3L153 36.9L165.3 37.7L174.9 38.8L182.7 40.2L189.2 41.8L195 43.8L200 46.1L204.5 48.7L208.6 51.7L212.3 55.1L215.7 59.1L218.9 63.6L221.8 68.8L224.6 74.8L227.2 81.7L229.6 89.7L231.9 98.3L234.1 105.5L236.2 107.6L238.2 104L240.1 98.5L241.9 93.5L243.7 89.5L245.3 86.6L247 84.6L248.5 83.4L250 82.9L251.5 83.1L252.9 83.9L254.2 85.4L255.5 87.5L256.8 90.3L258.1 93.9L259.3 98.4L260.4 103.8L261.6 110.3L262.7 117.8L263.8 125.1L264.8 129L265.9 126.8L266.9 121L267.8 115L268.8 110L269.7 106.1L270.7 103.2L271.6 101.2L272.4 99.9L273.3 99.3L274.2 99.5L275 100.2L275.8 101.7L276.6 103.8L277.4 106.7L278.2 110.4L278.9 115L279.7 120.7L280.4 127.5L281.1 134.9L281.8 140.7L282.5 141L283.2 136.1L283.9 129.7L284.5 124L285.2 119.4L285.8 115.8L286.5 113.2L287.1 111.4L287.7 110.3L288.3 109.9L288.9 110.2L289.5 111.2L290.1 112.8L290.6 115.2L291.2 118.3L291.8 122.4L292.3 127.4L292.9 133.6L293.4 140.7L293.9 147.5L294.5 150.6L295 147.6L295.5 141.4L296 135.2L296.5 129.9L297 125.7L297.5 122.6L298 120.3L298.4 118.8L298.9 118L299.4 117.9L299.8 118.4L300.3 119.6L300.8 121.5L301.2 124.2L301.6 127.7L302.1 132.2L302.5 137.7L302.9 144.3L303.4 151.5L303.8 156.8L304.2 156.6L304.6 151.4L305 144.8L305.4 139L305.8 134.2L306.2 130.5L306.6 127.7L307 125.8L307.4 124.6L307.8 124.1L308.5 125.1L308.9 126.6L309.3 128.9L309.7 131.9L310 135.9L310.4 140.8L310.7 146.9L311.1 153.9L311.4 160.5L311.8 163.2L312.1 159.9L312.5 153.5L312.8 147.1L313.2 141.8L313.5 137.6L313.8 134.3L314.2 132L314.5 130.4L314.8 129.5L315.1 129.3L315.5 129.8L315.8 131L316.1 132.8L316.4 135.4L316.7 138.9L317 143.3L317.3 148.8L317.6 155.4L317.9 162.4L318.2 167.5L318.5 166.9L318.8 161.4L319.1 154.8L319.4 148.9L319.7 144.1L320 140.4L320.3 137.6L320.6 135.6L320.8 134.3L321.1 133.8L321.7 134.7L322 136.2L322.2 138.4L322.5 141.4L322.8 145.3L323 150.3L323.3 156.3L323.6 163.3L323.8 169.7L324.1 172.1L324.4 168.5L324.6 162L324.9 155.6L325.1 150.3L325.4 146L325.6 142.8L325.9 140.4L326.1 138.8L326.4 137.9L326.6 137.7L326.9 138.1L327.1 139.2L327.4 141.1L327.6 143.7L327.8 147.1L328.1 151.5L328.3 157L328.5 163.6L328.8 170.6L329 175.4L329.2 174.5L329.5 168.8L329.7 162.2L329.9 156.3L330.2 151.5L330.4 147.8L330.6 144.9L330.8 143L331.1 141.7L331.3 141.2L331.7 142L331.9 143.5L332.2 145.7L332.4 148.7L332.6 152.6L332.8 157.6L333 163.6L333.2 170.6L333.4 176.9L333.6 179L333.8 175.1L334.1 168.5L334.3 162.2L334.5 156.8L334.7 152.6L334.9 149.3L335.1 147L335.3 145.4L335.5 144.5L335.7 144.2L335.9 144.7L336.1 145.8L336.3 147.6L336.5 150.2L336.7 153.7L336.8 158.1L337 163.6L337.2 170.2L337.4 177.1L337.6 181.7L337.8 180.5L338 174.7L338.2 168L338.4 162.1L338.6 157.4L338.7 153.7L338.9 150.9L339.1 148.9L339.3 147.6L339.5 147.1L339.8 148L340 149.4L340.2 151.6L340.4 154.6L340.6 158.6L340.7 163.5L340.9 169.6L341.1 176.5L341.3 182.7L341.4 184.6L341.6 180.5L341.8 173.8L341.9 167.5L342.1 162.2L342.3 157.9L342.5 154.7L342.6 152.3L342.8 150.7L343 149.8L343.1 149.6L343.3 150.1L343.5 151.2L343.6 153L343.8 155.6L344 159.1L344.1 163.5L344.3 169.1L344.5 175.7L344.6 182.5L344.8 187L344.9 185.5L345.1 179.5L345.3 172.9L345.4 167L345.6 162.3L345.7 158.6L345.9 155.8L346 153.8L346.2 152.6L346.4 152L346.7 152.9L346.8 154.4L347 156.6L347.1 159.6L347.3 163.6L347.4 168.6L347.6 174.7L347.7 181.6L347.9 187.7L348 189.2L348.2 184.9L348.3 178.3L348.5 171.9L348.6 166.6L348.8 162.4L348.9 159.2L349.1 156.9L349.2 155.3L349.3 154.4L349.5 154.2L349.6 154.6L349.8 155.8L349.9 157.6L350.1 160.2L350.2 163.7L350.3 168.2L350.5 173.8L350.6 180.4L350.8 187.2L350.9 191.4L351 189.7L351.2 183.6L351.3 176.9L351.5 171.1L351.6 166.4L351.7 162.7L351.9 160L352 158L352.1 156.8L352.3 156.3L352.5 157.2L352.7 158.7L352.8 160.9L352.9 164L353.1 167.9L353.2 173L353.3 179.1L353.5 186L353.6 192L353.7 193.3L353.9 188.8L354 182L354.1 175.7L354.3 170.5L354.4 166.3L354.5 163.1L354.6 160.8L354.8 159.2L354.9 158.3L355 158.1L355.3 159.8L355.4 161.6L355.5 164.3L355.6 167.8L355.8 172.3L355.9 177.9L356 184.5L356.1 191.3L356.3 195.3L356.4 193.3L356.5 187.2L356.6 180.5L356.8 174.7L356.9 170L357 166.4L357.1 163.6L357.2 161.7L357.4 160.5L357.5 160L357.7 160.9L357.8 162.4L357.9 164.7L358.1 167.8L358.2 171.8L358.3 176.8L358.4 183L358.5 189.9L358.7 195.7L358.8 196.8L358.9 192.1L359 185.3L359.1 179L359.2 173.8L359.3 169.7L359.5 166.5L359.6 164.2L359.7 162.7L359.8 161.8L359.9 161.6L360 162.1L360.1 163.3L360.2 165.2L360.4 167.8L360.5 171.4L360.6 175.9L360.7 181.5L360.8 188.2L360.9 194.9L361 198.7L361.1 196.5L361.2 190.2L361.4 183.6L361.5 177.8L361.6 173.2L361.7 169.6L361.8 166.8L361.9 164.9L362 163.7L362.1 163.2L362.3 164.2L362.4 165.8L362.5 168L362.6 171.1L362.7 175.2L362.9 180.3L363 186.5L363.1 193.4L363.2 199.1L363.3 199.8L363.4 195L363.5 188.2L363.6 182L363.7 176.8L363.8 172.7L363.9 169.6L364 167.3L364.1 165.7L364.2 164.9L364.3 164.7L364.4 165.3L364.5 166.4L364.6 168.3L364.7 171L364.8 174.6L364.9 179.2L365 184.8L365.1 191.5L365.2 198.2L365.3 201.8L365.4 199.3L365.5 193L365.6 186.3L365.7 180.6L365.8 176L365.9 172.4L366 169.7L366.1 167.8L366.2 166.7L366.3 166.2L366.5 167.2L366.6 168.8L366.7 171.1L366.8 174.2L366.9 178.3L367 183.4L367.1 189.6L367.2 196.5L367.3 202.1L367.3 202.6L367.4 197.6L367.5 190.8L367.6 184.6L367.7 179.4L367.8 175.4L367.9 172.3L368 170L368.1 168.5L368.2 167.7L368.3 167.5L368.4 168.1L368.5 169.3L368.6 171.2L368.7 173.9L368.7 177.5L368.8 182.1L368.9 187.8L369 194.5L369.1 201.2L369.2 204.5L369.3 201.8L369.4 195.4L369.5 188.8L369.6 183.1L369.7 178.5L369.7 175L369.8 172.3L369.9 170.4L370 169.3L370.1 168.8L370.3 169.9L370.4 171.5L370.5 173.8L370.5 177L370.6 181.1L370.7 186.2L370.8 192.5L370.9 199.4L371 204.9L371.1 205.1L371.2 199.9L371.2 193.1L371.3 186.9L371.4 181.8L371.5 177.8L371.6 174.7L371.7 172.5L371.8 171L371.8 170.2L371.9 170.1L372 170.6L372.1 171.9L372.2 173.8L372.3 176.6L372.4 180.2L372.4 184.8L372.5 190.6L372.6 197.3L372.7 203.9L372.8 207L372.9 204L372.9 197.6L373 191L373.1 185.3L373.2 180.8L373.3 177.3L373.4 174.7L373.4 172.8L373.5 171.7L373.6 171.2L373.8 172.4L373.8 174L373.9 176.3L374 179.5L374.1 183.6L374.2 188.9L374.2 195.2L374.3 202.1L374.4 207.4L374.6 202L374.7 195.2L374.7 189.1L374.8 184L374.9 180L375 177L375 174.7L375.1 173.3L375.2 172.5L375.3 172.4L375.4 173L375.4 174.2L375.5 176.2L375.6 179L375.7 182.7L375.8 187.3L375.8 193.1L375.9 199.9L376 206.4L376.1 209.3L376.1 206.1L376.2 199.6L376.3 193L376.4 187.4L376.5 182.9L376.5 179.4L376.6 176.8L376.7 175L376.8 173.9L376.8 173.5L377 174.6L377.1 176.3L377.1 178.6L377.2 181.9L377.3 186L377.4 191.3L377.4 197.6L377.5 204.5L377.6 209.7L377.7 203.9L377.8 197.1L377.9 191L378 186L378 182L378.1 179L378.2 176.8L378.3 175.4L378.3 174.6L378.4 174.6L378.5 175.1L378.5 176.4L378.6 178.4L378.7 181.2L378.8 184.9L378.8 189.6L378.9 195.5L379 202.2L379.1 208.7L379.1 211.4L379.2 207.9L379.3 201.4L379.3 194.8L379.4 189.3L379.5 184.8L379.6 181.3L379.6 178.8L379.7 177L379.8 175.9L379.8 175.5L380 176.7L380 178.4L380.1 180.8L380.2 184L380.3 188.2L380.3 193.5L380.4 199.9L380.5 206.8L380.5 211.8L380.6 211.2L380.7 205.6L380.7 198.8L380.8 192.8L380.9 187.8L381 183.9L381 180.9L381.1 178.7L381.2 177.3L381.2 176.6L381.3 176.5L381.4 177.1L381.4 178.4L381.5 180.5L381.6 183.3L381.6 187L381.7 191.8L381.8 197.7L381.8 204.5L381.9 210.8L382 213.3L382 209.6L382.1 203L382.2 196.5L382.2 191L382.3 186.5L382.4 183.1L382.4 180.6L382.5 178.8L382.6 177.8L382.6 177.4L382.8 178.7L382.8 180.3L382.9 182.8L383 186L383 190.3L383.1 195.6L383.2 202L383.2 208.9L383.3 213.7L383.4 212.9L383.4 207.2L383.5 200.4L383.6 194.4L383.6 189.4L383.7 185.5L383.8 182.6L383.8 180.5L383.9 179.1L384 178.4L384 178.4L384.1 179L384.1 180.3L384.2 182.4L384.3 185.2L384.3 189L384.4 193.8L384.5 199.7L384.5 206.5L384.6 212.8L384.7 215L384.7 211.2L384.8 204.5L384.8 198L384.9 192.5L385 188.2L385 184.8L385.1 182.3L385.2 180.5L385.2 179.5L385.3 179.1L385.4 180.5L385.5 182.2L385.5 184.6L385.6 187.9L385.7 192.2L385.7 197.6L385.8 204L385.8 210.9L385.9 215.6L386 214.5L386 208.7L386.1 201.9L386.1 195.9L386.2 191L386.3 187.1L386.3 184.2L386.4 182.1L386.4 180.7L386.5 180.1L386.6 180.1L386.6 180.7L386.7 182.1L386.8 184.2L386.8 187.1L386.9 190.9L386.9 195.7L387 201.6L387.1 208.5L387.1 214.7L387.2 216.6L387.2 212.6L387.3 205.9L387.3 199.4L387.4 194L387.5 189.6L387.5 186.3L387.6 183.8L387.6 182.1L387.7 181.1L387.8 180.8L387.9 182.1L387.9 183.9L388 186.4L388.1 189.7L388.1 194L388.2 199.4L388.2 205.9L388.3 212.7L388.3 217.2L388.4 215.9L388.5 210L388.5 203.2L388.6 197.2L388.6 192.4L388.7 188.6L388.8 185.7L388.8 183.6L388.9 182.3L388.9 181.6L389 182.3L389.1 183.7L389.2 185.8L389.2 188.8L389.3 192.6L389.3 197.5L389.4 203.5L389.4 210.3L389.5 216.4L389.5 218.1L389.6 213.9L389.7 207.2L389.7 200.7L389.8 195.3L389.8 191L389.9 187.7L389.9 185.3L390 183.6L390.1 182.6L390.1 182.3L390.2 183.7L390.3 185.5L390.3 188L390.4 191.4L390.4 195.7L390.5 201.2L390.6 207.7L390.6 214.5L390.7 218.8L390.7 217.2L390.8 211.2L390.8 204.4L390.9 198.5L390.9 193.7L391 189.9L391 187.1L391.1 185L391.2 183.7L391.2 183.1L391.3 183.8L391.4 185.2L391.4 187.4L391.5 190.3L391.5 194.2L391.6 199.1L391.6 205.2L391.7 212L391.7 218L391.8 219.5L391.9 215.1L391.9 208.3L392 201.9L392 196.6L392.1 192.3L392.1 189L392.2 186.6L392.2 184.9L392.3 184L392.3 183.7L392.4 185.2L392.5 187L392.5 189.5L392.6 192.9L392.6 197.3L392.7 202.8L392.8 209.4L392.8 216.1L392.9 220.3L392.9 218.4L393 212.3L393 205.6L393.1 199.7L393.1 194.9L393.2 191.2L393.2 188.3L393.3 186.3L393.3 185L393.4 184.4L393.5 185.2L393.5 186.7L393.6 188.9L393.6 191.8L393.7 195.8L393.7 200.7L393.8 206.8L393.8 213.7L393.9 219.6L393.9 220.7L394 216.2L394 209.4L394.1 203L394.1 197.7L394.2 193.5L394.2 190.2L394.3 187.8L394.3 186.2L394.4 185.3L394.4 185L394.5 186.6L394.6 188.4L394.6 190.9L394.7 194.4L394.7 198.8L394.8 204.4L394.8 211L394.9 217.7L394.9 221.6L395 219.5L395 213.3L395.1 206.6L395.1 200.8L395.2 196L395.2 192.3L395.3 189.5L395.3 187.5L395.4 186.3L395.4 185.7L395.5 186.6L395.6 188L395.6 190.2L395.7 193.3L395.7 197.2L395.8 202.2L395.8 208.3L395.9 215.2L395.9 221L396 221.9L396 217.2L396.1 210.4L396.1 204L396.2 198.8L396.2 194.6L396.3 191.4L396.3 189L396.4 187.4L396.4 186.5L396.5 186.3L396.6 187.9L396.6 189.7L396.7 192.3L396.7 195.8L396.7 200.3L396.8 205.9L396.8 212.5L396.9 219.2L396.9 222.9L397 220.6L397 214.3L397.1 207.6L397.1 201.8L397.2 197.1L397.2 193.4L397.3 190.7L397.3 188.7L397.4 187.5L397.4 186.9L397.5 187.8L397.5 189.3L397.6 191.5L397.6 194.6L397.7 198.6L397.7 203.6L397.8 209.8L397.8 216.7L397.9 222.3L397.9 223L398 218.1L398 211.3L398.1 205L398.1 199.8L398.2 195.6L398.2 192.4L398.2 190.1L398.3 188.5L398.3 187.7L398.4 187.5L398.5 189.1L398.5 190.9L398.6 193.6L398.6 197.1L398.7 201.6L398.7 207.3L398.7 213.9L398.8 220.5L398.8 224.1L398.9 221.5L398.9 215.1L399 208.5L399 202.7L399.1 198.1L399.1 194.4L399.2 191.7L399.2 189.8L399.2 188.6L399.3 188L399.4 189L399.4 190.5L399.5 192.8L399.5 195.9L399.6 199.9L399.6 205L399.6 211.2L399.7 218L399.7 223.6L399.8 224L399.8 218.9L399.9 212.1L399.9 205.9L400 200.7L400 196.6L400 193.4L400.1 191.1L400.1 189.6L400.2 188.7L400.2 188.6L400.3 190.2L400.4 192.1L400.4 194.8L400.4 198.4L400.5 202.9L400.5 208.6L400.6 215.3L400.6 221.9L400.7 225.2L400.7 222.4L400.7 215.9L400.8 209.3L400.8 203.6L400.9 199L400.9 195.4L401 192.7L401 190.8L401.1 189.6L401.1 189.1L401.2 190.1L401.2 191.6L401.3 193.9L401.3 197.1L401.4 201.1L401.4 206.3L401.4 212.5L401.5 219.4L401.5 224.8L401.6 224.9L401.6 219.7L401.6 212.9L401.7 206.7L401.7 201.5L401.8 197.5L401.8 194.4L401.9 192.1L401.9 190.6L401.9 189.7L402 189.6L402.1 191.3L402.1 193.2L402.2 195.9L402.2 199.5L402.2 204.2L402.3 209.9L402.3 216.6L402.4 223.1L402.4 226.2L402.4 223.2L402.5 216.7L402.5 210L402.6 204.4L402.6 199.8L402.7 196.2L402.7 193.6L402.7 191.7L402.8 190.5L402.8 190.1L402.9 191.1L402.9 192.7L403 195L403 198.2L403.1 202.3L403.1 207.5L403.2 213.7L403.2 220.6L403.2 225.9L403.3 220.4L403.4 213.6L403.4 207.4L403.4 202.3L403.5 198.3L403.5 195.2L403.6 193L403.6 191.5L403.6 190.7L403.7 190.6L403.8 192.3L403.8 194.3L403.8 197L403.9 200.7L403.9 205.3L404 211.1L404 217.8L404 224.3L404.1 227.1L404.1 223.9L404.2 217.3L404.2 210.7L404.2 205.1L404.3 200.6L404.3 197.1L404.4 194.4L404.4 192.6L404.4 191.5L404.5 191L404.6 192.1L404.6 193.7L404.6 196.1L404.7 199.3L404.7 203.4L404.8 208.6L404.8 214.9L404.8 221.8L404.9 226.9L405 221.1L405 214.3L405 208.1L405.1 203.1L405.1 199.1L405.2 196L405.2 193.8L405.2 192.4L405.3 191.6L405.3 191.5L405.4 192.1L405.4 193.3L405.4 195.3L405.5 198.1L405.5 201.7L405.5 206.4L405.6 212.2L405.6 219L405.7 225.4L405.7 228L405.7 224.5L405.8 218L405.8 211.4L405.9 205.8L405.9 201.3L405.9 197.8L406 195.2L406 193.4L406 192.3L406.1 191.9L406.2 193L406.2 194.7L406.2 197.1L406.3 200.3L406.3 204.5L406.4 209.7L406.4 216.1L406.4 222.9L406.5 227.9L406.5 227.3L406.5 221.7L406.6 214.9L406.6 208.8L406.7 203.7L406.7 199.8L406.7 196.8L406.8 194.6L406.8 193.2L406.8 192.4L406.9 192.3L406.9 192.9L407 194.2L407 196.2L407 199L407.1 202.7L407.1 207.5L407.1 213.3L407.2 220.1L407.2 226.4L407.3 228.8L407.3 225.2L407.3 218.5L407.4 212L407.4 206.4L407.4 202L407.5 198.5L407.5 196L407.6 194.2L407.6 193.1L407.6 192.7L407.7 193.9L407.7 195.6L407.8 198L407.8 201.2L407.9 205.5L407.9 210.8L407.9 217.2L408 224L408 228.8L408 228L408.1 222.2L408.1 215.4L408.1 209.3L408.2 204.4L408.2 200.5L408.3 197.5L408.3 195.3L408.3 193.9L408.4 193.2L408.4 193.2L408.4 193.8L408.5 195.1L408.5 197.1L408.5 200L408.6 203.7L408.6 208.5L408.7 214.4L408.7 221.1L408.7 227.4L408.8 229.6L408.8 225.7L408.8 219L408.9 212.5L408.9 207L408.9 202.6L409 199.2L409 196.7L409 194.9L409.1 193.8L409.1 193.5L409.2 194.7L409.2 196.4L409.3 198.9L409.3 202.2L409.3 206.4L409.4 211.8L409.4 218.2L409.4 225L409.5 229.7L409.5 228.5L409.5 222.7L409.6 215.9L409.6 209.9L409.7 205L409.7 201.1L409.7 198.1L409.8 196L409.8 194.6L409.8 193.9L409.9 193.9L409.9 194.6L409.9 195.9L410 198L410 200.8L410 204.6L410.1 209.4L410.1 215.4L410.1 222.2L410.2 228.3L410.2 230.3L410.2 226.2L410.3 219.5L410.3 213L410.3 207.5L410.4 203.2L410.4 199.8L410.5 197.3L410.5 195.6L410.5 194.5L410.6 194.2L410.6 195.5L410.7 197.2L410.7 199.7L410.7 203L410.8 207.3L410.8 212.7L410.8 219.2L410.9 226L410.9 230.5L410.9 229.1L411 223.1L411 216.3L411 210.4L411.1 205.5L411.1 201.7L411.1 198.7L411.2 196.7L411.2 195.3L411.2 194.6L411.3 195.3L411.3 196.7L411.4 198.8L411.4 201.7L411.4 205.5L411.5 210.3L411.5 216.3L411.5 223.1L411.6 229.2L411.6 230.9L411.6 226.6L411.7 219.9L411.7 213.4L411.7 208L411.8 203.7L411.8 200.4L411.8 197.9L411.9 196.2L411.9 195.2L411.9 194.9L412 196.3L412 198L412.1 200.5L412.1 203.9L412.1 208.2L412.2 213.6L412.2 220.1L412.2 226.9L412.3 231.2L412.3 229.6L412.3 223.5L412.4 216.8L412.4 210.8L412.4 206L412.5 202.2L412.5 199.3L412.5 197.2L412.6 195.9L412.6 195.3L412.7 196L412.7 197.4L412.7 199.5L412.8 202.4L412.8 206.3L412.8 211.2L412.9 217.2L412.9 224.1L412.9 230L413 231.5L413 227L413 220.3L413.1 213.8L413.1 208.5L413.1 204.2L413.2 200.9L413.2 198.4L413.2 196.8L413.3 195.8L413.3 195.5L413.4 196.9L413.4 198.7L413.4 201.2L413.5 204.6L413.5 209L413.5 214.5L413.6 221L413.6 227.8L413.6 231.9L413.7 230L413.7 223.9L413.7 217.1L413.7 211.2L413.8 206.4L413.8 202.7L413.8 199.8L413.9 197.8L413.9 196.5L413.9 195.9L414 196.6L414 198.1L414.1 200.2L414.1 203.2L414.1 207.1L414.2 212L414.2 218.1L414.2 224.9L414.3 230.8L414.3 232L414.3 227.4L414.4 220.6L414.4 214.2L414.4 208.9L414.4 204.6L414.5 201.4L414.5 199L414.5 197.3L414.6 196.4L414.6 196.1L414.7 197.6L414.7 199.4L414.7 201.9L414.8 205.4L414.8 209.8L414.8 215.3L414.9 221.9L414.9 228.6L414.9 232.5L414.9 230.4L415 224.2L415 217.4L415 211.6L415.1 206.8L415.1 203.1L415.1 200.3L415.2 198.3L415.2 197L415.2 196.4L415.3 197.3L415.3 198.7L415.4 200.9L415.4 203.9L415.4 207.8L415.4 212.8L415.5 218.9L415.5 225.8L415.5 231.5L415.6 232.5L415.6 227.7L415.6 220.9L415.7 214.5L415.7 209.2L415.7 205L415.7 201.8L415.8 199.4L415.8 197.8L415.8 196.9L415.9 196.7L415.9 198.2L416 200L416 202.6L416 206.1L416.1 210.6L416.1 216.1L416.1 222.7L416.1 229.4L416.2 233.1L416.2 230.7L416.2 224.4L416.3 217.7L416.3 211.9L416.3 207.2L416.4 203.5L416.4 200.7L416.4 198.8L416.4 197.5L416.5 197L416.5 197.8L416.6 199.3L416.6 201.5L416.6 204.6L416.7 208.5L416.7 213.6L416.7 219.7L416.7 226.6L416.8 232.2L416.8 232.9L416.8 227.9L416.9 221.1L416.9 214.8L416.9 209.6L417 205.4L417 202.2L417 199.9L417 198.3L417.1 197.4L417.1 197.2L417.2 198.8L417.2 200.6L417.2 203.2L417.3 206.7L417.3 211.3L417.3 216.9L417.3 223.5L417.4 230.1L417.4 233.6L417.4 231L417.5 224.7L417.5 218L417.5 212.2L417.5 207.5L417.6 203.9L417.6 201.1L417.6 199.2L417.7 198L417.7 197.4L417.7 198.4L417.8 199.9L417.8 202.1L417.8 205.2L417.9 209.2L417.9 214.3L417.9 220.5L418 227.3L418 232.8L418 233.2L418 228.2L418.1 221.3L418.1 215L418.1 209.9L418.2 205.7L418.2 202.6L418.2 200.3L418.2 198.7L418.3 197.8L418.3 197.6L418.4 199.3L418.4 201.2L418.4 203.8L418.4 207.4L418.5 211.9L418.5 217.6L418.5 224.2L418.6 230.8L418.6 234.1L418.6 231.3L418.6 224.8L418.7 218.2L418.7 212.4L418.7 207.8L418.8 204.2L418.8 201.5L418.8 199.6L418.8 198.4L418.9 197.9L418.9 198.9L419 200.4L419 202.7L419 205.8L419 209.8L419.1 215L419.1 221.2L419.1 228L419.2 233.4L419.2 233.6L419.2 228.3L419.2 221.5L419.3 215.3L419.3 210.1L419.3 206L419.4 202.9L419.4 200.6L419.4 199.1L419.4 198.3L419.5 198.1L419.5 199.8L419.5 201.7L419.6 204.4L419.6 208L419.6 212.6L419.7 218.3L419.7 224.9L419.7 231.5L419.7 234.5L419.8 231.5L419.8 225L419.8 218.3L419.9 212.6L419.9 208.1L419.9 204.5L419.9 201.8L420 199.9L420 198.8L420 198.3L420.1 199.3L420.1 200.9L420.1 203.2L420.2 206.3L420.2 210.4L420.2 215.6L420.2 221.8L420.3 228.7L420.3 234L420.4 228.5L420.4 221.6L420.4 215.4L420.4 210.3L420.5 206.3L420.5 203.2L420.5 200.9L420.5 199.4L420.6 198.6L420.6 198.5L420.7 200.2L420.7 202.2L420.7 204.9L420.7 208.5L420.8 213.2L420.8 218.9L420.8 225.6L420.8 232.1L420.9 234.9L420.9 231.7L420.9 225.1L421 218.5L421 212.8L421 208.3L421 204.8L421.1 202.1L421.1 200.3L421.1 199.1L421.1 198.7L421.2 199.7L421.2 201.3L421.2 203.7L421.3 206.9L421.3 211L421.3 216.2L421.4 222.5L421.4 229.3L421.4 234.5L421.5 228.6L421.5 221.7L421.5 215.6L421.5 210.5L421.6 206.5L421.6 203.5L421.6 201.2L421.6 199.8L421.7 199L421.7 198.9L421.8 200.7L421.8 202.6L421.8 205.4L421.8 209L421.9 213.7L421.9 219.5L421.9 226.2L421.9 232.6L422 235.3L422 231.8L422 225.2L422 218.6L422.1 213L422.1 208.5L422.1 205L422.2 202.4L422.2 200.5L422.2 199.4L422.2 199L422.3 200.1L422.3 201.8L422.3 204.1L422.4 207.3L422.4 211.5L422.4 216.8L422.4 223.1L422.5 229.9L422.5 234.9L422.5 234.3L422.5 228.6L422.6 221.8L422.6 215.7L422.6 210.7L422.6 206.7L422.7 203.7L422.7 201.5L422.7 200L422.8 199.3L422.8 199.2L422.8 199.8L422.8 201L422.9 203L422.9 205.8L422.9 209.5L422.9 214.3L423 220.1L423 226.8L423 233.2L423 235.5L423.1 231.9L423.1 225.2L423.1 218.6L423.1 213.1L423.2 208.6L423.2 205.2L423.2 202.6L423.2 200.8L423.3 199.7L423.3 199.3L423.3 200.5L423.4 202.1L423.4 204.5L423.4 207.8L423.4 212L423.5 217.3L423.5 223.7L423.5 230.5L423.6 235.3L423.6 234.4L423.6 228.7L423.6 221.8L423.7 215.8L423.7 210.8L423.7 206.9L423.7 203.9L423.8 201.7L423.8 200.3L423.8 199.6L423.8 199.5L423.9 200.1L423.9 201.4L423.9 203.4L423.9 206.3L424 210L424 214.8L424 220.6L424 227.4L424.1 233.6L424.1 235.8L424.1 231.9L424.1 225.2L424.2 218.7L424.2 213.2L424.2 208.8L424.2 205.3L424.3 202.8L424.3 201L424.3 200L424.3 199.6L424.4 200.8L424.4 202.5L424.4 204.9L424.5 208.2L424.5 212.5L424.5 217.8L424.5 224.2L424.6 231L424.6 235.7L424.6 234.5L424.6 228.7L424.7 221.8L424.7 215.8L424.7 210.9L424.7 207L424.8 204L424.8 201.9L424.8 200.5L424.8 199.8L424.9 199.8L424.9 200.4L424.9 201.7L424.9 203.8L425 206.6L425 210.4L425 215.2L425 221.1L425.1 227.9L425.1 234.1L425.1 236L425.1 231.9L425.1 225.2L425.2 218.7L425.2 213.2L425.2 208.9L425.2 205.5L425.3 203L425.3 201.2L425.3 200.2L425.3 199.8L425.4 201.1L425.4 202.8L425.4 205.3L425.5 208.6L425.5 212.9L425.5 218.3L425.5 224.7L425.6 231.5L425.6 236L425.6 234.6L425.6 228.6L425.7 221.8L425.7 215.8L425.7 210.9L425.7 207.1L425.8 204.2L425.8 202.1L425.8 200.7L425.8 200L425.9 200L425.9 200.7L425.9 202L425.9 204.1L426 207L426 210.8L426 215.7L426 221.6L426 228.4L426.1 234.5L426.1 236.2L426.1 231.9L426.1 225.1L426.2 218.7L426.2 213.2L426.2 208.9L426.2 205.6L426.3 203.1L426.3 201.4L426.3 200.4L426.3 200L426.4 201.4L426.4 203.1L426.4 205.6L426.5 209L426.5 213.3L426.5 218.7L426.5 225.2L426.5 232L426.6 236.3L426.6 234.6L426.6 228.5L426.6 221.8L426.7 215.8L426.7 211L426.7 207.2L426.7 204.3L426.8 202.2L426.8 200.9L426.8 200.2L426.9 200.9L426.9 202.3L426.9 204.4L426.9 207.3L427 211.2L427 216.1L427 222.1L427 228.9L427 234.9L427.1 236.3L427.1 231.8L427.1 225.1L427.1 218.6L427.2 213.2L427.2 208.9L427.2 205.6L427.2 203.2L427.3 201.5L427.3 200.5L427.3 200.2L427.3 201.6L427.4 203.4L427.4 205.9L427.4 209.3L427.4 213.7L427.5 219.1L427.5 225.7L427.5 232.4L427.5 236.5L427.6 234.6L427.6 228.4L427.6 221.7L427.6 215.8L427.7 211L427.7 207.2L427.7 204.3L427.7 202.3L427.7 201L427.8 200.4L427.8 201.1L427.8 202.5L427.9 204.7L427.9 207.6L427.9 211.5L427.9 216.5L428 222.5L428 229.3L428 235.2L428 236.3L428 231.7L428.1 224.9L428.1 218.5L428.1 213.2L428.1 208.9L428.2 205.7L428.2 203.2L428.2 201.6L428.2 200.6L428.2 200.4L428.3 201.8L428.3 203.6L428.3 206.2L428.4 209.6L428.4 214L428.4 219.5L428.4 226.1L428.5 232.8L428.5 236.7L428.5 234.5L428.5 228.3L428.5 221.5L428.6 215.7L428.6 210.9L428.6 207.2L428.6 204.4L428.7 202.4L428.7 201.1L428.7 200.5L428.7 201.3L428.8 202.7L428.8 204.9L428.8 207.9L428.8 211.8L428.9 216.8L428.9 222.9L428.9 229.7L428.9 235.5L428.9 236.4L429 231.6L429 224.8L429 218.4L429 213.1L429.1 208.9L429.1 205.7L429.1 203.3L429.1 201.7L429.2 200.7L429.2 200.5L429.2 202L429.2 203.8L429.3 206.4L429.3 209.9L429.3 214.3L429.3 219.9L429.4 226.5L429.4 233.1L429.4 236.8L429.4 234.4L429.4 228.1L429.5 221.4L429.5 215.6L429.5 210.9L429.5 207.2L429.6 204.4L429.6 202.4L429.6 201.1L429.6 200.6L429.7 201.4L429.7 202.9L429.7 205.1L429.7 208.1L429.8 212.1L429.8 217.1L429.8 223.2L429.8 230.1L429.8 235.7L429.9 236.4L429.9 231.4L429.9 224.6L429.9 218.3L429.9 213L430 208.9L430 205.7L430 203.3L430 201.7L430.1 200.8L430.1 200.6L430.1 202.1L430.1 204L430.2 206.6L430.2 210.1L430.2 214.6L430.2 220.2L430.3 226.8L430.3 233.4L430.3 236.9L430.3 234.3L430.3 227.9L430.4 221.2L430.4 215.4L430.4 210.8L430.4 207.1L430.4 204.4L430.5 202.4L430.5 201.2L430.5 200.6L430.6 201.5L430.6 203L430.6 205.3L430.6 208.3L430.6 212.3L430.7 217.4L430.7 223.6L430.7 230.4L430.7 235.9L430.8 236.3L430.8 231.2L430.8 224.4L430.8 218.1L430.8 212.9L430.9 208.8L430.9 205.6L430.9 203.3L430.9 201.7L430.9 200.8L431 200.6L431 202.2L431 204.1L431.1 206.8L431.1 210.3L431.1 214.9L431.1 220.5L431.1 227.1L431.2 233.7L431.2 237L431.2 234.1L431.2 227.7L431.2 221L431.3 215.3L431.3 210.6L431.3 207L431.3 204.3L431.3 202.4L431.4 201.2L431.4 200.7L431.4 201.6L431.5 203.1L431.5 205.4L431.5 208.5L431.5 212.6L431.5 217.7L431.6 223.9L431.6 230.7L431.6 236.1L431.6 236.2L431.6 231L431.7 224.1L431.7 217.9L431.7 212.7L431.7 208.7L431.8 205.5L431.8 203.2L431.8 201.7L431.8 200.8L431.8 200.7L431.9 202.3L431.9 204.2L431.9 206.9L431.9 210.5L432 215.1L432 220.8L432 227.4L432 233.9L432 237L432.1 233.9" fill="none" stroke="#000" stroke-width="1.2" stroke-linejoin="round"/>
<rect x="87.75" y="17.4" width="393.8" height="251.6" fill="none" stroke="#000" stroke-width="1.2"/>
<path d="M117.4 269v-5M117.4 17.4v5M134.7 269v-5M134.7 17.4v5M147 269v-5M147 17.4v5M156.6 269v-5M156.6 17.4v5M164.4 269v-5M164.4 17.4v5M170.9 269v-5M170.9 17.4v5M176.7 269v-5M176.7 17.4v5M181.7 269v-5M181.7 17.4v5M186.2 269v-9.1M186.2 17.4v9.1M215.8 269v-5M215.8 17.4v5M233.2 269v-5M233.2 17.4v5M245.5 269v-5M245.5 17.4v5M255 269v-5M255 17.4v5M262.8 269v-5M262.8 17.4v5M269.4 269v-5M269.4 17.4v5M275.1 269v-5M275.1 17.4v5M280.1 269v-5M280.1 17.4v5M284.6 269v-5.4M284.6 17.4v9.1M314.3 269v-5M314.3 17.4v5M331.6 269v-5M331.6 17.4v5M343.9 269v-5M343.9 17.4v5M353.5 269v-5M353.5 17.4v5M361.3 269v-5M361.3 17.4v5M367.8 269v-5M367.8 17.4v5M373.6 269v-5M373.6 17.4v5M378.6 269v-5M378.6 17.4v5M383.1 269v-9.1M383.1 17.4v9.1M412.7 269v-5M412.7 17.4v5M430.1 269v-5M430.1 17.4v5M442.4 269v-5M442.4 17.4v5M451.9 269v-5M451.9 17.4v5M459.7 269v-5M459.7 17.4v5M466.3 269v-5M466.3 17.4v5M472 269v-5M472 17.4v5M477 269v-5M477 17.4v5M87.8 258.2h5M481.6 258.2h-5M87.8 251.9h5M481.6 251.9h-5M87.8 247.4h5M481.6 247.4h-5M87.8 243.9h5M481.6 243.9h-5M87.8 241h5M481.6 241h-5M87.8 238.6h5M481.6 238.6h-5M87.8 236.5h5M481.6 236.5h-5M87.8 234.7h5M481.6 234.7h-5M87.8 233.1h9.1M481.6 233.1h-9.1M87.8 222.2h5M481.6 222.2h-5M87.8 215.9h5M481.6 215.9h-5M87.8 211.4h5M481.6 211.4h-5M87.8 207.9h5M481.6 207.9h-5M87.8 205.1h5M481.6 205.1h-5M87.8 202.7h5M481.6 202.7h-5M87.8 200.6h5M481.6 200.6h-5M87.8 198.8h5M481.6 198.8h-5M87.8 197.1h9.1M481.6 197.1h-9.1M87.8 186.3h5M481.6 186.3h-5M87.8 180h5M481.6 180h-5M87.8 175.5h5M481.6 175.5h-5M87.8 172h5M481.6 172h-5M87.8 169.1h5M481.6 169.1h-5M87.8 166.7h5M481.6 166.7h-5M87.8 164.7h5M481.6 164.7h-5M87.8 162.8h5M481.6 162.8h-5M87.8 161.2h9.1M481.6 161.2h-9.1M87.8 150.4h5M481.6 150.4h-5M87.8 144h5M481.6 144h-5M87.8 139.5h5M481.6 139.5h-5M87.8 136h5M481.6 136h-5M87.8 133.2h5M481.6 133.2h-5M87.8 130.8h5M481.6 130.8h-5M87.8 128.7h5M481.6 128.7h-5M87.8 126.9h5M481.6 126.9h-5M87.8 125.2h9.1M481.6 125.2h-9.1M87.8 114.4h5M481.6 114.4h-5M87.8 108.1h5M481.6 108.1h-5M87.8 103.6h5M481.6 103.6h-5M87.8 100.1h5M481.6 100.1h-5M87.8 97.3h5M481.6 97.3h-5M87.8 94.9h5M481.6 94.9h-5M87.8 92.8h5M481.6 92.8h-5M87.8 90.9h5M481.6 90.9h-5M87.8 89.3h9.1M481.6 89.3h-9.1M87.8 78.5h5M481.6 78.5h-5M87.8 72.1h5M481.6 72.1h-5M87.8 67.6h5M481.6 67.6h-5M87.8 64.2h5M481.6 64.2h-5M87.8 61.3h5M481.6 61.3h-5M87.8 58.9h5M481.6 58.9h-5M87.8 56.8h5M481.6 56.8h-5M87.8 55h5M481.6 55h-5M87.8 53.3h9.1M481.6 53.3h-9.1M87.8 42.5h5M481.6 42.5h-5M87.8 36.2h5M481.6 36.2h-5M87.8 31.7h5M481.6 31.7h-5M87.8 28.2h5M481.6 28.2h-5M87.8 25.4h5M481.6 25.4h-5M87.8 23h5M481.6 23h-5M87.8 20.9h5M481.6 20.9h-5M87.8 19h5M481.6 19h-5" stroke="#000" stroke-width="1.2" fill="none"/>
<text x="72.3" y="22.4" text-anchor="end" class="tk">10</text><text x="72.2" y="11.2" class="sp">3</text>
<text x="72.3" y="58.3" text-anchor="end" class="tk">10</text><text x="72.2" y="47.1" class="sp">2</text>
<text x="72.3" y="94.3" text-anchor="end" class="tk">10</text><text x="72.2" y="83.1" class="sp">1</text>
<text x="72.3" y="130.2" text-anchor="end" class="tk">10</text><text x="72.2" y="119" class="sp">0</text>
<text x="67.3" y="166.2" text-anchor="end" class="tk">10</text><text x="66.9" y="155" class="sp">-1</text>
<text x="67.3" y="202.1" text-anchor="end" class="tk">10</text><text x="66.9" y="190.9" class="sp">-2</text>
<text x="67.3" y="238.1" text-anchor="end" class="tk">10</text><text x="66.9" y="226.9" class="sp">-3</text>
<text x="67.3" y="274" text-anchor="end" class="tk">10</text><text x="66.9" y="262.8" class="sp">-4</text>
<text x="70.3" y="299.5" class="tk">10</text><text x="95.2" y="287.7" class="sp">-4</text>
<text x="168.8" y="299.5" class="tk">10</text><text x="193.7" y="287.7" class="sp">-3</text>
<text x="267.2" y="299.5" class="tk">10</text><text x="292.1" y="287.7" class="sp">-2</text>
<text x="365.7" y="299.5" class="tk">10</text><text x="390.6" y="287.7" class="sp">-1</text>
<text x="466.6" y="299.5" class="tk">10</text><text x="491.5" y="287.7" class="sp">0</text>
<text x="152.7" y="325.7" class="big" textLength="169.5">WAVE NUMBER</text><text x="341.9" y="325.7" class="big bi">k</text><text x="355.6" y="339.7" class="sub">τ</text><text x="366.9" y="325.7" class="big">(nm</text><text x="408.9" y="313.6" class="sp">-1</text><text x="422.6" y="325.7" class="big">)</text>
<g transform="translate(16.7 258.5) rotate(-90)"><text x="0" y="0" class="big">PSD</text><text x="65.2" y="0" class="big bi">I</text><text x="70.5" y="12.4" class="sub2">AS,<tspan class="tau">τ</tspan></text><text x="107.5" y="0" class="big" textLength="126.5">/var(w) (nm)</text></g>
<text x="151" y="109.6" class="xi">ξ</text><text x="169.4" y="109.6" class="lgt">(nm)</text>
<path d="M101.4 128.4H144.3" stroke="#000" stroke-width="2.0" stroke-dasharray="10.5 2 3 2"/>
<text x="150.2" y="134" class="lg" textLength="22.6">60</text>
<path d="M101.4 152.4H144.3" stroke="#000" stroke-width="2.0" stroke-dasharray="2.4 2.0"/>
<text x="150.2" y="158" class="lg" textLength="34.1">200</text>
<path d="M101.4 175.9H144.3" stroke="#000" stroke-width="2.1" stroke-dasharray="6.9 2.1"/>
<text x="150.2" y="182" class="lg" textLength="34.1">600</text>
<path d="M101.4 200.2H144.3" stroke="#000" stroke-width="2.5" stroke-dasharray="13.3 4.3"/>
<text x="150.2" y="205.7" class="lg" textLength="45.8">2000</text>
<path d="M101.4 224.2H144.3" stroke="#000" stroke-width="2.7"/>
<text x="150.2" y="229.7" class="lg" textLength="45.8">6000</text>
<path d="M101.4 249.8H144.3" stroke="#000" stroke-width="1.25"/>
<text x="150.2" y="253.4" class="lg" textLength="57">20000</text>
<text x="235.7" y="206.0" class="an" textLength="49.8"><tspan class="bi">n</tspan>=20</text>
<text x="235.4" y="233.1" class="an" textLength="115.2"><tspan class="bi">L</tspan>=2000 nm</text>
<text x="235.5" y="256.2" class="an" textLength="101.5"><tspan class="dl">Δ</tspan><tspan class="bi">y</tspan>=10 nm</text>
<text x="396.9" y="56.6" class="an" textLength="28.2">(a)</text>
</g>
<g id="plot-b">
<path d="M235.1 423.3L245.6 423.8M247.7 423.9L250.6 424.1M252.7 424.2L263.2 424.7M265.3 424.8L268.2 425.2M270.3 425.5L280.8 426.8M282.9 427.1L285.8 427.7M287.9 428.1L294.4 429.5L298.4 430.7M300.5 431.3L303.4 432.1M305.5 432.8L311.8 435.1L316 436.9M318.1 437.8L318.3 437.9L321 439.2M323.1 440.2L324.1 440.6L329.1 443.2L333.6 445.6L333.6 445.6M335.7 446.8L337.7 447.9L338.6 448.5M340.7 449.7L341.4 450.1L344.8 452.2L348 454.1L350.9 456L351.2 456.2M353.3 457.5L353.7 457.7L356.2 459.4M358.3 460.7L358.7 461L361 462.5L363.2 463.9L365.3 465.3L367.3 466.6L368.8 467.6M370.9 469L371 469.1L372.8 470.2L373.8 470.9M375.9 472.3L376.1 472.4L377.6 473.4L379.1 474.4L380.6 475.3L382 476.2L383.3 477.1L384.6 478L385.9 478.8L386.4 479.1M388.5 480.5L389.5 481.1L390.7 481.8L391.4 482.3M393.5 483.6L393.9 483.8L395 484.4L396 485.1L396.9 485.6L397.9 486.2L398.8 486.8L399.8 487.3L400.7 487.8L401.5 488.3L402.4 488.8L403.3 489.3L404 489.7M406.1 490.9L406.5 491.1L407.3 491.5L408 491.9L408.8 492.3L409 492.4M411.1 493.4L411.6 493.7L412.3 494L413 494.3L413.6 494.6L414.3 494.9L414.9 495.2L415.6 495.5L416.2 495.7L416.8 496L417.4 496.2L418 496.4L418.6 496.7L419.2 496.9L419.7 497.1L420.3 497.3L420.9 497.5L421.4 497.7L421.6 497.7M423.7 498.3L424.1 498.4L424.6 498.6L425.1 498.7L425.6 498.8L426.6 499L426.6 499M428.7 499.3L429.4 499.4L430.3 499.5L431.2 499.5L432 499.5L432.9 499.5L433.7 499.5L434.5 499.4L435.3 499.3L436.1 499.2L436.9 499L437.6 498.8L438.4 498.6L439.1 498.3L439.2 498.2M441.3 497.2L441.9 496.9L442.6 496.4L443.3 496L443.9 495.5L444.2 495.2M446.3 493.2L446.4 493L446.7 492.6L447 492.3L447.3 491.9L447.6 491.5L447.9 491.1L448.2 490.7L448.5 490.2L448.8 489.8L449.1 489.3L449.4 488.8L449.7 488.3L449.9 487.8L450.2 487.3L450.5 486.8L450.8 486.2L451.1 485.6L451.3 485.1L451.6 484.4L451.9 483.8L452.1 483.2L452.3 482.7M453.1 480.6L453.2 480.3L453.5 479.6L453.7 478.8L454 478L454.1 477.7M454.7 475.6L454.7 475.3L455 474.4L455.2 473.4L455.5 472.4L455.7 471.3L456 470.2L456.2 469.1L456.5 467.9L456.7 466.6L456.9 465.3L457 465.1M457.3 463L457.4 462.5L457.6 461L457.8 460.1M458.1 458L458.1 457.7L458.3 456L458.6 454.1L458.8 452.2L459 450.1L459.3 447.9L459.3 447.5M459.5 445.4L459.7 443.2L459.8 442.5M460 440.4L460.2 437.9L460.4 435.1L460.6 432.3L460.8 429.9M461 427.8L461 426.9L461.2 424.9" fill="none" stroke="#000" stroke-width="2.0" stroke-linejoin="round"/>
<path d="M460.8 433.5L461 426.4L461.3 418L461.5 409.5" fill="none" stroke="#000" stroke-width="1.6" stroke-linejoin="round"/>
<path d="M235.1 409.5L237.5 410.2M239.6 410.8L242 411.5M244.1 412.1L246.5 412.8M248.6 413.4L251 414.1M253.1 414.7L255.5 415.4M257.6 416L260 416.7M262.1 417.3L264.5 418M266.6 418.9L269 420.1M271.1 421.1L273.5 422.3M275.6 423.3L278 424.4M280.1 425.4L282.1 426.4L282.5 426.6M284.6 427.9L287 429.3M289.1 430.5L291.5 431.9M293.6 433.1L294.4 433.5L296 434.6M298.1 435.9L300.5 437.4M302.6 438.7L304 439.6L305 440.3M307.1 441.7L309.5 443.3M311.6 444.7L311.8 444.7L314 446.3M316.1 447.7L318.3 449.2L318.5 449.3M320.6 450.8L323 452.4M325.1 453.9L327.5 455.6M329.6 457L332 458.7M334.1 460.2L336.5 461.9M338.6 463.4L341 465.1M343.1 466.5L344.8 467.7L345.5 468.2M347.6 469.7L348 470L350 471.4M352.1 472.9L353.7 474L354.5 474.6M356.6 476.1L358.7 477.6L359 477.8M361.1 479.3L363.2 480.7L363.5 480.9M365.6 482.4L367.3 483.6L368 484.1M370.1 485.5L371 486.1L372.5 487.2M374.6 488.6L376.1 489.6L377 490.3M379.1 491.7L380.6 492.7L381.5 493.3M383.6 494.7L384.6 495.4L385.9 496.2L386 496.3M388.1 497.7L388.4 497.8L389.5 498.6L390.5 499.2M392.6 500.6L392.9 500.7L393.9 501.4L395 502L395 502.1M397.1 503.4L397.9 503.8L398.8 504.4L399.5 504.8M401.6 506L402.4 506.5L403.3 506.9L404 507.4M406.1 508.5L406.5 508.7L407.3 509.1L408 509.5L408.5 509.8M410.6 510.9L410.9 511L411.6 511.4L412.3 511.7L413 512L413 512M415.1 513L415.6 513.2L416.2 513.4L416.8 513.7L417.4 513.9L417.5 514M419.6 514.8L419.7 514.8L420.3 515L420.9 515.2L421.4 515.4L422 515.5L422 515.6M424.1 516.2L424.6 516.3L425.1 516.4L425.6 516.5L426.5 516.7M428.6 517L429.4 517.1L430.3 517.2L431 517.3M433.1 517.2L433.7 517.2L434.5 517.1L435.3 517L435.5 517M437.6 516.5L437.6 516.5L438.4 516.3L439.1 516L439.8 515.7L440 515.6M442.1 514.5L442.6 514.2L443.3 513.7L443.9 513.2L444.5 512.6M446.5 510.5L446.7 510.3L447 509.9L447.3 509.5L447.6 509.1L447.9 508.7L448.2 508.3L448.3 508.1M449.6 506L449.7 506L449.9 505.5L450.2 504.9L450.5 504.4L450.8 503.8L450.9 503.6M451.8 501.5L451.9 501.4L452.1 500.7L452.4 500L452.7 499.3L452.7 499.1M453.5 497L453.5 497L453.7 496.2L454 495.4L454.2 494.6M454.8 492.5L455 491.7L455.2 490.7L455.4 490.1M455.8 488L456 487.4L456.2 486.1L456.3 485.6M456.7 483.5L456.9 482.2L457.1 481.1M457.4 479L457.6 477.6L457.8 476.6M458 474.5L458.1 474L458.3 472.1M458.6 470L458.6 470L458.8 467.7L458.8 467.6M459 465.5L459 465.3L459.2 463.1M459.4 461L459.5 459.8L459.6 458.6M459.7 456.5L459.9 454.1M460 452L460.1 449.6M460.2 447.5L460.4 445.1M460.5 443L460.6 440.6M460.6 438.5L460.7 436.1M460.8 434L460.8 433.5" fill="none" stroke="#000" stroke-width="2.0" stroke-linejoin="round"/>
<path d="M460.6 452.7L460.8 445.9L461 437.2L461.3 425.4L461.5 407.8" fill="none" stroke="#000" stroke-width="1.6" stroke-linejoin="round"/>
<path d="M235.1 407.8L242 411.9M244.2 413.2L251.1 417.3M253.3 418.6L260.2 422.7M262.4 424L264.8 425.4L269.3 428.5M271.5 430L278.4 434.7M280.6 436.2L282.1 437.2L287.5 441.1M289.7 442.6L294.4 445.9L296.6 447.5M298.8 449.1L304 452.7L305.7 454M307.9 455.6L311.8 458.3L314.8 460.6M317 462.1L318.3 463.1L323.9 467.1M326.1 468.7L329.1 470.8L333 473.7M335.2 475.3L337.7 477L341.4 479.7L342.1 480.2M344.3 481.8L344.8 482.2L348 484.4L350.9 486.5L351.2 486.8M353.4 488.3L353.7 488.5L356.3 490.4L358.7 492.1L360.3 493.3M362.5 494.8L363.2 495.3L365.3 496.8L367.3 498.2L369.2 499.5L369.4 499.7M371.6 501.2L372.8 502L374.4 503.1L376.1 504.2L377.6 505.3L378.5 505.9M380.7 507.4L382 508.2L383.3 509.1L384.6 510L385.9 510.9L387.2 511.7L387.6 512M389.8 513.4L390.7 514L391.8 514.7L392.9 515.4L393.9 516L395 516.7L396 517.3L396.7 517.8M398.9 519.1L399.8 519.6L400.7 520.1L401.5 520.6L402.4 521.1L403.3 521.6L404.1 522.1L404.9 522.5L405.7 523L405.8 523M408 524.2L408.8 524.6L409.5 525L410.2 525.3L410.9 525.7L411.6 526L412.3 526.3L413 526.7L413.6 527L414.3 527.3L414.9 527.5L414.9 527.6M417.1 528.5L417.4 528.6L418 528.8L418.6 529L419.2 529.3L419.7 529.5L420.3 529.7L420.9 529.9L421.4 530L422 530.2L422.5 530.4L423 530.5L423.6 530.7L424 530.8M426.2 531.3L426.6 531.4L427.5 531.6L428.5 531.7L429.4 531.8L430.3 531.9L431.2 531.9L432 531.9L432.9 531.9L433.1 531.9M435.3 531.7L436.1 531.6L436.9 531.4L437.6 531.2L438.4 530.9L439.1 530.7L439.8 530.4L440.5 530L441.2 529.7L441.9 529.3L442.2 529.1M444.4 527.4L444.6 527.3L444.9 527L445.2 526.7L445.5 526.3L445.8 526L446.1 525.7L446.4 525.3L446.7 525L447 524.6L447.3 524.2L447.6 523.8L447.9 523.4L448.2 523L448.5 522.5L448.8 522.1L449.1 521.6L449.4 521.1L449.7 520.6L449.7 520.5M450.9 518.3L451.1 517.9L451.3 517.3L451.6 516.7L451.9 516L452.1 515.4L452.4 514.7L452.7 514L452.9 513.2L453.2 512.5L453.5 511.7L453.5 511.4M454.2 509.2L454.2 509.1L454.5 508.2L454.7 507.3L455 506.3L455.2 505.3L455.5 504.2L455.7 503.1L455.9 502.3M456.3 500.1L456.5 499.5L456.7 498.2L456.9 496.8L457.2 495.3L457.4 493.7L457.5 493.2M457.8 491L457.9 490.4L458.1 488.5L458.3 486.5L458.6 484.4L458.6 484.1M458.8 481.9L459 479.7L459.3 477L459.4 475M459.6 472.8L459.7 470.8L459.9 467.2L460 465.9M460.1 463.7L460.2 463.1L460.4 458.3L460.4 456.8M460.5 454.6L460.6 452.7" fill="none" stroke="#000" stroke-width="2.0" stroke-linejoin="round"/>
<path d="M460.6 467.6L460.8 460.7L461 451.7L461.3 439.2L461.5 418.1" fill="none" stroke="#000" stroke-width="1.6" stroke-linejoin="round"/>
<path d="M235.1 418.1L248.4 427.5M252.7 430.6L264.8 439.2L266 440.1M270.3 443.2L282.1 451.7L283.6 452.9M287.9 456L294.4 460.7L301.2 465.6M305.5 468.8L311.8 473.3L318.3 478.1L318.8 478.4M323.1 481.6L324.1 482.2L329.1 485.9L333.6 489.1L336.4 491.2M340.7 494.3L341.4 494.8L344.8 497.2L348 499.5L350.9 501.6L353.7 503.6L354 503.9M358.3 506.9L358.7 507.2L361 508.8L363.2 510.4L365.3 511.9L367.3 513.3L369.2 514.6L371 515.9L371.6 516.3M375.9 519.3L376.1 519.3L377.6 520.4L379.1 521.4L380.6 522.4L382 523.3L383.3 524.3L384.6 525.1L385.9 526L387.2 526.8L388.4 527.6L389.2 528.1M393.5 530.9L393.9 531.1L395 531.8L396 532.4L396.9 533L397.9 533.6L398.8 534.1L399.8 534.7L400.7 535.2L401.5 535.7L402.4 536.2L403.3 536.7L404.1 537.2L404.9 537.6L405.7 538.1L406.5 538.5L406.8 538.7M411.1 540.9L411.6 541.1L412.3 541.5L413 541.8L413.6 542.1L414.3 542.4L414.9 542.7L415.6 542.9L416.2 543.2L416.8 543.5L417.4 543.7L418 543.9L418.6 544.2L419.2 544.4L419.7 544.6L420.3 544.8L420.9 545L421.4 545.2L422 545.3L422.5 545.5L423 545.6L423.6 545.8L424.1 545.9L424.4 546M428.7 546.8L429.4 546.9L430.3 547L431.2 547L432 547.1L432.9 547L433.7 547L434.5 546.9L435.3 546.8L436.1 546.7L436.9 546.5L437.6 546.3L438.4 546.1L439.1 545.8L439.8 545.5L440.5 545.2L441.2 544.8L441.9 544.4L442 544.3M446.3 540.6L446.4 540.4L446.7 540.1L447 539.7L447.3 539.3L447.6 538.9L447.9 538.5L448.2 538.1L448.5 537.6L448.8 537.2L449.1 536.7L449.4 536.2L449.7 535.7L449.9 535.2L450.2 534.7L450.5 534.1L450.8 533.6L451.1 533L451.3 532.4L451.6 531.8L451.9 531.1L452.1 530.5L452.4 529.8L452.7 529.1L452.9 528.3L453.2 527.6L453.3 527.3M454.6 523L454.7 522.4L455 521.4L455.2 520.4L455.5 519.3L455.7 518.2L456 517.1L456.2 515.9L456.5 514.6L456.7 513.3L456.9 511.9L457.2 510.4L457.3 509.7M457.9 505.4L458.1 503.6L458.3 501.6L458.6 499.5L458.8 497.2L459 494.8L459.3 492.1M459.6 487.8L459.7 485.9L459.9 482.2L460.2 478.1L460.3 474.5M460.5 470.2L460.6 467.6" fill="none" stroke="#000" stroke-width="2.4" stroke-linejoin="round"/>
<path d="M460.6 482.8L460.8 475.8L461 466.9L461.3 454.2L461.5 432.7" fill="none" stroke="#000" stroke-width="1.6" stroke-linejoin="round"/>
<path d="M235.1 432.7L264.8 454.2L282.1 466.9L294.4 475.8L304 482.8L311.8 488.5L318.3 493.3L324.1 497.4L329.1 501.1L333.6 504.3L337.7 507.3L341.4 510L344.8 512.4L348 514.7L350.9 516.8L353.7 518.8L356.3 520.6L358.7 522.4L361 524L363.2 525.6L365.3 527.1L367.3 528.4L369.2 529.8L371 531L372.8 532.3L374.4 533.4L376.1 534.5L377.6 535.6L379.1 536.6L380.6 537.6L382 538.5L383.3 539.4L384.6 540.3L385.9 541.2L387.2 542L388.4 542.8L389.5 543.5L390.7 544.3L391.8 545L392.9 545.7L393.9 546.3L395 547L396 547.6L396.9 548.2L397.9 548.8L398.8 549.3L399.8 549.9L400.7 550.4L401.5 550.9L402.4 551.4L403.3 551.9L404.1 552.4L404.9 552.8L405.7 553.3L406.5 553.7L407.3 554.1L408 554.5L408.8 554.9L409.5 555.3L410.2 555.6L410.9 556L411.6 556.3L412.3 556.6L413 557L413.6 557.3L414.3 557.6L414.9 557.8L415.6 558.1L416.2 558.4L416.8 558.6L417.4 558.9L418 559.1L418.6 559.3L419.2 559.6L419.7 559.8L420.3 560L420.9 560.2L421.4 560.3L422 560.5L422.5 560.7L423 560.8L423.6 561L424.1 561.1L424.6 561.2L425.1 561.4L425.6 561.5L426.6 561.7L427.5 561.9L428.5 562L429.4 562.1L430.3 562.2L431.2 562.2L432 562.2L432.9 562.2L433.7 562.2L434.5 562.1L435.3 562L436.1 561.9L436.9 561.7L437.6 561.5L438.4 561.2L439.1 561L439.8 560.7L440.5 560.3L441.2 560L441.9 559.6L442.6 559.1L443.3 558.6L443.9 558.1L444.6 557.6L444.9 557.3L445.2 557L445.5 556.6L445.8 556.3L446.1 556L446.4 555.6L446.7 555.3L447 554.9L447.3 554.5L447.6 554.1L447.9 553.7L448.2 553.3L448.5 552.8L448.8 552.4L449.1 551.9L449.4 551.4L449.7 550.9L449.9 550.4L450.2 549.9L450.5 549.3L450.8 548.8L451.1 548.2L451.3 547.6L451.6 547L451.9 546.3L452.1 545.7L452.4 545L452.7 544.3L452.9 543.5L453.2 542.8L453.5 542L453.7 541.2L454 540.3L454.2 539.4L454.5 538.5L454.7 537.6L455 536.6L455.2 535.6L455.5 534.5L455.7 533.4L456 532.3L456.2 531L456.5 529.8L456.7 528.4L456.9 527.1L457.2 525.6L457.4 524L457.6 522.4L457.9 520.6L458.1 518.8L458.3 516.8L458.6 514.7L458.8 512.4L459 510L459.3 507.3L459.5 504.3L459.7 501.1L459.9 497.4L460.2 493.3L460.4 488.5L460.6 482.8" fill="none" stroke="#000" stroke-width="2.9" stroke-linejoin="round"/>
<path d="M460.6 500.7L460.8 493.8L461 484.8L461.3 472.2L461.5 450.5" fill="none" stroke="#000" stroke-width="1.6" stroke-linejoin="round"/>
<path d="M235.1 450.5L264.8 472.2L282.1 484.8L294.4 493.8L304 500.7L311.8 506.4L318.3 511.2L324.1 515.4L329.1 519L333.6 522.3L337.7 525.2L341.4 527.9L344.8 530.4L348 532.7L350.9 534.8L353.7 536.8L356.3 538.6L358.7 540.4L361 542L363.2 543.5L365.3 545L367.3 546.4L369.2 547.7L371 549L372.8 550.2L374.4 551.4L376.1 552.5L377.6 553.5L379.1 554.6L380.6 555.6L382 556.5L383.3 557.4L384.6 558.3L385.9 559.1L387.2 559.9L388.4 560.7L389.5 561.5L390.7 562.2L391.8 562.9L392.9 563.6L393.9 564.3L395 564.9L396 565.5L396.9 566.1L397.9 566.7L398.8 567.3L399.8 567.8L400.7 568.4L401.5 568.9L402.4 569.4L403.3 569.9L404.1 570.3L404.9 570.8L405.7 571.2L406.5 571.7L407.3 572.1L408 572.5L408.8 572.9L409.5 573.2L410.2 573.6L410.9 573.9L411.6 574.3L412.3 574.6L413 574.9L413.6 575.2L414.3 575.5L414.9 575.8L415.6 576.1L416.2 576.3L416.8 576.6L417.4 576.8L418 577.1L418.6 577.3L419.2 577.5L419.7 577.7L420.3 577.9L420.9 578.1L421.4 578.3L422 578.5L422.5 578.6L423 578.8L423.6 578.9L424.1 579.1L424.6 579.2L425.1 579.3L425.6 579.4L426.6 579.6L427.5 579.8L428.5 580L429.4 580.1L430.3 580.1L431.2 580.2L432 580.2L432.9 580.2L433.7 580.1L434.5 580.1L435.3 580L436.1 579.8L436.9 579.6L437.6 579.4L438.4 579.2L439.1 578.9L439.8 578.6L440.5 578.3L441.2 577.9L441.9 577.5L442.6 577.1L443.3 576.6L443.9 576.1L444.6 575.5L444.9 575.2L445.2 574.9L445.5 574.6L445.8 574.3L446.1 573.9L446.4 573.6L446.7 573.2L447 572.9L447.3 572.5L447.6 572.1L447.9 571.7L448.2 571.2L448.5 570.8L448.8 570.3L449.1 569.9L449.4 569.4L449.7 568.9L449.9 568.4L450.2 567.8L450.5 567.3L450.8 566.7L451.1 566.1L451.3 565.5L451.6 564.9L451.9 564.3L452.1 563.6L452.4 562.9L452.7 562.2L452.9 561.5L453.2 560.7L453.5 559.9L453.7 559.1L454 558.3L454.2 557.4L454.5 556.5L454.7 555.6L455 554.6L455.2 553.5L455.5 552.5L455.7 551.4L456 550.2L456.2 549L456.5 547.7L456.7 546.4L456.9 545L457.2 543.5L457.4 542L457.6 540.4L457.9 538.6L458.1 536.8L458.3 534.8L458.6 532.7L458.8 530.4L459 527.9L459.3 525.2L459.5 522.3L459.7 519L459.9 515.4L460.2 511.2L460.4 506.4L460.6 500.7" fill="none" stroke="#000" stroke-width="1.45" stroke-linejoin="round"/>
<rect x="87.75" y="360.6" width="393.8" height="251.60000000000002" fill="none" stroke="#000" stroke-width="1.2"/>
<path d="M117.4 612.2v-5M117.4 360.6v5M134.7 612.2v-5M134.7 360.6v5M147 612.2v-5M147 360.6v5M156.6 612.2v-5M156.6 360.6v5M164.4 612.2v-5M164.4 360.6v5M170.9 612.2v-5M170.9 360.6v5M176.7 612.2v-5M176.7 360.6v5M181.7 612.2v-5M181.7 360.6v5M186.2 612.2v-9.1M186.2 360.6v9.1M215.8 612.2v-5M215.8 360.6v5M233.2 612.2v-5M233.2 360.6v5M245.5 612.2v-5M245.5 360.6v5M255 612.2v-5M255 360.6v5M262.8 612.2v-5M262.8 360.6v5M269.4 612.2v-5M269.4 360.6v5M275.1 612.2v-5M275.1 360.6v5M280.1 612.2v-5M280.1 360.6v5M284.6 612.2v-9.1M284.6 360.6v9.1M314.3 612.2v-5M314.3 360.6v5M331.6 612.2v-5M331.6 360.6v5M343.9 612.2v-5M343.9 360.6v5M353.5 612.2v-5M353.5 360.6v5M361.3 612.2v-5M361.3 360.6v5M367.8 612.2v-5M367.8 360.6v5M373.6 612.2v-5M373.6 360.6v5M378.6 612.2v-5M378.6 360.6v5M383.1 612.2v-9.1M383.1 360.6v9.1M412.7 612.2v-5M412.7 360.6v5M430.1 612.2v-5M430.1 360.6v5M442.4 612.2v-5M442.4 360.6v5M451.9 612.2v-5M451.9 360.6v5M459.7 612.2v-5M459.7 360.6v5M466.3 612.2v-5M466.3 360.6v5M472 612.2v-5M472 360.6v5M477 612.2v-5M477 360.6v5M87.8 601.4h5M481.6 601.4h-5M87.8 595.1h5M481.6 595.1h-5M87.8 590.6h5M481.6 590.6h-5M87.8 587.1h5M481.6 587.1h-5M87.8 584.2h5M481.6 584.2h-5M87.8 581.8h5M481.6 581.8h-5M87.8 579.7h5M481.6 579.7h-5M87.8 577.9h5M481.6 577.9h-5M87.8 576.3h9.1M481.6 576.3h-9.1M87.8 565.4h5M481.6 565.4h-5M87.8 559.1h5M481.6 559.1h-5M87.8 554.6h5M481.6 554.6h-5M87.8 551.1h5M481.6 551.1h-5M87.8 548.3h5M481.6 548.3h-5M87.8 545.9h5M481.6 545.9h-5M87.8 543.8h5M481.6 543.8h-5M87.8 542h5M481.6 542h-5M87.8 540.3h9.1M481.6 540.3h-9.1M87.8 529.5h5M481.6 529.5h-5M87.8 523.2h5M481.6 523.2h-5M87.8 518.7h5M481.6 518.7h-5M87.8 515.2h5M481.6 515.2h-5M87.8 512.3h5M481.6 512.3h-5M87.8 509.9h5M481.6 509.9h-5M87.8 507.9h5M481.6 507.9h-5M87.8 506h5M481.6 506h-5M87.8 504.4h9.1M481.6 504.4h-9.1M87.8 493.6h5M481.6 493.6h-5M87.8 487.2h5M481.6 487.2h-5M87.8 482.7h5M481.6 482.7h-5M87.8 479.2h5M481.6 479.2h-5M87.8 476.4h5M481.6 476.4h-5M87.8 474h5M481.6 474h-5M87.8 471.9h5M481.6 471.9h-5M87.8 470.1h5M481.6 470.1h-5M87.8 468.4h9.1M481.6 468.4h-9.1M87.8 457.6h5M481.6 457.6h-5M87.8 451.3h5M481.6 451.3h-5M87.8 446.8h5M481.6 446.8h-5M87.8 443.3h5M481.6 443.3h-5M87.8 440.5h5M481.6 440.5h-5M87.8 438.1h5M481.6 438.1h-5M87.8 436h5M481.6 436h-5M87.8 434.1h5M481.6 434.1h-5M87.8 432.5h9.1M481.6 432.5h-9.1M87.8 421.7h5M481.6 421.7h-5M87.8 415.3h5M481.6 415.3h-5M87.8 410.8h5M481.6 410.8h-5M87.8 407.4h5M481.6 407.4h-5M87.8 404.5h5M481.6 404.5h-5M87.8 402.1h5M481.6 402.1h-5M87.8 400h5M481.6 400h-5M87.8 398.2h5M481.6 398.2h-5M87.8 396.5h9.1M481.6 396.5h-9.1M87.8 385.7h5M481.6 385.7h-5M87.8 379.4h5M481.6 379.4h-5M87.8 374.9h5M481.6 374.9h-5M87.8 371.4h5M481.6 371.4h-5M87.8 368.6h5M481.6 368.6h-5M87.8 366.2h5M481.6 366.2h-5M87.8 364.1h5M481.6 364.1h-5M87.8 362.2h5M481.6 362.2h-5" stroke="#000" stroke-width="1.2" fill="none"/>
<text x="72.3" y="369.6" text-anchor="end" class="tk">10</text><text x="72.2" y="358.4" class="sp">3</text>
<text x="72.3" y="405.5" text-anchor="end" class="tk">10</text><text x="72.2" y="394.3" class="sp">2</text>
<text x="72.3" y="441.5" text-anchor="end" class="tk">10</text><text x="72.2" y="430.3" class="sp">1</text>
<text x="72.3" y="477.4" text-anchor="end" class="tk">10</text><text x="72.2" y="466.2" class="sp">0</text>
<text x="67.3" y="513.4" text-anchor="end" class="tk">10</text><text x="66.9" y="502.2" class="sp">-1</text>
<text x="67.3" y="549.3" text-anchor="end" class="tk">10</text><text x="66.9" y="538.1" class="sp">-2</text>
<text x="67.3" y="585.3" text-anchor="end" class="tk">10</text><text x="66.9" y="574.1" class="sp">-3</text>
<text x="67.3" y="621.2" text-anchor="end" class="tk">10</text><text x="66.9" y="610" class="sp">-4</text>
<text x="70.3" y="641.3" class="tk">10</text><text x="95.2" y="629.5" class="sp">-4</text>
<text x="168.8" y="641.3" class="tk">10</text><text x="193.7" y="629.5" class="sp">-3</text>
<text x="267.2" y="641.3" class="tk">10</text><text x="292.1" y="629.5" class="sp">-2</text>
<text x="365.7" y="641.3" class="tk">10</text><text x="390.6" y="629.5" class="sp">-1</text>
<text x="466.6" y="641.3" class="tk">10</text><text x="491.5" y="629.5" class="sp">0</text>
<text x="152.7" y="670.9" class="big" textLength="169.5">WAVE NUMBER</text><text x="341.9" y="670.9" class="big bi">k</text><text x="355.6" y="684.9" class="sub">τ</text><text x="366.9" y="670.9" class="big">(nm</text><text x="408.9" y="658.8" class="sp">-1</text><text x="422.6" y="670.9" class="big">)</text>
<g transform="translate(16.7 589.4) rotate(-90)"><text x="0" y="0" class="big">PSD</text><text x="65.2" y="0" class="big bi">I</text><text x="72.3" y="12.3" class="sub2"><tspan class="tau">τ</tspan></text><text x="81.9" y="0" class="big" textLength="126.5">/var(w) (nm)</text></g>
<text x="396.9" y="401.6" class="an" textLength="28.5">(b)</text>
<text x="235.6" y="595.6" class="an" textLength="36.6"><tspan class="bi">n</tspan>=1</text>
</g>
</svg></body></html>
